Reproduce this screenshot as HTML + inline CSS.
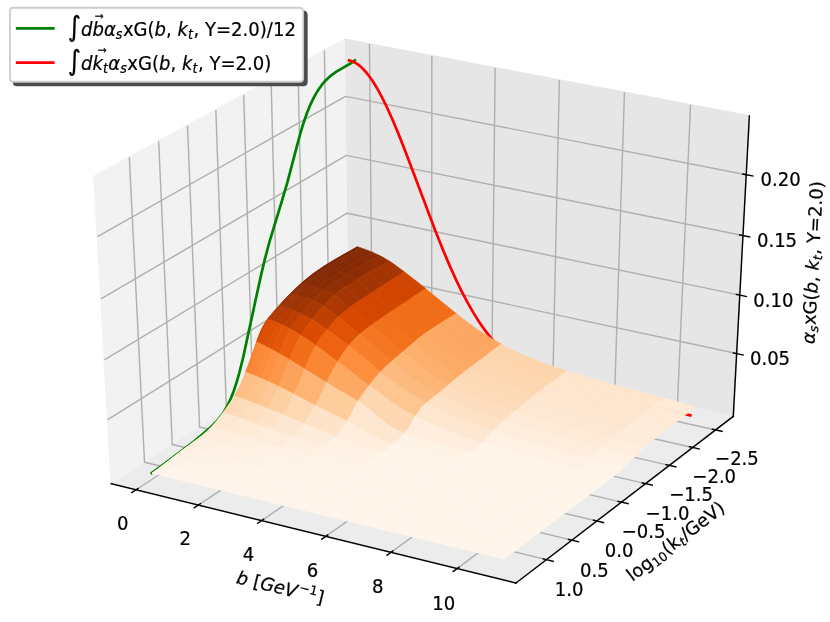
<!DOCTYPE html>
<html><head><meta charset="utf-8"><title>plot</title>
<style>html,body{margin:0;padding:0;background:#fff;}body{width:830px;height:622px;overflow:hidden;}svg{display:block;}svg text{stroke:#000;stroke-width:0.12px;}</style>
</head><body>
<svg width="830" height="622" viewBox="0 0 459.69 344.49" version="1.1"> <defs> <style type="text/css">*{stroke-linejoin: round; stroke-linecap: butt}</style> </defs> <g id="figure_1"> <g id="patch_1"> <path d="M 0 344.49  L 459.69 344.49  L 459.69 0  L 0 0  z " style="fill: #ffffff"/> </g> <g id="patch_2"> <path d="M 0.74 344.06  L 460.15 344.06  L 460.15 -0.69  L 0.74 -0.69  z " style="fill: #ffffff"/> </g> <g id="pane3d_1"> <g id="patch_3"> <path d="M 193.13 183.35  L 61.64 267.88  L 52.12 97.78  L 190.94 21.83  " style="fill: #f2f2f2; stroke: #f2f2f2; stroke-linejoin: miter"/> </g> </g> <g id="pane3d_2"> <g id="patch_4"> <path d="M 193.13 183.35  L 406.12 230.61  L 415.03 64.22  L 190.94 21.83  " style="fill: #e6e6e6; stroke: #e6e6e6; stroke-linejoin: miter"/> </g> </g> <g id="pane3d_3"> <g id="patch_5"> <path d="M 193.13 183.35  L 406.12 230.61  L 285.74 322.92  L 61.64 267.88  " style="fill: #ececec; stroke: #ececec; stroke-linejoin: miter"/> </g> </g> <g id="grid3d_1"> <g id="Line3DCollection_1"> <path d="M 75.30 271.24  L 206.15 186.24  L 204.62 24.42  " style="fill: none; stroke: #b0b0b0; stroke-width: 0.8"/> <path d="M 109.85 279.72  L 239.06 193.55  L 239.18 30.96  " style="fill: none; stroke: #b0b0b0; stroke-width: 0.8"/> <path d="M 144.89 288.33  L 272.41 200.95  L 274.24 37.59  " style="fill: none; stroke: #b0b0b0; stroke-width: 0.8"/> <path d="M 180.44 297.06  L 306.22 208.44  L 309.80 44.32  " style="fill: none; stroke: #b0b0b0; stroke-width: 0.8"/> <path d="M 216.51 305.92  L 340.48 216.05  L 345.86 51.14  " style="fill: none; stroke: #b0b0b0; stroke-width: 0.8"/> <path d="M 253.12 314.91  L 375.21 223.75  L 382.45 58.06  " style="fill: none; stroke: #b0b0b0; stroke-width: 0.8"/> </g> </g> <g id="grid3d_2"> <g id="Line3DCollection_2"> <path d="M 71.62 87.11  L 80.05 256.05  L 302.64 309.96  " style="fill: none; stroke: #b0b0b0; stroke-width: 0.8"/> <path d="M 87.88 78.22  L 95.42 246.17  L 316.74 299.15  " style="fill: none; stroke: #b0b0b0; stroke-width: 0.8"/> <path d="M 103.86 69.48  L 110.53 236.46  L 330.59 288.53  " style="fill: none; stroke: #b0b0b0; stroke-width: 0.8"/> <path d="M 119.55 60.89  L 125.38 226.91  L 344.20 278.09  " style="fill: none; stroke: #b0b0b0; stroke-width: 0.8"/> <path d="M 134.97 52.45  L 139.99 217.51  L 357.57 267.84  " style="fill: none; stroke: #b0b0b0; stroke-width: 0.8"/> <path d="M 150.13 44.16  L 154.36 208.27  L 370.72 257.76  " style="fill: none; stroke: #b0b0b0; stroke-width: 0.8"/> <path d="M 165.02 36.01  L 168.50 199.18  L 383.64 247.85  " style="fill: none; stroke: #b0b0b0; stroke-width: 0.8"/> <path d="M 179.67 28.00  L 182.41 190.24  L 396.34 238.11  " style="fill: none; stroke: #b0b0b0; stroke-width: 0.8"/> </g> </g> <g id="grid3d_3"> <g id="Line3DCollection_3"> <path d="M 407.98 195.80  L 192.67 149.51  L 59.65 232.35  " style="fill: none; stroke: #b0b0b0; stroke-width: 0.8"/> <path d="M 409.72 163.46  L 192.24 118.08  L 57.80 199.30  " style="fill: none; stroke: #b0b0b0; stroke-width: 0.8"/> <path d="M 411.48 130.45  L 191.81 86.04  L 55.92 165.56  " style="fill: none; stroke: #b0b0b0; stroke-width: 0.8"/> <path d="M 413.29 96.77  L 191.37 53.37  L 53.99 131.10  " style="fill: none; stroke: #b0b0b0; stroke-width: 0.8"/> </g> </g> <g id="axis3d_1"> <g id="line2d_1"> <path d="M 61.64 267.88  L 285.74 322.92  " style="fill: none; stroke: #000000; stroke-width: 0.8; stroke-linecap: square"/> </g> <g id="xtick_1"> <g id="line2d_2"> <path d="M 76.43 270.51  L 73.05 272.70  " style="fill: none; stroke: #000000; stroke-width: 0.8; stroke-linecap: square"/> </g> <g id="text_1"> <text style="font-size: 10px; font-family: 'DejaVu Sans', 'Liberation Sans', sans-serif; text-anchor: middle" x="68.01" y="292.76" transform="rotate(-0 68.01 292.76) translate(0 285.47) scale(1 1.09) translate(0 -285.47)">0</text> </g> </g> <g id="xtick_2"> <g id="line2d_3"> <path d="M 110.96 278.98  L 107.61 281.21  " style="fill: none; stroke: #000000; stroke-width: 0.8; stroke-linecap: square"/> </g> <g id="text_2"> <text style="font-size: 10px; font-family: 'DejaVu Sans', 'Liberation Sans', sans-serif; text-anchor: middle" x="102.55" y="301.36" transform="rotate(-0 102.55 301.36) translate(0 294.07) scale(1 1.09) translate(0 -294.07)">2</text> </g> </g> <g id="xtick_3"> <g id="line2d_4"> <path d="M 145.99 287.57  L 142.68 289.84  " style="fill: none; stroke: #000000; stroke-width: 0.8; stroke-linecap: square"/> </g> <g id="text_3"> <text style="font-size: 10px; font-family: 'DejaVu Sans', 'Liberation Sans', sans-serif; text-anchor: middle" x="137.59" y="310.08" transform="rotate(-0 137.59 310.08) translate(0 302.79) scale(1 1.09) translate(0 -302.79)">4</text> </g> </g> <g id="xtick_4"> <g id="line2d_5"> <path d="M 181.52 296.29  L 178.26 298.59  " style="fill: none; stroke: #000000; stroke-width: 0.8; stroke-linecap: square"/> </g> <g id="text_4"> <text style="font-size: 10px; font-family: 'DejaVu Sans', 'Liberation Sans', sans-serif; text-anchor: middle" x="173.14" y="318.92" transform="rotate(-0 173.14 318.92) translate(0 311.63) scale(1 1.09) translate(0 -311.63)">6</text> </g> </g> <g id="xtick_5"> <g id="line2d_6"> <path d="M 217.58 305.14  L 214.37 307.47  " style="fill: none; stroke: #000000; stroke-width: 0.8; stroke-linecap: square"/> </g> <g id="text_5"> <text style="font-size: 10px; font-family: 'DejaVu Sans', 'Liberation Sans', sans-serif; text-anchor: middle" x="209.21" y="327.90" transform="rotate(-0 209.21 327.90) translate(0 320.61) scale(1 1.09) translate(0 -320.61)">8</text> </g> </g> <g id="xtick_6"> <g id="line2d_7"> <path d="M 254.18 314.12  L 251.01 316.49  " style="fill: none; stroke: #000000; stroke-width: 0.8; stroke-linecap: square"/> </g> <g id="text_6"> <text style="font-size: 10px; font-family: 'DejaVu Sans', 'Liberation Sans', sans-serif; text-anchor: middle" x="245.82" y="337.01" transform="rotate(-0 245.82 337.01) translate(0 329.72) scale(1 1.09) translate(0 -329.72)">10</text> </g> </g> <g id="text_7"> <!-- $b\ [GeV^{-1}]$ --> <g transform="translate(130.45 322.90) rotate(-346.20)"> <text><tspan x="0" y="-0.06" style="font-style: oblique; font-size: 10px; font-family: 'DejaVu Sans', 'Liberation Sans', sans-serif">b</tspan><tspan x="9.59" y="-0.06" style="font-size: 10px; font-family: 'DejaVu Sans', 'Liberation Sans', sans-serif">[</tspan><tspan x="13.49" y="-0.06" style="font-style: oblique; font-size: 10px; font-family: 'DejaVu Sans', 'Liberation Sans', sans-serif">G</tspan><tspan x="21.24" y="-0.06" style="font-style: oblique; font-size: 10px; font-family: 'DejaVu Sans', 'Liberation Sans', sans-serif">e</tspan><tspan x="27.39" y="-0.06" style="font-style: oblique; font-size: 10px; font-family: 'DejaVu Sans', 'Liberation Sans', sans-serif">V</tspan><tspan x="34.94" y="-3.89" style="font-size: 7px; font-family: 'DejaVu Sans', 'Liberation Sans', sans-serif">−</tspan><tspan x="40.80" y="-3.89" style="font-size: 7px; font-family: 'DejaVu Sans', 'Liberation Sans', sans-serif">1</tspan><tspan x="45.53" y="-0.06" style="font-size: 10px; font-family: 'DejaVu Sans', 'Liberation Sans', sans-serif">]</tspan></text> </g> </g> </g> <g id="axis3d_2"> <g id="line2d_8"> <path d="M 406.12 230.61  L 285.74 322.92  " style="fill: none; stroke: #000000; stroke-width: 0.8; stroke-linecap: square"/> </g> <g id="xtick_7"> <g id="line2d_9"> <path d="M 300.78 309.51  L 306.37 310.86  " style="fill: none; stroke: #000000; stroke-width: 0.8; stroke-linecap: square"/> </g> <g id="text_8"> <text style="font-size: 10px; font-family: 'DejaVu Sans', 'Liberation Sans', sans-serif; text-anchor: middle" x="315.23" y="329.70" transform="rotate(-0 315.23 329.70) translate(0 322.41) scale(1 1.09) translate(0 -322.41)">1.0</text> </g> </g> <g id="xtick_8"> <g id="line2d_10"> <path d="M 314.89 298.71  L 320.45 300.04  " style="fill: none; stroke: #000000; stroke-width: 0.8; stroke-linecap: square"/> </g> <g id="text_9"> <text style="font-size: 10px; font-family: 'DejaVu Sans', 'Liberation Sans', sans-serif; text-anchor: middle" x="329.21" y="318.79" transform="rotate(-0 329.21 318.79) translate(0 311.50) scale(1 1.09) translate(0 -311.50)">0.5</text> </g> </g> <g id="xtick_9"> <g id="line2d_11"> <path d="M 328.75 288.09  L 334.27 289.40  " style="fill: none; stroke: #000000; stroke-width: 0.8; stroke-linecap: square"/> </g> <g id="text_10"> <text style="font-size: 10px; font-family: 'DejaVu Sans', 'Liberation Sans', sans-serif; text-anchor: middle" x="342.95" y="308.07" transform="rotate(-0 342.95 308.07) translate(0 300.78) scale(1 1.09) translate(0 -300.78)">0.0</text> </g> </g> <g id="xtick_10"> <g id="line2d_12"> <path d="M 342.37 277.67  L 347.86 278.95  " style="fill: none; stroke: #000000; stroke-width: 0.8; stroke-linecap: square"/> </g> <g id="text_11"> <text style="font-size: 10px; font-family: 'DejaVu Sans', 'Liberation Sans', sans-serif; text-anchor: middle" x="356.44" y="297.53" transform="rotate(-0 356.44 297.53) translate(0 290.24) scale(1 1.09) translate(0 -290.24)">−0.5</text> </g> </g> <g id="xtick_11"> <g id="line2d_13"> <path d="M 355.75 267.42  L 361.21 268.68  " style="fill: none; stroke: #000000; stroke-width: 0.8; stroke-linecap: square"/> </g> <g id="text_12"> <text style="font-size: 10px; font-family: 'DejaVu Sans', 'Liberation Sans', sans-serif; text-anchor: middle" x="369.71" y="287.18" transform="rotate(-0 369.71 287.18) translate(0 279.89) scale(1 1.09) translate(0 -279.89)">−1.0</text> </g> </g> <g id="xtick_12"> <g id="line2d_14"> <path d="M 368.91 257.35  L 374.33 258.59  " style="fill: none; stroke: #000000; stroke-width: 0.8; stroke-linecap: square"/> </g> <g id="text_13"> <text style="font-size: 10px; font-family: 'DejaVu Sans', 'Liberation Sans', sans-serif; text-anchor: middle" x="382.74" y="277.00" transform="rotate(-0 382.74 277.00) translate(0 269.71) scale(1 1.09) translate(0 -269.71)">−1.5</text> </g> </g> <g id="xtick_13"> <g id="line2d_15"> <path d="M 381.84 247.45  L 387.23 248.66  " style="fill: none; stroke: #000000; stroke-width: 0.8; stroke-linecap: square"/> </g> <g id="text_14"> <text style="font-size: 10px; font-family: 'DejaVu Sans', 'Liberation Sans', sans-serif; text-anchor: middle" x="395.56" y="267.00" transform="rotate(-0 395.56 267.00) translate(0 259.71) scale(1 1.09) translate(0 -259.71)">−2.0</text> </g> </g> <g id="xtick_14"> <g id="line2d_16"> <path d="M 394.55 237.71  L 399.91 238.91  " style="fill: none; stroke: #000000; stroke-width: 0.8; stroke-linecap: square"/> </g> <g id="text_15"> <text style="font-size: 10px; font-family: 'DejaVu Sans', 'Liberation Sans', sans-serif; text-anchor: middle" x="408.15" y="257.16" transform="rotate(-0 408.15 257.16) translate(0 249.88) scale(1 1.09) translate(0 -249.88)">−2.5</text> </g> </g> <g id="text_16"> <!-- log$_{10}$(k$_t$/GeV) --> <g transform="translate(350.53 322.71) rotate(-37.48)"> <text><tspan x="0" y="-0.40" style="font-size: 10px; font-family: 'DejaVu Sans', 'Liberation Sans', sans-serif">l</tspan><tspan x="2.77" y="-0.40" style="font-size: 10px; font-family: 'DejaVu Sans', 'Liberation Sans', sans-serif">o</tspan><tspan x="8.89" y="-0.40" style="font-size: 10px; font-family: 'DejaVu Sans', 'Liberation Sans', sans-serif">g</tspan><tspan x="15.33" y="1.23" style="font-size: 7px; font-family: 'DejaVu Sans', 'Liberation Sans', sans-serif">1</tspan><tspan x="19.79" y="1.23" style="font-size: 7px; font-family: 'DejaVu Sans', 'Liberation Sans', sans-serif">0</tspan><tspan x="24.52" y="-0.40" style="font-size: 10px; font-family: 'DejaVu Sans', 'Liberation Sans', sans-serif">(</tspan><tspan x="28.42" y="-0.40" style="font-size: 10px; font-family: 'DejaVu Sans', 'Liberation Sans', sans-serif">k</tspan><tspan x="34.30" y="1.23" style="font-style: oblique; font-size: 7px; font-family: 'DejaVu Sans', 'Liberation Sans', sans-serif">t</tspan><tspan x="37.32" y="-0.40" style="font-size: 10px; font-family: 'DejaVu Sans', 'Liberation Sans', sans-serif">/</tspan><tspan x="40.69" y="-0.40" style="font-size: 10px; font-family: 'DejaVu Sans', 'Liberation Sans', sans-serif">G</tspan><tspan x="48.44" y="-0.40" style="font-size: 10px; font-family: 'DejaVu Sans', 'Liberation Sans', sans-serif">e</tspan><tspan x="54.59" y="-0.40" style="font-size: 10px; font-family: 'DejaVu Sans', 'Liberation Sans', sans-serif">V</tspan><tspan x="61.43" y="-0.40" style="font-size: 10px; font-family: 'DejaVu Sans', 'Liberation Sans', sans-serif">)</tspan></text> </g> </g> </g> <g id="axis3d_3"> <g id="line2d_17"> <path d="M 406.12 230.61  L 415.03 64.22  " style="fill: none; stroke: #000000; stroke-width: 0.8; stroke-linecap: square"/> </g> <g id="xtick_15"> <g id="line2d_18"> <path d="M 406.19 195.42  L 411.58 196.58  " style="fill: none; stroke: #000000; stroke-width: 0.8; stroke-linecap: square"/> </g> <g id="text_17"> <text style="font-size: 10px; font-family: 'DejaVu Sans', 'Liberation Sans', sans-serif; text-anchor: middle" x="426.47" y="201.46" transform="rotate(-0 426.47 201.46) translate(0 194.17) scale(1 1.09) translate(0 -194.17)">0.05</text> </g> </g> <g id="xtick_16"> <g id="line2d_19"> <path d="M 407.90 163.08  L 413.35 164.22  " style="fill: none; stroke: #000000; stroke-width: 0.8; stroke-linecap: square"/> </g> <g id="text_18"> <text style="font-size: 10px; font-family: 'DejaVu Sans', 'Liberation Sans', sans-serif; text-anchor: middle" x="428.38" y="169.16" transform="rotate(-0 428.38 169.16) translate(0 161.87) scale(1 1.09) translate(0 -161.87)">0.10</text> </g> </g> <g id="xtick_17"> <g id="line2d_20"> <path d="M 409.65 130.08  L 415.16 131.20  " style="fill: none; stroke: #000000; stroke-width: 0.8; stroke-linecap: square"/> </g> <g id="text_19"> <text style="font-size: 10px; font-family: 'DejaVu Sans', 'Liberation Sans', sans-serif; text-anchor: middle" x="430.34" y="136.19" transform="rotate(-0 430.34 136.19) translate(0 128.90) scale(1 1.09) translate(0 -128.90)">0.15</text> </g> </g> <g id="xtick_18"> <g id="line2d_21"> <path d="M 411.43 96.40  L 417.00 97.49  " style="fill: none; stroke: #000000; stroke-width: 0.8; stroke-linecap: square"/> </g> <g id="text_20"> <text style="font-size: 10px; font-family: 'DejaVu Sans', 'Liberation Sans', sans-serif; text-anchor: middle" x="432.33" y="102.55" transform="rotate(-0 432.33 102.55) translate(0 95.26) scale(1 1.09) translate(0 -95.26)">0.20</text> </g> </g> <g id="text_21"> <!-- $\alpha_s$xG($b$, $k_t$, Y=2.0) --> <g transform="translate(451.47 190.69) rotate(-86.93)"> <text><tspan x="0" y="-0.40" style="font-style: oblique; font-size: 10px; font-family: 'DejaVu Sans', 'Liberation Sans', sans-serif">α</tspan><tspan x="6.59" y="1.23" style="font-style: oblique; font-size: 7px; font-family: 'DejaVu Sans', 'Liberation Sans', sans-serif">s</tspan><tspan x="10.51" y="-0.40" style="font-size: 10px; font-family: 'DejaVu Sans', 'Liberation Sans', sans-serif">x</tspan><tspan x="16.43" y="-0.40" style="font-size: 10px; font-family: 'DejaVu Sans', 'Liberation Sans', sans-serif">G</tspan><tspan x="24.17" y="-0.40" style="font-size: 10px; font-family: 'DejaVu Sans', 'Liberation Sans', sans-serif">(</tspan><tspan x="28.08" y="-0.40" style="font-style: oblique; font-size: 10px; font-family: 'DejaVu Sans', 'Liberation Sans', sans-serif">b</tspan><tspan x="34.42" y="-0.40" style="font-size: 10px; font-family: 'DejaVu Sans', 'Liberation Sans', sans-serif">,</tspan><tspan x="37.60" y="-0.40" style="font-size: 10px; font-family: 'DejaVu Sans', 'Liberation Sans', sans-serif"> </tspan><tspan x="40.78" y="-0.40" style="font-style: oblique; font-size: 10px; font-family: 'DejaVu Sans', 'Liberation Sans', sans-serif">k</tspan><tspan x="46.57" y="1.23" style="font-style: oblique; font-size: 7px; font-family: 'DejaVu Sans', 'Liberation Sans', sans-serif">t</tspan><tspan x="49.59" y="-0.40" style="font-size: 10px; font-family: 'DejaVu Sans', 'Liberation Sans', sans-serif">,</tspan><tspan x="52.77" y="-0.40" style="font-size: 10px; font-family: 'DejaVu Sans', 'Liberation Sans', sans-serif"> </tspan><tspan x="55.95" y="-0.40" style="font-size: 10px; font-family: 'DejaVu Sans', 'Liberation Sans', sans-serif">Y</tspan><tspan x="62.06" y="-0.40" style="font-size: 10px; font-family: 'DejaVu Sans', 'Liberation Sans', sans-serif">=</tspan><tspan x="70.43" y="-0.40" style="font-size: 10px; font-family: 'DejaVu Sans', 'Liberation Sans', sans-serif">2</tspan><tspan x="76.80" y="-0.40" style="font-size: 10px; font-family: 'DejaVu Sans', 'Liberation Sans', sans-serif">.</tspan><tspan x="79.98" y="-0.40" style="font-size: 10px; font-family: 'DejaVu Sans', 'Liberation Sans', sans-serif">0</tspan><tspan x="86.34" y="-0.40" style="font-size: 10px; font-family: 'DejaVu Sans', 'Liberation Sans', sans-serif">)</tspan></text> </g> </g> </g> <g id="axes_1"> <g id="line2d_22"> <path d="M 196.51 33.51  L 194.25 35.05  L 190.86 37.04  L 186.31 39.71  L 184.03 41.30  L 182.13 42.86  L 180.23 44.71  L 178.33 46.91  L 176.44 49.54  L 174.93 51.98  L 173.43 54.76  L 171.93 57.92  L 170.07 62.45  L 168.23 67.67  L 166.40 73.65  L 164.22 81.72  L 159.17 100.99  L 156.26 110.80  L 149.36 133.59  L 146.84 142.95  L 144.72 151.76  L 141.92 164.46  L 134.62 198.19  L 132.51 206.60  L 130.73 212.77  L 129.28 217.06  L 127.82 220.77  L 126.33 223.99  L 124.83 226.76  L 123.32 229.16  L 121.41 231.71  L 119.48 233.89  L 117.15 236.16  L 112.84 239.97  L 107.72 244.22  L 101.37 249.18  L 92.56 255.73  L 84.07 262.00  L 84.07 262.00  " clip-path="url(#p91feb46b0d)" style="fill: none; stroke: #008000; stroke-width: 1.5; stroke-linecap: square"/> </g> <g id="line2d_23"> <path d="M 193.36 33.47  L 194.62 33.80  L 195.89 34.31  L 197.16 34.99  L 199.07 36.34  L 200.98 38.07  L 202.89 40.17  L 204.81 42.63  L 206.73 45.44  L 208.66 48.57  L 211.22 53.21  L 213.79 58.34  L 216.99 65.35  L 220.19 72.91  L 224.01 82.52  L 229.73 97.60  L 241.05 127.68  L 245.42 138.60  L 249.15 147.39  L 252.87 155.58  L 255.97 161.91  L 259.06 167.77  L 262.15 173.16  L 265.23 178.08  L 268.32 182.56  L 271.41 186.60  L 274.50 190.24  L 277.60 193.51  L 280.69 196.42  L 283.80 199.02  L 286.90 201.34  L 290.02 203.41  L 293.76 205.60  L 297.50 207.52  L 301.89 209.48  L 306.28 211.19  L 311.31 212.93  L 317.62 214.84  L 325.22 216.89  L 335.39 219.39  L 352.01 223.21  L 382.33 229.99  L 382.33 229.99  " clip-path="url(#p91feb46b0d)" style="fill: none; stroke: #ff0000; stroke-width: 1.5; stroke-linecap: square"/> </g> <g id="Poly3DCollection_1"> <path d="M 197.74 136.74  L 197.79 136.76  L 197.84 136.77  L 197.90 136.79  L 197.95 136.80  L 196.74 137.51  L 195.53 138.20  L 194.31 138.89  L 193.10 139.58  L 191.88 140.27  L 191.83 140.25  L 191.77 140.23  L 191.72 140.22  L 191.67 140.20  L 192.89 139.52  L 194.10 138.83  L 195.32 138.14  L 196.53 137.45  z " clip-path="url(#p91feb46b0d)" style="fill: #812804; stroke: #812804; stroke-width: 0.35"/> <path d="M 197.95 136.80  L 197.97 136.81  L 197.99 136.81  L 198.02 136.82  L 198.04 136.83  L 196.83 137.53  L 195.62 138.23  L 194.41 138.92  L 193.19 139.61  L 191.97 140.30  L 191.95 140.29  L 191.92 140.28  L 191.90 140.27  L 191.88 140.27  L 193.10 139.58  L 194.31 138.89  L 195.53 138.20  L 196.74 137.51  z " clip-path="url(#p91feb46b0d)" style="fill: #812804; stroke: #812804; stroke-width: 0.35"/> <path d="M 198.04 136.83  L 198.07 136.84  L 198.10 136.84  L 198.14 136.85  L 198.18 136.87  L 196.97 137.57  L 195.76 138.27  L 194.54 138.96  L 193.33 139.65  L 192.11 140.34  L 192.07 140.33  L 192.03 140.32  L 192.00 140.31  L 191.97 140.30  L 193.19 139.61  L 194.41 138.92  L 195.62 138.23  L 196.83 137.53  z " clip-path="url(#p91feb46b0d)" style="fill: #812804; stroke: #812804; stroke-width: 0.35"/> <path d="M 198.18 136.87  L 198.22 136.88  L 198.27 136.89  L 198.32 136.91  L 198.38 136.92  L 197.17 137.63  L 195.95 138.33  L 194.74 139.02  L 193.52 139.72  L 192.31 140.41  L 192.25 140.39  L 192.20 140.37  L 192.15 140.36  L 192.11 140.34  L 193.33 139.65  L 194.54 138.96  L 195.76 138.27  L 196.97 137.57  z " clip-path="url(#p91feb46b0d)" style="fill: #812804; stroke: #812804; stroke-width: 0.35"/> <path d="M 198.38 136.92  L 198.44 136.94  L 198.50 136.96  L 198.58 136.98  L 198.66 137.00  L 197.45 137.71  L 196.24 138.42  L 195.03 139.11  L 193.81 139.81  L 192.59 140.50  L 192.51 140.47  L 192.44 140.45  L 192.37 140.43  L 192.31 140.41  L 193.52 139.72  L 194.74 139.02  L 195.95 138.33  L 197.17 137.63  z " clip-path="url(#p91feb46b0d)" style="fill: #812804; stroke: #812804; stroke-width: 0.35"/> <path d="M 198.66 137.00  L 198.75 137.03  L 198.85 137.06  L 198.96 137.09  L 199.08 137.13  L 197.87 137.84  L 196.65 138.55  L 195.44 139.25  L 194.23 139.94  L 193.01 140.64  L 192.89 140.60  L 192.78 140.56  L 192.68 140.53  L 192.59 140.50  L 193.81 139.81  L 195.03 139.11  L 196.24 138.42  L 197.45 137.71  z " clip-path="url(#p91feb46b0d)" style="fill: #812804; stroke: #812804; stroke-width: 0.35"/> <path d="M 199.08 137.13  L 199.21 137.17  L 199.35 137.21  L 199.50 137.26  L 199.68 137.31  L 198.47 138.03  L 197.26 138.74  L 196.04 139.44  L 194.83 140.14  L 193.61 140.84  L 193.44 140.78  L 193.28 140.73  L 193.14 140.68  L 193.01 140.64  L 194.23 139.94  L 195.44 139.25  L 196.65 138.55  L 197.87 137.84  z " clip-path="url(#p91feb46b0d)" style="fill: #812804; stroke: #812804; stroke-width: 0.35"/> <path d="M 199.68 137.31  L 199.86 137.37  L 200.07 137.44  L 200.30 137.51  L 200.55 137.59  L 199.34 138.31  L 198.13 139.02  L 196.91 139.73  L 195.70 140.43  L 194.48 141.14  L 194.23 141.05  L 194.01 140.97  L 193.80 140.90  L 193.61 140.84  L 194.83 140.14  L 196.04 139.44  L 197.26 138.74  L 198.47 138.03  z " clip-path="url(#p91feb46b0d)" style="fill: #832804; stroke: #832804; stroke-width: 0.35"/> <path d="M 200.55 137.59  L 200.82 137.68  L 201.12 137.77  L 201.45 137.89  L 201.81 138.01  L 200.60 138.74  L 199.39 139.46  L 198.18 140.17  L 196.97 140.87  L 195.75 141.58  L 195.39 141.45  L 195.06 141.33  L 194.76 141.23  L 194.48 141.14  L 195.70 140.43  L 196.91 139.73  L 198.13 139.02  L 199.34 138.31  z " clip-path="url(#p91feb46b0d)" style="fill: #832804; stroke: #832804; stroke-width: 0.35"/> <path d="M 201.81 138.01  L 202.20 138.15  L 202.64 138.31  L 203.12 138.49  L 203.64 138.69  L 202.43 139.42  L 201.22 140.13  L 200.01 140.84  L 198.80 141.54  L 197.59 142.24  L 197.06 142.05  L 196.58 141.88  L 196.15 141.72  L 195.75 141.58  L 196.97 140.87  L 198.18 140.17  L 199.39 139.46  L 200.60 138.74  z " clip-path="url(#p91feb46b0d)" style="fill: #852904; stroke: #852904; stroke-width: 0.35"/> <path d="M 203.64 138.69  L 204.21 138.91  L 204.84 139.16  L 205.54 139.44  L 206.30 139.75  L 205.09 140.47  L 203.88 141.17  L 202.67 141.85  L 201.46 142.53  L 200.25 143.21  L 199.49 142.93  L 198.79 142.68  L 198.16 142.45  L 197.59 142.24  L 198.80 141.54  L 200.01 140.84  L 201.22 140.13  L 202.43 139.42  z " clip-path="url(#p91feb46b0d)" style="fill: #862a04; stroke: #862a04; stroke-width: 0.35"/> <path d="M 206.30 139.75  L 207.13 140.11  L 208.04 140.51  L 209.05 140.98  L 210.15 141.51  L 208.95 142.19  L 207.74 142.84  L 206.53 143.47  L 205.32 144.10  L 204.11 144.72  L 203.01 144.26  L 202.00 143.87  L 201.08 143.52  L 200.25 143.21  L 201.46 142.53  L 202.67 141.85  L 203.88 141.17  L 205.09 140.47  z " clip-path="url(#p91feb46b0d)" style="fill: #8a2b04; stroke: #8a2b04; stroke-width: 0.35"/> <path d="M 210.15 141.51  L 211.36 142.12  L 212.69 142.84  L 214.15 143.69  L 215.75 144.69  L 214.55 145.36  L 213.34 146.00  L 212.14 146.62  L 210.93 147.23  L 209.73 147.85  L 208.12 146.79  L 206.66 145.95  L 205.32 145.27  L 204.11 144.72  L 205.32 144.10  L 206.53 143.47  L 207.74 142.84  L 208.95 142.19  z " clip-path="url(#p91feb46b0d)" style="fill: #932f03; stroke: #932f03; stroke-width: 0.35"/> <path d="M 215.75 144.69  L 217.50 145.86  L 219.43 147.23  L 221.55 148.79  L 223.87 150.54  L 222.68 151.32  L 221.48 152.09  L 220.29 152.86  L 219.09 153.62  L 217.88 154.38  L 215.55 152.44  L 213.43 150.68  L 211.49 149.14  L 209.73 147.85  L 210.93 147.23  L 212.14 146.62  L 213.34 146.00  L 214.55 145.36  z " clip-path="url(#p91feb46b0d)" style="fill: #a53603; stroke: #a53603; stroke-width: 0.35"/> <path d="M 223.87 150.54  L 226.42 152.49  L 229.22 154.66  L 232.29 157.08  L 235.66 159.78  L 234.47 160.60  L 233.29 161.41  L 232.10 162.23  L 230.91 163.04  L 229.71 163.86  L 226.33 161.15  L 223.25 158.71  L 220.44 156.46  L 217.88 154.38  L 219.09 153.62  L 220.29 152.86  L 221.48 152.09  L 222.68 151.32  z " clip-path="url(#p91feb46b0d)" style="fill: #d04501; stroke: #d04501; stroke-width: 0.35"/> <path d="M 235.66 159.78  L 239.36 162.79  L 243.42 166.12  L 247.87 169.76  L 252.75 173.70  L 251.58 174.36  L 250.40 175.04  L 249.23 175.74  L 248.05 176.45  L 246.87 177.18  L 241.96 173.33  L 237.49 169.90  L 233.42 166.78  L 229.71 163.86  L 230.91 163.04  L 232.10 162.23  L 233.29 161.41  L 234.47 160.60  z " clip-path="url(#p91feb46b0d)" style="fill: #f26d17; stroke: #f26d17; stroke-width: 0.35"/> <path d="M 191.67 140.20  L 191.72 140.22  L 191.77 140.23  L 191.83 140.25  L 191.88 140.27  L 190.66 140.96  L 189.44 141.65  L 188.21 142.34  L 186.99 143.05  L 185.76 143.76  L 185.71 143.74  L 185.66 143.72  L 185.61 143.71  L 185.55 143.69  L 186.78 142.98  L 188.00 142.27  L 189.23 141.58  L 190.45 140.89  z " clip-path="url(#p91feb46b0d)" style="fill: #7f2704; stroke: #7f2704; stroke-width: 0.35"/> <path d="M 191.88 140.27  L 191.90 140.27  L 191.92 140.28  L 191.95 140.29  L 191.97 140.30  L 190.75 140.99  L 189.53 141.68  L 188.31 142.38  L 187.08 143.08  L 185.86 143.80  L 185.83 143.79  L 185.81 143.78  L 185.78 143.77  L 185.76 143.76  L 186.99 143.05  L 188.21 142.34  L 189.44 141.65  L 190.66 140.96  z " clip-path="url(#p91feb46b0d)" style="fill: #7f2704; stroke: #7f2704; stroke-width: 0.35"/> <path d="M 191.97 140.30  L 192.00 140.31  L 192.03 140.32  L 192.07 140.33  L 192.11 140.34  L 190.89 141.03  L 189.67 141.73  L 188.45 142.42  L 187.22 143.13  L 185.99 143.84  L 185.96 143.83  L 185.92 143.82  L 185.89 143.81  L 185.86 143.80  L 187.08 143.08  L 188.31 142.38  L 189.53 141.68  L 190.75 140.99  z " clip-path="url(#p91feb46b0d)" style="fill: #7f2704; stroke: #7f2704; stroke-width: 0.35"/> <path d="M 192.11 140.34  L 192.15 140.36  L 192.20 140.37  L 192.25 140.39  L 192.31 140.41  L 191.09 141.10  L 189.87 141.79  L 188.64 142.49  L 187.42 143.20  L 186.19 143.92  L 186.14 143.89  L 186.08 143.88  L 186.04 143.86  L 185.99 143.84  L 187.22 143.13  L 188.45 142.42  L 189.67 141.73  L 190.89 141.03  z " clip-path="url(#p91feb46b0d)" style="fill: #802704; stroke: #802704; stroke-width: 0.35"/> <path d="M 192.31 140.41  L 192.37 140.43  L 192.44 140.45  L 192.51 140.47  L 192.59 140.50  L 191.37 141.19  L 190.15 141.89  L 188.93 142.59  L 187.71 143.30  L 186.48 144.02  L 186.40 143.99  L 186.32 143.96  L 186.26 143.94  L 186.19 143.92  L 187.42 143.20  L 188.64 142.49  L 189.87 141.79  L 191.09 141.10  z " clip-path="url(#p91feb46b0d)" style="fill: #802704; stroke: #802704; stroke-width: 0.35"/> <path d="M 192.59 140.50  L 192.68 140.53  L 192.78 140.56  L 192.89 140.60  L 193.01 140.64  L 191.79 141.33  L 190.57 142.03  L 189.35 142.74  L 188.12 143.45  L 186.90 144.17  L 186.78 144.13  L 186.67 144.09  L 186.57 144.05  L 186.48 144.02  L 187.71 143.30  L 188.93 142.59  L 190.15 141.89  L 191.37 141.19  z " clip-path="url(#p91feb46b0d)" style="fill: #802704; stroke: #802704; stroke-width: 0.35"/> <path d="M 252.75 173.70  L 258.12 177.86  L 264.00 182.16  L 270.47 186.43  L 277.58 190.57  L 276.42 191.45  L 275.26 192.34  L 274.10 193.23  L 272.94 194.11  L 271.77 195.00  L 264.64 190.74  L 258.15 186.15  L 252.25 181.52  L 246.87 177.18  L 248.05 176.45  L 249.23 175.74  L 250.40 175.04  L 251.58 174.36  z " clip-path="url(#p91feb46b0d)" style="fill: #fda762; stroke: #fda762; stroke-width: 0.35"/> <path d="M 193.01 140.64  L 193.14 140.68  L 193.28 140.73  L 193.44 140.78  L 193.61 140.84  L 192.39 141.54  L 191.17 142.24  L 189.95 142.95  L 188.73 143.67  L 187.50 144.39  L 187.33 144.33  L 187.17 144.27  L 187.03 144.22  L 186.90 144.17  L 188.12 143.45  L 189.35 142.74  L 190.57 142.03  L 191.79 141.33  z " clip-path="url(#p91feb46b0d)" style="fill: #802704; stroke: #802704; stroke-width: 0.35"/> <path d="M 193.61 140.84  L 193.80 140.90  L 194.01 140.97  L 194.23 141.05  L 194.48 141.14  L 193.27 141.84  L 192.05 142.55  L 190.83 143.26  L 189.60 143.98  L 188.38 144.71  L 188.13 144.62  L 187.90 144.54  L 187.69 144.46  L 187.50 144.39  L 188.73 143.67  L 189.95 142.95  L 191.17 142.24  L 192.39 141.54  z " clip-path="url(#p91feb46b0d)" style="fill: #812804; stroke: #812804; stroke-width: 0.35"/> <path d="M 194.48 141.14  L 194.76 141.23  L 195.06 141.33  L 195.39 141.45  L 195.75 141.58  L 194.53 142.28  L 193.31 143.00  L 192.09 143.71  L 190.87 144.44  L 189.65 145.17  L 189.28 145.04  L 188.95 144.92  L 188.65 144.81  L 188.38 144.71  L 189.60 143.98  L 190.83 143.26  L 192.05 142.55  L 193.27 141.84  z " clip-path="url(#p91feb46b0d)" style="fill: #812804; stroke: #812804; stroke-width: 0.35"/> <path d="M 195.75 141.58  L 196.15 141.72  L 196.58 141.88  L 197.06 142.05  L 197.59 142.24  L 196.37 142.95  L 195.15 143.66  L 193.93 144.38  L 192.71 145.10  L 191.49 145.84  L 190.96 145.65  L 190.48 145.48  L 190.05 145.32  L 189.65 145.17  L 190.87 144.44  L 192.09 143.71  L 193.31 143.00  L 194.53 142.28  z " clip-path="url(#p91feb46b0d)" style="fill: #842904; stroke: #842904; stroke-width: 0.35"/> <path d="M 197.59 142.24  L 198.16 142.45  L 198.79 142.68  L 199.49 142.93  L 200.25 143.21  L 199.03 143.90  L 197.82 144.60  L 196.60 145.30  L 195.38 146.03  L 194.16 146.76  L 193.39 146.50  L 192.70 146.26  L 192.06 146.04  L 191.49 145.84  L 192.71 145.10  L 193.93 144.38  L 195.15 143.66  L 196.37 142.95  z " clip-path="url(#p91feb46b0d)" style="fill: #852904; stroke: #852904; stroke-width: 0.35"/> <path d="M 200.25 143.21  L 201.08 143.52  L 202.00 143.87  L 203.01 144.26  L 204.11 144.72  L 202.90 145.36  L 201.68 146.02  L 200.47 146.70  L 199.25 147.41  L 198.03 148.13  L 196.92 147.71  L 195.91 147.35  L 194.99 147.04  L 194.16 146.76  L 195.38 146.03  L 196.60 145.30  L 197.82 144.60  L 199.03 143.90  z " clip-path="url(#p91feb46b0d)" style="fill: #882a04; stroke: #882a04; stroke-width: 0.35"/> <path d="M 204.11 144.72  L 205.32 145.27  L 206.66 145.95  L 208.12 146.79  L 209.73 147.85  L 208.52 148.48  L 207.30 149.13  L 206.09 149.80  L 204.88 150.51  L 203.66 151.23  L 202.05 150.13  L 200.58 149.29  L 199.24 148.64  L 198.03 148.13  L 199.25 147.41  L 200.47 146.70  L 201.68 146.02  L 202.90 145.36  z " clip-path="url(#p91feb46b0d)" style="fill: #8f2d04; stroke: #8f2d04; stroke-width: 0.35"/> <path d="M 209.73 147.85  L 211.49 149.14  L 213.43 150.68  L 215.55 152.44  L 217.88 154.38  L 216.68 155.15  L 215.48 155.92  L 214.27 156.69  L 213.06 157.47  L 211.85 158.26  L 209.51 156.19  L 207.38 154.28  L 205.43 152.61  L 203.66 151.23  L 204.88 150.51  L 206.09 149.80  L 207.30 149.13  L 208.52 148.48  z " clip-path="url(#p91feb46b0d)" style="fill: #a43503; stroke: #a43503; stroke-width: 0.35"/> <path d="M 217.88 154.38  L 220.44 156.46  L 223.25 158.71  L 226.33 161.15  L 229.71 163.86  L 228.52 164.67  L 227.32 165.48  L 226.12 166.29  L 224.92 167.10  L 223.72 167.91  L 220.33 165.20  L 217.24 162.73  L 214.42 160.44  L 211.85 158.26  L 213.06 157.47  L 214.27 156.69  L 215.48 155.92  L 216.68 155.15  z " clip-path="url(#p91feb46b0d)" style="fill: #d14501; stroke: #d14501; stroke-width: 0.35"/> <path d="M 229.71 163.86  L 233.42 166.78  L 237.49 169.90  L 241.96 173.33  L 246.87 177.18  L 245.68 177.92  L 244.50 178.67  L 243.31 179.43  L 242.12 180.20  L 240.93 180.97  L 236.01 177.16  L 231.53 173.83  L 227.44 170.79  L 223.72 167.91  L 224.92 167.10  L 226.12 166.29  L 227.32 165.48  L 228.52 164.67  z " clip-path="url(#p91feb46b0d)" style="fill: #f26d17; stroke: #f26d17; stroke-width: 0.35"/> <path d="M 277.58 190.57  L 285.40 194.54  L 294.01 198.33  L 303.49 201.96  L 313.93 205.48  L 312.79 206.30  L 311.65 207.13  L 310.51 207.96  L 309.36 208.80  L 308.22 209.65  L 297.75 206.18  L 288.25 202.63  L 279.61 198.91  L 271.77 195.00  L 272.94 194.11  L 274.10 193.23  L 275.26 192.34  L 276.42 191.45  z " clip-path="url(#p91feb46b0d)" style="fill: #fdd5ad; stroke: #fdd5ad; stroke-width: 0.35"/> <path d="M 185.55 143.69  L 185.61 143.71  L 185.66 143.72  L 185.71 143.74  L 185.76 143.76  L 184.54 144.49  L 183.31 145.22  L 182.07 145.97  L 180.84 146.74  L 179.61 147.53  L 179.56 147.51  L 179.50 147.49  L 179.45 147.47  L 179.40 147.45  L 180.63 146.67  L 181.86 145.90  L 183.10 145.15  L 184.33 144.41  z " clip-path="url(#p91feb46b0d)" style="fill: #7f2704; stroke: #7f2704; stroke-width: 0.35"/> <path d="M 185.76 143.76  L 185.78 143.77  L 185.81 143.78  L 185.83 143.79  L 185.86 143.80  L 184.63 144.52  L 183.40 145.26  L 182.17 146.01  L 180.94 146.78  L 179.70 147.56  L 179.68 147.55  L 179.65 147.55  L 179.63 147.54  L 179.61 147.53  L 180.84 146.74  L 182.07 145.97  L 183.31 145.22  L 184.54 144.49  z " clip-path="url(#p91feb46b0d)" style="fill: #7f2704; stroke: #7f2704; stroke-width: 0.35"/> <path d="M 185.86 143.80  L 185.89 143.81  L 185.92 143.82  L 185.96 143.83  L 185.99 143.84  L 184.77 144.57  L 183.54 145.31  L 182.31 146.06  L 181.07 146.83  L 179.84 147.61  L 179.80 147.60  L 179.76 147.59  L 179.73 147.58  L 179.70 147.56  L 180.94 146.78  L 182.17 146.01  L 183.40 145.26  L 184.63 144.52  z " clip-path="url(#p91feb46b0d)" style="fill: #7f2704; stroke: #7f2704; stroke-width: 0.35"/> <path d="M 185.99 143.84  L 186.04 143.86  L 186.08 143.88  L 186.14 143.89  L 186.19 143.92  L 184.97 144.64  L 183.74 145.38  L 182.51 146.13  L 181.27 146.90  L 180.04 147.69  L 179.98 147.67  L 179.93 147.65  L 179.88 147.63  L 179.84 147.61  L 181.07 146.83  L 182.31 146.06  L 183.54 145.31  L 184.77 144.57  z " clip-path="url(#p91feb46b0d)" style="fill: #7f2704; stroke: #7f2704; stroke-width: 0.35"/> <path d="M 186.19 143.92  L 186.26 143.94  L 186.32 143.96  L 186.40 143.99  L 186.48 144.02  L 185.25 144.75  L 184.02 145.49  L 182.79 146.24  L 181.56 147.01  L 180.33 147.80  L 180.24 147.77  L 180.17 147.74  L 180.10 147.71  L 180.04 147.69  L 181.27 146.90  L 182.51 146.13  L 183.74 145.38  L 184.97 144.64  z " clip-path="url(#p91feb46b0d)" style="fill: #7f2704; stroke: #7f2704; stroke-width: 0.35"/> <path d="M 246.87 177.18  L 252.25 181.52  L 258.15 186.15  L 264.64 190.74  L 271.77 195.00  L 270.60 195.89  L 269.43 196.77  L 268.26 197.66  L 267.09 198.55  L 265.92 199.44  L 258.77 195.11  L 252.26 190.30  L 246.33 185.42  L 240.93 180.97  L 242.12 180.20  L 243.31 179.43  L 244.50 178.67  L 245.68 177.92  z " clip-path="url(#p91feb46b0d)" style="fill: #fda762; stroke: #fda762; stroke-width: 0.35"/> <path d="M 186.48 144.02  L 186.57 144.05  L 186.67 144.09  L 186.78 144.13  L 186.90 144.17  L 185.67 144.90  L 184.44 145.64  L 183.21 146.40  L 181.98 147.17  L 180.75 147.95  L 180.63 147.91  L 180.52 147.87  L 180.42 147.83  L 180.33 147.80  L 181.56 147.01  L 182.79 146.24  L 184.02 145.49  L 185.25 144.75  z " clip-path="url(#p91feb46b0d)" style="fill: #7f2704; stroke: #7f2704; stroke-width: 0.35"/> <path d="M 186.90 144.17  L 187.03 144.22  L 187.17 144.27  L 187.33 144.33  L 187.50 144.39  L 186.27 145.12  L 185.05 145.87  L 183.82 146.62  L 182.58 147.39  L 181.35 148.18  L 181.18 148.12  L 181.02 148.06  L 180.88 148.00  L 180.75 147.95  L 181.98 147.17  L 183.21 146.40  L 184.44 145.64  L 185.67 144.90  z " clip-path="url(#p91feb46b0d)" style="fill: #802704; stroke: #802704; stroke-width: 0.35"/> <path d="M 187.50 144.39  L 187.69 144.46  L 187.90 144.54  L 188.13 144.62  L 188.38 144.71  L 187.15 145.45  L 185.92 146.19  L 184.69 146.95  L 183.46 147.72  L 182.23 148.51  L 181.98 148.42  L 181.75 148.33  L 181.54 148.25  L 181.35 148.18  L 182.58 147.39  L 183.82 146.62  L 185.05 145.87  L 186.27 145.12  z " clip-path="url(#p91feb46b0d)" style="fill: #802704; stroke: #802704; stroke-width: 0.35"/> <path d="M 188.38 144.71  L 188.65 144.81  L 188.95 144.92  L 189.28 145.04  L 189.65 145.17  L 188.42 145.91  L 187.19 146.66  L 185.96 147.42  L 184.73 148.20  L 183.50 148.98  L 183.14 148.85  L 182.81 148.72  L 182.50 148.61  L 182.23 148.51  L 183.46 147.72  L 184.69 146.95  L 185.92 146.19  L 187.15 145.45  z " clip-path="url(#p91feb46b0d)" style="fill: #812804; stroke: #812804; stroke-width: 0.35"/> <path d="M 189.65 145.17  L 190.05 145.32  L 190.48 145.48  L 190.96 145.65  L 191.49 145.84  L 190.26 146.59  L 189.04 147.34  L 187.81 148.10  L 186.58 148.88  L 185.35 149.66  L 184.82 149.47  L 184.34 149.30  L 183.90 149.13  L 183.50 148.98  L 184.73 148.20  L 185.96 147.42  L 187.19 146.66  L 188.42 145.91  z " clip-path="url(#p91feb46b0d)" style="fill: #832804; stroke: #832804; stroke-width: 0.35"/> <path d="M 191.49 145.84  L 192.06 146.04  L 192.70 146.26  L 193.39 146.50  L 194.16 146.76  L 192.93 147.51  L 191.71 148.26  L 190.48 149.02  L 189.25 149.80  L 188.02 150.58  L 187.26 150.32  L 186.56 150.09  L 185.93 149.87  L 185.35 149.66  L 186.58 148.88  L 187.81 148.10  L 189.04 147.34  L 190.26 146.59  z " clip-path="url(#p91feb46b0d)" style="fill: #852904; stroke: #852904; stroke-width: 0.35"/> <path d="M 194.16 146.76  L 194.99 147.04  L 195.91 147.35  L 196.92 147.71  L 198.03 148.13  L 196.81 148.86  L 195.58 149.61  L 194.36 150.37  L 193.13 151.14  L 191.91 151.93  L 190.80 151.52  L 189.78 151.17  L 188.86 150.86  L 188.02 150.58  L 189.25 149.80  L 190.48 149.02  L 191.71 148.26  L 192.93 147.51  z " clip-path="url(#p91feb46b0d)" style="fill: #882a04; stroke: #882a04; stroke-width: 0.35"/> <path d="M 198.03 148.13  L 199.24 148.64  L 200.58 149.29  L 202.05 150.13  L 203.66 151.23  L 202.44 151.97  L 201.22 152.72  L 200.00 153.49  L 198.78 154.26  L 197.55 155.04  L 195.94 153.93  L 194.46 153.08  L 193.12 152.43  L 191.91 151.93  L 193.13 151.14  L 194.36 150.37  L 195.58 149.61  L 196.81 148.86  z " clip-path="url(#p91feb46b0d)" style="fill: #8e2d04; stroke: #8e2d04; stroke-width: 0.35"/> <path d="M 203.66 151.23  L 205.43 152.61  L 207.38 154.28  L 209.51 156.19  L 211.85 158.26  L 210.64 159.05  L 209.43 159.84  L 208.21 160.62  L 206.99 161.41  L 205.78 162.21  L 203.43 160.10  L 201.28 158.15  L 199.33 156.45  L 197.55 155.04  L 198.78 154.26  L 200.00 153.49  L 201.22 152.72  L 202.44 151.97  z " clip-path="url(#p91feb46b0d)" style="fill: #a23503; stroke: #a23503; stroke-width: 0.35"/> <path d="M 211.85 158.26  L 214.42 160.44  L 217.24 162.73  L 220.33 165.20  L 223.72 167.91  L 222.52 168.71  L 221.31 169.52  L 220.11 170.32  L 218.90 171.12  L 217.69 171.92  L 214.28 169.20  L 211.18 166.72  L 208.35 164.42  L 205.78 162.21  L 206.99 161.41  L 208.21 160.62  L 209.43 159.84  L 210.64 159.05  z " clip-path="url(#p91feb46b0d)" style="fill: #d34601; stroke: #d34601; stroke-width: 0.35"/> <path d="M 223.72 167.91  L 227.44 170.79  L 231.53 173.83  L 236.01 177.16  L 240.93 180.97  L 239.74 181.75  L 238.55 182.54  L 237.35 183.33  L 236.16 184.13  L 234.96 184.99  L 230.02 181.17  L 225.52 177.84  L 221.42 174.80  L 217.69 171.92  L 218.90 171.12  L 220.11 170.32  L 221.31 169.52  L 222.52 168.71  z " clip-path="url(#p91feb46b0d)" style="fill: #f26d17; stroke: #f26d17; stroke-width: 0.35"/> <path d="M 271.77 195.00  L 279.61 198.91  L 288.25 202.63  L 297.75 206.18  L 308.22 209.65  L 307.07 210.50  L 305.92 211.36  L 304.77 212.22  L 303.62 213.08  L 302.46 213.95  L 291.97 210.50  L 282.44 206.98  L 273.78 203.30  L 265.92 199.44  L 267.09 198.55  L 268.26 197.66  L 269.43 196.77  L 270.60 195.89  z " clip-path="url(#p91feb46b0d)" style="fill: #fdd6ae; stroke: #fdd6ae; stroke-width: 0.35"/> <path d="M 179.40 147.45  L 179.45 147.47  L 179.50 147.49  L 179.56 147.51  L 179.61 147.53  L 178.37 148.34  L 177.14 149.17  L 175.90 150.02  L 174.66 150.90  L 173.42 151.80  L 173.36 151.79  L 173.31 151.77  L 173.26 151.75  L 173.21 151.74  L 174.45 150.83  L 175.69 149.95  L 176.92 149.09  L 178.16 148.26  z " clip-path="url(#p91feb46b0d)" style="fill: #7f2704; stroke: #7f2704; stroke-width: 0.35"/> <path d="M 179.61 147.53  L 179.63 147.54  L 179.65 147.55  L 179.68 147.55  L 179.70 147.56  L 178.47 148.37  L 177.23 149.20  L 175.99 150.05  L 174.75 150.93  L 173.51 151.83  L 173.48 151.83  L 173.46 151.82  L 173.44 151.81  L 173.42 151.80  L 174.66 150.90  L 175.90 150.02  L 177.14 149.17  L 178.37 148.34  z " clip-path="url(#p91feb46b0d)" style="fill: #802704; stroke: #802704; stroke-width: 0.35"/> <path d="M 179.70 147.56  L 179.73 147.58  L 179.76 147.59  L 179.80 147.60  L 179.84 147.61  L 178.60 148.42  L 177.37 149.25  L 176.13 150.10  L 174.89 150.98  L 173.65 151.88  L 173.61 151.87  L 173.57 151.85  L 173.54 151.84  L 173.51 151.83  L 174.75 150.93  L 175.99 150.05  L 177.23 149.20  L 178.47 148.37  z " clip-path="url(#p91feb46b0d)" style="fill: #802704; stroke: #802704; stroke-width: 0.35"/> <path d="M 179.84 147.61  L 179.88 147.63  L 179.93 147.65  L 179.98 147.67  L 180.04 147.69  L 178.80 148.50  L 177.57 149.32  L 176.33 150.17  L 175.09 151.04  L 173.85 151.94  L 173.79 151.92  L 173.74 151.91  L 173.69 151.89  L 173.65 151.88  L 174.89 150.98  L 176.13 150.10  L 177.37 149.25  L 178.60 148.42  z " clip-path="url(#p91feb46b0d)" style="fill: #802704; stroke: #802704; stroke-width: 0.35"/> <path d="M 180.04 147.69  L 180.10 147.71  L 180.17 147.74  L 180.24 147.77  L 180.33 147.80  L 179.09 148.60  L 177.86 149.43  L 176.62 150.27  L 175.38 151.14  L 174.14 152.03  L 174.05 152.01  L 173.98 151.98  L 173.91 151.96  L 173.85 151.94  L 175.09 151.04  L 176.33 150.17  L 177.57 149.32  L 178.80 148.50  z " clip-path="url(#p91feb46b0d)" style="fill: #802704; stroke: #802704; stroke-width: 0.35"/> <path d="M 240.93 180.97  L 246.33 185.42  L 252.26 190.30  L 258.77 195.11  L 265.92 199.44  L 264.74 200.33  L 263.56 201.22  L 262.38 202.10  L 261.20 202.98  L 260.02 203.86  L 252.85 199.49  L 246.32 194.53  L 240.38 189.51  L 234.96 184.99  L 236.16 184.13  L 237.35 183.33  L 238.55 182.54  L 239.74 181.75  z " clip-path="url(#p91feb46b0d)" style="fill: #fda863; stroke: #fda863; stroke-width: 0.35"/> <path d="M 180.33 147.80  L 180.42 147.83  L 180.52 147.87  L 180.63 147.91  L 180.75 147.95  L 179.51 148.76  L 178.27 149.59  L 177.04 150.42  L 175.80 151.29  L 174.56 152.17  L 174.44 152.13  L 174.33 152.10  L 174.23 152.06  L 174.14 152.03  L 175.38 151.14  L 176.62 150.27  L 177.86 149.43  L 179.09 148.60  z " clip-path="url(#p91feb46b0d)" style="fill: #802704; stroke: #802704; stroke-width: 0.35"/> <path d="M 180.75 147.95  L 180.88 148.00  L 181.02 148.06  L 181.18 148.12  L 181.35 148.18  L 180.12 148.99  L 178.88 149.81  L 177.64 150.64  L 176.40 151.50  L 175.16 152.37  L 174.99 152.32  L 174.83 152.26  L 174.69 152.22  L 174.56 152.17  L 175.80 151.29  L 177.04 150.42  L 178.27 149.59  L 179.51 148.76  z " clip-path="url(#p91feb46b0d)" style="fill: #802704; stroke: #802704; stroke-width: 0.35"/> <path d="M 181.35 148.18  L 181.54 148.25  L 181.75 148.33  L 181.98 148.42  L 182.23 148.51  L 181.00 149.31  L 179.76 150.14  L 178.52 150.96  L 177.28 151.80  L 176.04 152.66  L 175.79 152.58  L 175.56 152.51  L 175.35 152.44  L 175.16 152.37  L 176.40 151.50  L 177.64 150.64  L 178.88 149.81  L 180.12 148.99  z " clip-path="url(#p91feb46b0d)" style="fill: #812804; stroke: #812804; stroke-width: 0.35"/> <path d="M 182.23 148.51  L 182.50 148.61  L 182.81 148.72  L 183.14 148.85  L 183.50 148.98  L 182.27 149.79  L 181.03 150.61  L 179.80 151.42  L 178.56 152.24  L 177.32 153.09  L 176.95 152.97  L 176.62 152.85  L 176.32 152.75  L 176.04 152.66  L 177.28 151.80  L 178.52 150.96  L 179.76 150.14  L 181.00 149.31  z " clip-path="url(#p91feb46b0d)" style="fill: #832804; stroke: #832804; stroke-width: 0.35"/> <path d="M 183.50 148.98  L 183.90 149.13  L 184.34 149.30  L 184.82 149.47  L 185.35 149.66  L 184.12 150.46  L 182.88 151.28  L 181.64 152.08  L 180.41 152.88  L 179.17 153.71  L 178.64 153.54  L 178.16 153.37  L 177.72 153.22  L 177.32 153.09  L 178.56 152.24  L 179.80 151.42  L 181.03 150.61  L 182.27 149.79  z " clip-path="url(#p91feb46b0d)" style="fill: #842904; stroke: #842904; stroke-width: 0.35"/> <path d="M 185.35 149.66  L 185.93 149.87  L 186.56 150.09  L 187.26 150.32  L 188.02 150.58  L 186.79 151.38  L 185.56 152.19  L 184.32 152.98  L 183.09 153.76  L 181.85 154.57  L 181.08 154.33  L 180.38 154.10  L 179.75 153.90  L 179.17 153.71  L 180.41 152.88  L 181.64 152.08  L 182.88 151.28  L 184.12 150.46  z " clip-path="url(#p91feb46b0d)" style="fill: #852904; stroke: #852904; stroke-width: 0.35"/> <path d="M 188.02 150.58  L 188.86 150.86  L 189.78 151.17  L 190.80 151.52  L 191.91 151.93  L 190.68 152.72  L 189.45 153.53  L 188.21 154.30  L 186.98 155.07  L 185.74 155.87  L 184.63 155.46  L 183.61 155.12  L 182.69 154.83  L 181.85 154.57  L 183.09 153.76  L 184.32 152.98  L 185.56 152.19  L 186.79 151.38  z " clip-path="url(#p91feb46b0d)" style="fill: #882a04; stroke: #882a04; stroke-width: 0.35"/> <path d="M 191.91 151.93  L 193.12 152.43  L 194.46 153.08  L 195.94 153.93  L 197.55 155.04  L 196.33 155.83  L 195.10 156.64  L 193.87 157.41  L 192.64 158.18  L 191.40 158.97  L 189.78 157.86  L 188.31 157.01  L 186.96 156.36  L 185.74 155.87  L 186.98 155.07  L 188.21 154.30  L 189.45 153.53  L 190.68 152.72  z " clip-path="url(#p91feb46b0d)" style="fill: #8e2d04; stroke: #8e2d04; stroke-width: 0.35"/> <path d="M 197.55 155.04  L 199.33 156.45  L 201.28 158.15  L 203.43 160.10  L 205.78 162.21  L 204.56 163.00  L 203.33 163.81  L 202.11 164.60  L 200.88 165.39  L 199.66 166.19  L 197.30 164.06  L 195.15 162.10  L 193.19 160.39  L 191.40 158.97  L 192.64 158.18  L 193.87 157.41  L 195.10 156.64  L 196.33 155.83  z " clip-path="url(#p91feb46b0d)" style="fill: #a43503; stroke: #a43503; stroke-width: 0.35"/> <path d="M 205.78 162.21  L 208.35 164.42  L 211.18 166.72  L 214.28 169.20  L 217.69 171.92  L 216.48 172.72  L 215.26 173.52  L 214.05 174.33  L 212.83 175.15  L 211.61 175.97  L 208.19 173.25  L 205.08 170.75  L 202.24 168.42  L 199.66 166.19  L 200.88 165.39  L 202.11 164.60  L 203.33 163.81  L 204.56 163.00  z " clip-path="url(#p91feb46b0d)" style="fill: #d34601; stroke: #d34601; stroke-width: 0.35"/> <path d="M 217.69 171.92  L 221.42 174.80  L 225.52 177.84  L 230.02 181.17  L 234.96 184.99  L 233.76 185.89  L 232.56 186.84  L 231.35 187.82  L 230.15 188.82  L 228.94 189.85  L 223.99 185.92  L 219.47 182.29  L 215.36 178.98  L 211.61 175.97  L 212.83 175.15  L 214.05 174.33  L 215.26 173.52  L 216.48 172.72  z " clip-path="url(#p91feb46b0d)" style="fill: #f36e19; stroke: #f36e19; stroke-width: 0.35"/> <path d="M 265.92 199.44  L 273.78 203.30  L 282.44 206.98  L 291.97 210.50  L 302.46 213.95  L 301.31 214.81  L 300.15 215.69  L 298.99 216.57  L 297.83 217.46  L 296.67 218.35  L 286.15 214.89  L 276.59 211.36  L 267.91 207.69  L 260.02 203.86  L 261.20 202.98  L 262.38 202.10  L 263.56 201.22  L 264.74 200.33  z " clip-path="url(#p91feb46b0d)" style="fill: #fdd7b1; stroke: #fdd7b1; stroke-width: 0.35"/> <path d="M 173.21 151.74  L 173.26 151.75  L 173.31 151.77  L 173.36 151.79  L 173.42 151.80  L 172.18 152.74  L 170.93 153.71  L 169.69 154.72  L 168.44 155.76  L 167.20 156.84  L 167.15 156.83  L 167.09 156.81  L 167.04 156.80  L 166.99 156.79  L 168.23 155.71  L 169.48 154.66  L 170.72 153.65  L 171.96 152.68  z " clip-path="url(#p91feb46b0d)" style="fill: #842904; stroke: #842904; stroke-width: 0.35"/> <path d="M 173.42 151.80  L 173.44 151.81  L 173.46 151.82  L 173.48 151.83  L 173.51 151.83  L 172.27 152.77  L 171.03 153.74  L 169.78 154.74  L 168.54 155.79  L 167.29 156.87  L 167.27 156.86  L 167.24 156.85  L 167.22 156.85  L 167.20 156.84  L 168.44 155.76  L 169.69 154.72  L 170.93 153.71  L 172.18 152.74  z " clip-path="url(#p91feb46b0d)" style="fill: #842904; stroke: #842904; stroke-width: 0.35"/> <path d="M 173.51 151.83  L 173.54 151.84  L 173.57 151.85  L 173.61 151.87  L 173.65 151.88  L 172.41 152.81  L 171.16 153.78  L 169.92 154.78  L 168.68 155.82  L 167.43 156.90  L 167.39 156.89  L 167.36 156.88  L 167.32 156.87  L 167.29 156.87  L 168.54 155.79  L 169.78 154.74  L 171.03 153.74  L 172.27 152.77  z " clip-path="url(#p91feb46b0d)" style="fill: #842904; stroke: #842904; stroke-width: 0.35"/> <path d="M 173.65 151.88  L 173.69 151.89  L 173.74 151.91  L 173.79 151.92  L 173.85 151.94  L 172.61 152.87  L 171.36 153.83  L 170.12 154.83  L 168.88 155.88  L 167.63 156.96  L 167.57 156.94  L 167.52 156.93  L 167.47 156.91  L 167.43 156.90  L 168.68 155.82  L 169.92 154.78  L 171.16 153.78  L 172.41 152.81  z " clip-path="url(#p91feb46b0d)" style="fill: #842904; stroke: #842904; stroke-width: 0.35"/> <path d="M 173.85 151.94  L 173.91 151.96  L 173.98 151.98  L 174.05 152.01  L 174.14 152.03  L 172.90 152.96  L 171.65 153.91  L 170.41 154.91  L 169.17 155.96  L 167.92 157.04  L 167.84 157.01  L 167.76 156.99  L 167.69 156.97  L 167.63 156.96  L 168.88 155.88  L 170.12 154.83  L 171.36 153.83  L 172.61 152.87  z " clip-path="url(#p91feb46b0d)" style="fill: #852904; stroke: #852904; stroke-width: 0.35"/> <path d="M 174.14 152.03  L 174.23 152.06  L 174.33 152.10  L 174.44 152.13  L 174.56 152.17  L 173.31 153.09  L 172.07 154.03  L 170.83 155.03  L 169.58 156.07  L 168.34 157.15  L 168.22 157.12  L 168.11 157.09  L 168.01 157.06  L 167.92 157.04  L 169.17 155.96  L 170.41 154.91  L 171.65 153.91  L 172.90 152.96  z " clip-path="url(#p91feb46b0d)" style="fill: #852904; stroke: #852904; stroke-width: 0.35"/> <path d="M 234.96 184.99  L 240.38 189.51  L 246.32 194.53  L 252.85 199.49  L 260.02 203.86  L 258.84 204.74  L 257.65 205.63  L 256.47 206.53  L 255.28 207.45  L 254.09 208.38  L 246.89 204.02  L 240.34 199.16  L 234.38 194.26  L 228.94 189.85  L 230.15 188.82  L 231.35 187.82  L 232.56 186.84  L 233.76 185.89  z " clip-path="url(#p91feb46b0d)" style="fill: #fdac67; stroke: #fdac67; stroke-width: 0.35"/> <path d="M 313.93 205.48  L 325.43 208.98  L 338.12 212.52  L 352.12 216.24  L 367.55 220.40  L 366.44 221.22  L 365.33 222.05  L 364.22 222.87  L 363.10 223.70  L 361.98 224.53  L 346.51 220.37  L 332.48 216.65  L 319.76 213.12  L 308.22 209.65  L 309.36 208.80  L 310.51 207.96  L 311.65 207.13  L 312.79 206.30  z " clip-path="url(#p91feb46b0d)" style="fill: #fee5cc; stroke: #fee5cc; stroke-width: 0.35"/> <path d="M 174.56 152.17  L 174.69 152.22  L 174.83 152.26  L 174.99 152.32  L 175.16 152.37  L 173.92 153.28  L 172.68 154.21  L 171.44 155.20  L 170.19 156.25  L 168.95 157.33  L 168.77 157.28  L 168.61 157.23  L 168.47 157.19  L 168.34 157.15  L 169.58 156.07  L 170.83 155.03  L 172.07 154.03  L 173.31 153.09  z " clip-path="url(#p91feb46b0d)" style="fill: #852904; stroke: #852904; stroke-width: 0.35"/> <path d="M 175.16 152.37  L 175.35 152.44  L 175.56 152.51  L 175.79 152.58  L 176.04 152.66  L 174.80 153.55  L 173.56 154.47  L 172.32 155.45  L 171.07 156.50  L 169.83 157.58  L 169.58 157.51  L 169.35 157.44  L 169.14 157.38  L 168.95 157.33  L 170.19 156.25  L 171.44 155.20  L 172.68 154.21  L 173.92 153.28  z " clip-path="url(#p91feb46b0d)" style="fill: #852904; stroke: #852904; stroke-width: 0.35"/> <path d="M 176.04 152.66  L 176.32 152.75  L 176.62 152.85  L 176.95 152.97  L 177.32 153.09  L 176.08 153.95  L 174.83 154.85  L 173.59 155.83  L 172.35 156.87  L 171.10 157.95  L 170.74 157.84  L 170.41 157.74  L 170.10 157.66  L 169.83 157.58  L 171.07 156.50  L 172.32 155.45  L 173.56 154.47  L 174.80 153.55  z " clip-path="url(#p91feb46b0d)" style="fill: #862a04; stroke: #862a04; stroke-width: 0.35"/> <path d="M 177.32 153.09  L 177.72 153.22  L 178.16 153.37  L 178.64 153.54  L 179.17 153.71  L 177.93 154.55  L 176.68 155.42  L 175.44 156.38  L 174.20 157.43  L 172.96 158.51  L 172.43 158.35  L 171.94 158.20  L 171.51 158.07  L 171.10 157.95  L 172.35 156.87  L 173.59 155.83  L 174.83 154.85  L 176.08 153.95  z " clip-path="url(#p91feb46b0d)" style="fill: #862a04; stroke: #862a04; stroke-width: 0.35"/> <path d="M 179.17 153.71  L 179.75 153.90  L 180.38 154.10  L 181.08 154.33  L 181.85 154.57  L 180.61 155.37  L 179.37 156.21  L 178.13 157.16  L 176.88 158.21  L 175.64 159.30  L 174.88 159.07  L 174.18 158.86  L 173.54 158.68  L 172.96 158.51  L 174.20 157.43  L 175.44 156.38  L 176.68 155.42  L 177.93 154.55  z " clip-path="url(#p91feb46b0d)" style="fill: #882a04; stroke: #882a04; stroke-width: 0.35"/> <path d="M 181.85 154.57  L 182.69 154.83  L 183.61 155.12  L 184.63 155.46  L 185.74 155.87  L 184.50 156.63  L 183.26 157.45  L 182.02 158.38  L 180.78 159.43  L 179.54 160.53  L 178.43 160.14  L 177.41 159.82  L 176.49 159.54  L 175.64 159.30  L 176.88 158.21  L 178.13 157.16  L 179.37 156.21  L 180.61 155.37  z " clip-path="url(#p91feb46b0d)" style="fill: #8a2b04; stroke: #8a2b04; stroke-width: 0.35"/> <path d="M 185.74 155.87  L 186.96 156.36  L 188.31 157.01  L 189.78 157.86  L 191.40 158.97  L 190.17 159.70  L 188.93 160.49  L 187.70 161.41  L 186.46 162.44  L 185.22 163.51  L 183.59 162.45  L 182.11 161.63  L 180.77 161.01  L 179.54 160.53  L 180.78 159.43  L 182.02 158.38  L 183.26 157.45  L 184.50 156.63  z " clip-path="url(#p91feb46b0d)" style="fill: #902e04; stroke: #902e04; stroke-width: 0.35"/> <path d="M 191.40 158.97  L 193.19 160.39  L 195.15 162.10  L 197.30 164.06  L 199.66 166.19  L 198.43 166.92  L 197.20 167.70  L 195.96 168.57  L 194.73 169.51  L 193.50 170.48  L 191.13 168.41  L 188.97 166.52  L 187.01 164.87  L 185.22 163.51  L 186.46 162.44  L 187.70 161.41  L 188.93 160.49  L 190.17 159.70  z " clip-path="url(#p91feb46b0d)" style="fill: #a53603; stroke: #a53603; stroke-width: 0.35"/> <path d="M 199.66 166.19  L 202.24 168.42  L 205.08 170.75  L 208.19 173.25  L 211.61 175.97  L 210.39 176.80  L 209.17 177.65  L 207.94 178.50  L 206.72 179.37  L 205.49 180.25  L 202.06 177.49  L 198.94 174.99  L 196.09 172.67  L 193.50 170.48  L 194.73 169.51  L 195.96 168.57  L 197.20 167.70  L 198.43 166.92  z " clip-path="url(#p91feb46b0d)" style="fill: #d54601; stroke: #d54601; stroke-width: 0.35"/> <path d="M 211.61 175.97  L 215.36 178.98  L 219.47 182.29  L 223.99 185.92  L 228.94 189.85  L 227.73 190.88  L 226.52 191.92  L 225.31 192.96  L 224.10 193.99  L 222.88 195.01  L 217.91 190.80  L 213.38 186.89  L 209.25 183.36  L 205.49 180.25  L 206.72 179.37  L 207.94 178.50  L 209.17 177.65  L 210.39 176.80  z " clip-path="url(#p91feb46b0d)" style="fill: #f4711c; stroke: #f4711c; stroke-width: 0.35"/> <path d="M 166.99 156.79  L 167.04 156.80  L 167.09 156.81  L 167.15 156.83  L 167.20 156.84  L 165.95 157.95  L 164.71 159.10  L 163.46 160.27  L 162.21 161.48  L 160.96 162.71  L 160.91 162.70  L 160.85 162.69  L 160.80 162.68  L 160.75 162.66  L 162.00 161.43  L 163.25 160.22  L 164.49 159.04  L 165.74 157.90  z " clip-path="url(#p91feb46b0d)" style="fill: #8e2d04; stroke: #8e2d04; stroke-width: 0.35"/> <path d="M 167.20 156.84  L 167.22 156.85  L 167.24 156.85  L 167.27 156.86  L 167.29 156.87  L 166.05 157.98  L 164.80 159.12  L 163.55 160.29  L 162.30 161.50  L 161.05 162.73  L 161.03 162.73  L 161.00 162.72  L 160.98 162.72  L 160.96 162.71  L 162.21 161.48  L 163.46 160.27  L 164.71 159.10  L 165.95 157.95  z " clip-path="url(#p91feb46b0d)" style="fill: #8e2d04; stroke: #8e2d04; stroke-width: 0.35"/> <path d="M 167.29 156.87  L 167.32 156.87  L 167.36 156.88  L 167.39 156.89  L 167.43 156.90  L 166.18 158.01  L 164.94 159.16  L 163.69 160.33  L 162.44 161.53  L 161.19 162.77  L 161.15 162.76  L 161.12 162.75  L 161.08 162.74  L 161.05 162.73  L 162.30 161.50  L 163.55 160.29  L 164.80 159.12  L 166.05 157.98  z " clip-path="url(#p91feb46b0d)" style="fill: #8e2d04; stroke: #8e2d04; stroke-width: 0.35"/> <path d="M 167.43 156.90  L 167.47 156.91  L 167.52 156.93  L 167.57 156.94  L 167.63 156.96  L 166.38 158.07  L 165.14 159.21  L 163.89 160.38  L 162.64 161.58  L 161.39 162.81  L 161.33 162.80  L 161.28 162.79  L 161.23 162.78  L 161.19 162.77  L 162.44 161.53  L 163.69 160.33  L 164.94 159.16  L 166.18 158.01  z " clip-path="url(#p91feb46b0d)" style="fill: #8e2d04; stroke: #8e2d04; stroke-width: 0.35"/> <path d="M 167.63 156.96  L 167.69 156.97  L 167.76 156.99  L 167.84 157.01  L 167.92 157.04  L 166.67 158.15  L 165.43 159.29  L 164.18 160.46  L 162.93 161.65  L 161.68 162.89  L 161.60 162.86  L 161.52 162.85  L 161.45 162.83  L 161.39 162.81  L 162.64 161.58  L 163.89 160.38  L 165.14 159.21  L 166.38 158.07  z " clip-path="url(#p91feb46b0d)" style="fill: #8e2d04; stroke: #8e2d04; stroke-width: 0.35"/> <path d="M 167.92 157.04  L 168.01 157.06  L 168.11 157.09  L 168.22 157.12  L 168.34 157.15  L 167.09 158.27  L 165.85 159.41  L 164.60 160.57  L 163.35 161.76  L 162.10 162.99  L 161.98 162.96  L 161.87 162.93  L 161.77 162.91  L 161.68 162.89  L 162.93 161.65  L 164.18 160.46  L 165.43 159.29  L 166.67 158.15  z " clip-path="url(#p91feb46b0d)" style="fill: #8e2d04; stroke: #8e2d04; stroke-width: 0.35"/> <path d="M 260.02 203.86  L 267.91 207.69  L 276.59 211.36  L 286.15 214.89  L 296.67 218.35  L 295.50 219.25  L 294.34 220.16  L 293.17 221.09  L 292.00 222.02  L 290.83 222.97  L 280.28 219.50  L 270.70 215.95  L 262.00 212.25  L 254.09 208.38  L 255.28 207.45  L 256.47 206.53  L 257.65 205.63  L 258.84 204.74  z " clip-path="url(#p91feb46b0d)" style="fill: #fdd9b4; stroke: #fdd9b4; stroke-width: 0.35"/> <path d="M 168.34 157.15  L 168.47 157.19  L 168.61 157.23  L 168.77 157.28  L 168.95 157.33  L 167.70 158.44  L 166.45 159.58  L 165.21 160.74  L 163.96 161.92  L 162.71 163.15  L 162.53 163.10  L 162.38 163.06  L 162.23 163.02  L 162.10 162.99  L 163.35 161.76  L 164.60 160.57  L 165.85 159.41  L 167.09 158.27  z " clip-path="url(#p91feb46b0d)" style="fill: #8e2d04; stroke: #8e2d04; stroke-width: 0.35"/> <path d="M 168.95 157.33  L 169.14 157.38  L 169.35 157.44  L 169.58 157.51  L 169.83 157.58  L 168.58 158.69  L 167.34 159.83  L 166.09 160.98  L 164.84 162.16  L 163.59 163.38  L 163.34 163.31  L 163.11 163.25  L 162.90 163.20  L 162.71 163.15  L 163.96 161.92  L 165.21 160.74  L 166.45 159.58  L 167.70 158.44  z " clip-path="url(#p91feb46b0d)" style="fill: #8f2d04; stroke: #8f2d04; stroke-width: 0.35"/> <path d="M 228.94 189.85  L 234.38 194.26  L 240.34 199.16  L 246.89 204.02  L 254.09 208.38  L 252.89 209.35  L 251.70 210.34  L 250.50 211.34  L 249.31 212.36  L 248.11 213.38  L 240.89 209.11  L 234.32 204.40  L 228.34 199.57  L 222.88 195.01  L 224.10 193.99  L 225.31 192.96  L 226.52 191.92  L 227.73 190.88  z " clip-path="url(#p91feb46b0d)" style="fill: #fdb06e; stroke: #fdb06e; stroke-width: 0.35"/> <path d="M 169.83 157.58  L 170.10 157.66  L 170.41 157.74  L 170.74 157.84  L 171.10 157.95  L 169.86 159.07  L 168.61 160.21  L 167.37 161.35  L 166.12 162.52  L 164.87 163.73  L 164.50 163.63  L 164.17 163.54  L 163.87 163.45  L 163.59 163.38  L 164.84 162.16  L 166.09 160.98  L 167.34 159.83  L 168.58 158.69  z " clip-path="url(#p91feb46b0d)" style="fill: #8f2d04; stroke: #8f2d04; stroke-width: 0.35"/> <path d="M 308.22 209.65  L 319.76 213.12  L 332.48 216.65  L 346.51 220.37  L 361.98 224.53  L 360.86 225.37  L 359.74 226.21  L 358.62 227.05  L 357.50 227.89  L 356.37 228.74  L 340.86 224.60  L 326.79 220.90  L 314.03 217.39  L 302.46 213.95  L 303.62 213.08  L 304.77 212.22  L 305.92 211.36  L 307.07 210.50  z " clip-path="url(#p91feb46b0d)" style="fill: #fee5cc; stroke: #fee5cc; stroke-width: 0.35"/> <path d="M 171.10 157.95  L 171.51 158.07  L 171.94 158.20  L 172.43 158.35  L 172.96 158.51  L 171.71 159.63  L 170.47 160.78  L 169.22 161.90  L 167.97 163.07  L 166.73 164.29  L 166.19 164.13  L 165.71 163.98  L 165.27 163.85  L 164.87 163.73  L 166.12 162.52  L 167.37 161.35  L 168.61 160.21  L 169.86 159.07  z " clip-path="url(#p91feb46b0d)" style="fill: #8f2d04; stroke: #8f2d04; stroke-width: 0.35"/> <path d="M 172.96 158.51  L 173.54 158.68  L 174.18 158.86  L 174.88 159.07  L 175.64 159.30  L 174.40 160.43  L 173.16 161.59  L 171.91 162.72  L 170.66 163.90  L 169.42 165.12  L 168.65 164.88  L 167.95 164.66  L 167.31 164.46  L 166.73 164.29  L 167.97 163.07  L 169.22 161.90  L 170.47 160.78  L 171.71 159.63  z " clip-path="url(#p91feb46b0d)" style="fill: #902e04; stroke: #902e04; stroke-width: 0.35"/> <path d="M 175.64 159.30  L 176.49 159.54  L 177.41 159.82  L 178.43 160.14  L 179.54 160.53  L 178.30 161.68  L 177.06 162.86  L 175.82 164.01  L 174.57 165.22  L 173.33 166.48  L 172.21 166.06  L 171.19 165.70  L 170.26 165.39  L 169.42 165.12  L 170.66 163.90  L 171.91 162.72  L 173.16 161.59  L 174.40 160.43  z " clip-path="url(#p91feb46b0d)" style="fill: #932f03; stroke: #932f03; stroke-width: 0.35"/> <path d="M 179.54 160.53  L 180.77 161.01  L 182.11 161.63  L 183.59 162.45  L 185.22 163.51  L 183.98 164.65  L 182.74 165.82  L 181.50 166.96  L 180.26 168.16  L 179.02 169.42  L 177.39 168.42  L 175.90 167.63  L 174.55 166.99  L 173.33 166.48  L 174.57 165.22  L 175.82 164.01  L 177.06 162.86  L 178.30 161.68  z " clip-path="url(#p91feb46b0d)" style="fill: #993103; stroke: #993103; stroke-width: 0.35"/> <path d="M 160.75 162.66  L 160.80 162.68  L 160.85 162.69  L 160.91 162.70  L 160.96 162.71  L 159.71 163.98  L 158.46 165.28  L 157.20 166.60  L 155.95 167.96  L 154.70 169.34  L 154.65 169.33  L 154.59 169.32  L 154.54 169.30  L 154.49 169.29  L 155.74 167.91  L 156.99 166.55  L 158.24 165.23  L 159.50 163.93  z " clip-path="url(#p91feb46b0d)" style="fill: #9b3203; stroke: #9b3203; stroke-width: 0.35"/> <path d="M 185.22 163.51  L 187.01 164.87  L 188.97 166.52  L 191.13 168.41  L 193.50 170.48  L 192.26 171.49  L 191.03 172.53  L 189.79 173.55  L 188.55 174.61  L 187.31 175.72  L 184.94 173.83  L 182.78 172.13  L 180.81 170.66  L 179.02 169.42  L 180.26 168.16  L 181.50 166.96  L 182.74 165.82  L 183.98 164.65  z " clip-path="url(#p91feb46b0d)" style="fill: #ad3803; stroke: #ad3803; stroke-width: 0.35"/> <path d="M 160.96 162.71  L 160.98 162.72  L 161.00 162.72  L 161.03 162.73  L 161.05 162.73  L 159.80 164.00  L 158.55 165.30  L 157.30 166.63  L 156.05 167.99  L 154.79 169.37  L 154.77 169.36  L 154.74 169.36  L 154.72 169.35  L 154.70 169.34  L 155.95 167.96  L 157.20 166.60  L 158.46 165.28  L 159.71 163.98  z " clip-path="url(#p91feb46b0d)" style="fill: #9b3203; stroke: #9b3203; stroke-width: 0.35"/> <path d="M 161.05 162.73  L 161.08 162.74  L 161.12 162.75  L 161.15 162.76  L 161.19 162.77  L 159.94 164.03  L 158.69 165.33  L 157.44 166.66  L 156.19 168.02  L 154.93 169.41  L 154.89 169.40  L 154.86 169.39  L 154.82 169.38  L 154.79 169.37  L 156.05 167.99  L 157.30 166.63  L 158.55 165.30  L 159.80 164.00  z " clip-path="url(#p91feb46b0d)" style="fill: #9b3203; stroke: #9b3203; stroke-width: 0.35"/> <path d="M 161.19 162.77  L 161.23 162.78  L 161.28 162.79  L 161.33 162.80  L 161.39 162.81  L 160.14 164.08  L 158.89 165.38  L 157.64 166.71  L 156.39 168.08  L 155.13 169.47  L 155.07 169.45  L 155.02 169.44  L 154.98 169.42  L 154.93 169.41  L 156.19 168.02  L 157.44 166.66  L 158.69 165.33  L 159.94 164.03  z " clip-path="url(#p91feb46b0d)" style="fill: #9b3203; stroke: #9b3203; stroke-width: 0.35"/> <path d="M 161.39 162.81  L 161.45 162.83  L 161.52 162.85  L 161.60 162.86  L 161.68 162.89  L 160.43 164.15  L 159.18 165.44  L 157.93 166.78  L 156.68 168.16  L 155.42 169.55  L 155.34 169.53  L 155.26 169.50  L 155.19 169.48  L 155.13 169.47  L 156.39 168.08  L 157.64 166.71  L 158.89 165.38  L 160.14 164.08  z " clip-path="url(#p91feb46b0d)" style="fill: #9b3203; stroke: #9b3203; stroke-width: 0.35"/> <path d="M 161.68 162.89  L 161.77 162.91  L 161.87 162.93  L 161.98 162.96  L 162.10 162.99  L 160.85 164.25  L 159.60 165.55  L 158.35 166.89  L 157.10 168.27  L 155.84 169.67  L 155.72 169.64  L 155.61 169.61  L 155.51 169.58  L 155.42 169.55  L 156.68 168.16  L 157.93 166.78  L 159.18 165.44  L 160.43 164.15  z " clip-path="url(#p91feb46b0d)" style="fill: #9b3203; stroke: #9b3203; stroke-width: 0.35"/> <path d="M 193.50 170.48  L 196.09 172.67  L 198.94 174.99  L 202.06 177.49  L 205.49 180.25  L 204.26 181.14  L 203.03 182.06  L 201.80 183.01  L 200.57 184.00  L 199.33 185.03  L 195.90 182.36  L 192.76 179.95  L 189.91 177.75  L 187.31 175.72  L 188.55 174.61  L 189.79 173.55  L 191.03 172.53  L 192.26 171.49  z " clip-path="url(#p91feb46b0d)" style="fill: #d94801; stroke: #d94801; stroke-width: 0.35"/> <path d="M 162.10 162.99  L 162.23 163.02  L 162.38 163.06  L 162.53 163.10  L 162.71 163.15  L 161.46 164.40  L 160.21 165.70  L 158.96 167.05  L 157.71 168.45  L 156.45 169.86  L 156.28 169.81  L 156.12 169.76  L 155.98 169.71  L 155.84 169.67  L 157.10 168.27  L 158.35 166.89  L 159.60 165.55  L 160.85 164.25  z " clip-path="url(#p91feb46b0d)" style="fill: #9b3203; stroke: #9b3203; stroke-width: 0.35"/> <path d="M 205.49 180.25  L 209.25 183.36  L 213.38 186.89  L 217.91 190.80  L 222.88 195.01  L 221.67 196.04  L 220.45 197.07  L 219.23 198.11  L 218.01 199.17  L 216.79 200.24  L 211.80 195.89  L 207.25 191.79  L 203.11 188.14  L 199.33 185.03  L 200.57 184.00  L 201.80 183.01  L 203.03 182.06  L 204.26 181.14  z " clip-path="url(#p91feb46b0d)" style="fill: #f57622; stroke: #f57622; stroke-width: 0.35"/> <path d="M 162.71 163.15  L 162.90 163.20  L 163.11 163.25  L 163.34 163.31  L 163.59 163.38  L 162.34 164.63  L 161.09 165.93  L 159.84 167.30  L 158.59 168.71  L 157.34 170.14  L 157.08 170.06  L 156.85 169.98  L 156.64 169.92  L 156.45 169.86  L 157.71 168.45  L 158.96 167.05  L 160.21 165.70  L 161.46 164.40  z " clip-path="url(#p91feb46b0d)" style="fill: #9c3203; stroke: #9c3203; stroke-width: 0.35"/> <path d="M 163.59 163.38  L 163.87 163.45  L 164.17 163.54  L 164.50 163.63  L 164.87 163.73  L 163.62 164.98  L 162.37 166.29  L 161.12 167.67  L 159.87 169.12  L 158.62 170.56  L 158.25 170.43  L 157.92 170.32  L 157.62 170.22  L 157.34 170.14  L 158.59 168.71  L 159.84 167.30  L 161.09 165.93  L 162.34 164.63  z " clip-path="url(#p91feb46b0d)" style="fill: #9c3203; stroke: #9c3203; stroke-width: 0.35"/> <path d="M 367.55 220.40  L 371.80 221.59  L 376.15 222.84  L 380.62 224.17  L 385.19 225.59  L 384.09 226.42  L 382.99 227.25  L 381.89 228.08  L 380.78 228.91  L 379.67 229.74  L 375.08 228.32  L 370.61 226.99  L 366.24 225.73  L 361.98 224.53  L 363.10 223.70  L 364.22 222.87  L 365.33 222.05  L 366.44 221.22  z " clip-path="url(#p91feb46b0d)" style="fill: #feead6; stroke: #feead6; stroke-width: 0.35"/> <path d="M 254.09 208.38  L 262.00 212.25  L 270.70 215.95  L 280.28 219.50  L 290.83 222.97  L 289.66 223.92  L 288.48 224.89  L 287.30 225.87  L 286.13 226.85  L 284.95 227.83  L 274.37 224.39  L 264.76 220.88  L 256.04 217.23  L 248.11 213.38  L 249.31 212.36  L 250.50 211.34  L 251.70 210.34  L 252.89 209.35  z " clip-path="url(#p91feb46b0d)" style="fill: #fddbb8; stroke: #fddbb8; stroke-width: 0.35"/> <path d="M 222.88 195.01  L 228.34 199.57  L 234.32 204.40  L 240.89 209.11  L 248.11 213.38  L 246.91 214.41  L 245.70 215.43  L 244.50 216.45  L 243.29 217.45  L 242.09 218.43  L 234.85 214.17  L 228.26 209.54  L 222.26 204.80  L 216.79 200.24  L 218.01 199.17  L 219.23 198.11  L 220.45 197.07  L 221.67 196.04  z " clip-path="url(#p91feb46b0d)" style="fill: #fdb576; stroke: #fdb576; stroke-width: 0.35"/> <path d="M 164.87 163.73  L 165.27 163.85  L 165.71 163.98  L 166.19 164.13  L 166.73 164.29  L 165.48 165.54  L 164.23 166.86  L 162.98 168.27  L 161.73 169.75  L 160.48 171.23  L 159.95 171.03  L 159.46 170.86  L 159.02 170.70  L 158.62 170.56  L 159.87 169.12  L 161.12 167.67  L 162.37 166.29  L 163.62 164.98  z " clip-path="url(#p91feb46b0d)" style="fill: #9e3303; stroke: #9e3303; stroke-width: 0.35"/> <path d="M 166.73 164.29  L 167.31 164.46  L 167.95 164.66  L 168.65 164.88  L 169.42 165.12  L 168.17 166.39  L 166.92 167.74  L 165.68 169.21  L 164.43 170.75  L 163.18 172.27  L 162.41 171.96  L 161.71 171.69  L 161.07 171.44  L 160.48 171.23  L 161.73 169.75  L 162.98 168.27  L 164.23 166.86  L 165.48 165.54  z " clip-path="url(#p91feb46b0d)" style="fill: #9f3303; stroke: #9f3303; stroke-width: 0.35"/> <path d="M 302.46 213.95  L 314.03 217.39  L 326.79 220.90  L 340.86 224.60  L 356.37 228.74  L 355.25 229.60  L 354.12 230.47  L 352.99 231.34  L 351.85 232.23  L 350.72 233.13  L 335.16 229.01  L 321.05 225.32  L 308.27 221.81  L 296.67 218.35  L 297.83 217.46  L 298.99 216.57  L 300.15 215.69  L 301.31 214.81  z " clip-path="url(#p91feb46b0d)" style="fill: #fee6ce; stroke: #fee6ce; stroke-width: 0.35"/> <path d="M 169.42 165.12  L 170.26 165.39  L 171.19 165.70  L 172.21 166.06  L 173.33 166.48  L 172.08 167.80  L 170.84 169.21  L 169.59 170.76  L 168.35 172.39  L 167.11 173.98  L 165.98 173.46  L 164.96 173.01  L 164.03 172.62  L 163.18 172.27  L 164.43 170.75  L 165.68 169.21  L 166.92 167.74  L 168.17 166.39  z " clip-path="url(#p91feb46b0d)" style="fill: #a13403; stroke: #a13403; stroke-width: 0.35"/> <path d="M 173.33 166.48  L 174.55 166.99  L 175.90 167.63  L 177.39 168.42  L 179.02 169.42  L 177.77 170.74  L 176.53 172.17  L 175.29 173.74  L 174.05 175.41  L 172.81 177.04  L 171.18 176.08  L 169.69 175.27  L 168.34 174.57  L 167.11 173.98  L 168.35 172.39  L 169.59 170.76  L 170.84 169.21  L 172.08 167.80  z " clip-path="url(#p91feb46b0d)" style="fill: #a93703; stroke: #a93703; stroke-width: 0.35"/> <path d="M 154.49 169.29  L 154.54 169.30  L 154.59 169.32  L 154.65 169.33  L 154.70 169.34  L 153.44 170.75  L 152.19 172.19  L 150.93 173.66  L 149.68 175.16  L 148.42 176.77  L 148.37 176.76  L 148.32 176.74  L 148.26 176.72  L 148.21 176.70  L 149.47 175.10  L 150.72 173.60  L 151.98 172.13  L 153.23 170.70  z " clip-path="url(#p91feb46b0d)" style="fill: #b03903; stroke: #b03903; stroke-width: 0.35"/> <path d="M 154.70 169.34  L 154.72 169.35  L 154.74 169.36  L 154.77 169.36  L 154.79 169.37  L 153.54 170.78  L 152.28 172.22  L 151.03 173.68  L 149.77 175.19  L 148.52 176.80  L 148.49 176.79  L 148.47 176.79  L 148.44 176.78  L 148.42 176.77  L 149.68 175.16  L 150.93 173.66  L 152.19 172.19  L 153.44 170.75  z " clip-path="url(#p91feb46b0d)" style="fill: #b03903; stroke: #b03903; stroke-width: 0.35"/> <path d="M 154.79 169.37  L 154.82 169.38  L 154.86 169.39  L 154.89 169.40  L 154.93 169.41  L 153.68 170.82  L 152.42 172.26  L 151.17 173.72  L 149.91 175.23  L 148.66 176.85  L 148.62 176.84  L 148.58 176.82  L 148.55 176.81  L 148.52 176.80  L 149.77 175.19  L 151.03 173.68  L 152.28 172.22  L 153.54 170.78  z " clip-path="url(#p91feb46b0d)" style="fill: #b03903; stroke: #b03903; stroke-width: 0.35"/> <path d="M 154.93 169.41  L 154.98 169.42  L 155.02 169.44  L 155.07 169.45  L 155.13 169.47  L 153.88 170.88  L 152.62 172.31  L 151.37 173.78  L 150.11 175.28  L 148.86 176.92  L 148.80 176.90  L 148.75 176.88  L 148.70 176.86  L 148.66 176.85  L 149.91 175.23  L 151.17 173.72  L 152.42 172.26  L 153.68 170.82  z " clip-path="url(#p91feb46b0d)" style="fill: #b03903; stroke: #b03903; stroke-width: 0.35"/> <path d="M 155.13 169.47  L 155.19 169.48  L 155.26 169.50  L 155.34 169.53  L 155.42 169.55  L 154.17 170.96  L 152.91 172.40  L 151.66 173.86  L 150.40 175.37  L 149.15 177.01  L 149.07 176.99  L 148.99 176.96  L 148.92 176.94  L 148.86 176.92  L 150.11 175.28  L 151.37 173.78  L 152.62 172.31  L 153.88 170.88  z " clip-path="url(#p91feb46b0d)" style="fill: #b03903; stroke: #b03903; stroke-width: 0.35"/> <path d="M 155.42 169.55  L 155.51 169.58  L 155.61 169.61  L 155.72 169.64  L 155.84 169.67  L 154.59 171.09  L 153.33 172.52  L 152.08 173.99  L 150.82 175.50  L 149.57 177.16  L 149.45 177.12  L 149.34 177.08  L 149.24 177.05  L 149.15 177.01  L 150.40 175.37  L 151.66 173.86  L 152.91 172.40  L 154.17 170.96  z " clip-path="url(#p91feb46b0d)" style="fill: #b03903; stroke: #b03903; stroke-width: 0.35"/> <path d="M 179.02 169.42  L 180.81 170.66  L 182.78 172.13  L 184.94 173.83  L 187.31 175.72  L 186.07 176.87  L 184.83 178.14  L 183.59 179.56  L 182.35 181.09  L 181.11 182.62  L 178.73 180.95  L 176.57 179.47  L 174.60 178.16  L 172.81 177.04  L 174.05 175.41  L 175.29 173.74  L 176.53 172.17  L 177.77 170.74  z " clip-path="url(#p91feb46b0d)" style="fill: #c03f02; stroke: #c03f02; stroke-width: 0.35"/> <path d="M 155.84 169.67  L 155.98 169.71  L 156.12 169.76  L 156.28 169.81  L 156.45 169.86  L 155.20 171.27  L 153.95 172.71  L 152.69 174.18  L 151.44 175.70  L 150.18 177.38  L 150.01 177.32  L 149.85 177.26  L 149.70 177.21  L 149.57 177.16  L 150.82 175.50  L 152.08 173.99  L 153.33 172.52  L 154.59 171.09  z " clip-path="url(#p91feb46b0d)" style="fill: #b03903; stroke: #b03903; stroke-width: 0.35"/> <path d="M 156.45 169.86  L 156.64 169.92  L 156.85 169.98  L 157.08 170.06  L 157.34 170.14  L 156.08 171.55  L 154.83 172.99  L 153.58 174.47  L 152.32 175.99  L 151.07 177.71  L 150.82 177.61  L 150.59 177.53  L 150.38 177.45  L 150.18 177.38  L 151.44 175.70  L 152.69 174.18  L 153.95 172.71  L 155.20 171.27  z " clip-path="url(#p91feb46b0d)" style="fill: #b13a03; stroke: #b13a03; stroke-width: 0.35"/> <path d="M 157.34 170.14  L 157.62 170.22  L 157.92 170.32  L 158.25 170.43  L 158.62 170.56  L 157.37 171.98  L 156.11 173.43  L 154.86 174.91  L 153.61 176.44  L 152.36 178.21  L 151.99 178.06  L 151.65 177.93  L 151.35 177.81  L 151.07 177.71  L 152.32 175.99  L 153.58 174.47  L 154.83 172.99  L 156.08 171.55  z " clip-path="url(#p91feb46b0d)" style="fill: #b13a03; stroke: #b13a03; stroke-width: 0.35"/> <path d="M 187.31 175.72  L 189.91 177.75  L 192.76 179.95  L 195.90 182.36  L 199.33 185.03  L 198.10 186.10  L 196.86 187.26  L 195.63 188.56  L 194.39 189.95  L 193.16 191.41  L 189.71 188.84  L 186.57 186.54  L 183.71 184.48  L 181.11 182.62  L 182.35 181.09  L 183.59 179.56  L 184.83 178.14  L 186.07 176.87  z " clip-path="url(#p91feb46b0d)" style="fill: #e05206; stroke: #e05206; stroke-width: 0.35"/> <path d="M 158.62 170.56  L 159.02 170.70  L 159.46 170.86  L 159.95 171.03  L 160.48 171.23  L 159.23 172.66  L 157.98 174.12  L 156.72 175.62  L 155.47 177.18  L 154.22 179.00  L 153.69 178.77  L 153.20 178.56  L 152.76 178.37  L 152.36 178.21  L 153.61 176.44  L 154.86 174.91  L 156.11 173.43  L 157.37 171.98  z " clip-path="url(#p91feb46b0d)" style="fill: #b53b02; stroke: #b53b02; stroke-width: 0.35"/> <path d="M 199.33 185.03  L 203.11 188.14  L 207.25 191.79  L 211.80 195.89  L 216.79 200.24  L 215.56 201.34  L 214.34 202.46  L 213.11 203.61  L 211.89 204.80  L 210.66 206.03  L 205.66 201.86  L 201.10 197.93  L 196.94 194.40  L 193.16 191.41  L 194.39 189.95  L 195.63 188.56  L 196.86 187.26  L 198.10 186.10  z " clip-path="url(#p91feb46b0d)" style="fill: #f87e2b; stroke: #f87e2b; stroke-width: 0.35"/> <path d="M 160.48 171.23  L 161.07 171.44  L 161.71 171.69  L 162.41 171.96  L 163.18 172.27  L 161.93 173.73  L 160.68 175.23  L 159.43 176.76  L 158.18 178.36  L 156.94 180.25  L 156.16 179.88  L 155.45 179.55  L 154.81 179.26  L 154.22 179.00  L 155.47 177.18  L 156.72 175.62  L 157.98 174.12  L 159.23 172.66  z " clip-path="url(#p91feb46b0d)" style="fill: #b83c02; stroke: #b83c02; stroke-width: 0.35"/> <path d="M 248.11 213.38  L 256.04 217.23  L 264.76 220.88  L 274.37 224.39  L 284.95 227.83  L 283.76 228.83  L 282.58 229.84  L 281.39 230.86  L 280.21 231.91  L 279.02 232.97  L 268.42 229.50  L 258.79 225.99  L 250.04 222.32  L 242.09 218.43  L 243.29 217.45  L 244.50 216.45  L 245.70 215.43  L 246.91 214.41  z " clip-path="url(#p91feb46b0d)" style="fill: #fedebf; stroke: #fedebf; stroke-width: 0.35"/> <path d="M 216.79 200.24  L 222.26 204.80  L 228.26 209.54  L 234.85 214.17  L 242.09 218.43  L 240.88 219.38  L 239.67 220.32  L 238.46 221.26  L 237.24 222.22  L 236.03 223.23  L 228.77 219.03  L 222.16 214.70  L 216.14 210.31  L 210.66 206.03  L 211.89 204.80  L 213.11 203.61  L 214.34 202.46  L 215.56 201.34  z " clip-path="url(#p91feb46b0d)" style="fill: #fdba7f; stroke: #fdba7f; stroke-width: 0.35"/> <path d="M 163.18 172.27  L 164.03 172.62  L 164.96 173.01  L 165.98 173.46  L 167.11 173.98  L 165.86 175.49  L 164.61 177.04  L 163.36 178.64  L 162.11 180.31  L 160.87 182.29  L 159.75 181.69  L 158.72 181.15  L 157.79 180.67  L 156.94 180.25  L 158.18 178.36  L 159.43 176.76  L 160.68 175.23  L 161.93 173.73  z " clip-path="url(#p91feb46b0d)" style="fill: #bd3e02; stroke: #bd3e02; stroke-width: 0.35"/> <path d="M 361.98 224.53  L 366.24 225.73  L 370.61 226.99  L 375.08 228.32  L 379.67 229.74  L 378.57 230.58  L 377.46 231.41  L 376.34 232.25  L 375.23 233.09  L 374.11 233.93  L 369.51 232.51  L 365.02 231.18  L 360.64 229.93  L 356.37 228.74  L 357.50 227.89  L 358.62 227.05  L 359.74 226.21  L 360.86 225.37  z " clip-path="url(#p91feb46b0d)" style="fill: #feead6; stroke: #feead6; stroke-width: 0.35"/> <path d="M 148.21 176.70  L 148.26 176.72  L 148.32 176.74  L 148.37 176.76  L 148.42 176.77  L 147.17 178.58  L 145.93 180.69  L 144.70 183.17  L 143.48 186.11  L 142.27 189.43  L 142.22 189.41  L 142.16 189.38  L 142.11 189.36  L 142.06 189.34  L 143.27 186.02  L 144.49 183.08  L 145.72 180.60  L 146.96 178.51  z " clip-path="url(#p91feb46b0d)" style="fill: #da4902; stroke: #da4902; stroke-width: 0.35"/> <path d="M 148.42 176.77  L 148.44 176.78  L 148.47 176.79  L 148.49 176.79  L 148.52 176.80  L 147.27 178.62  L 146.03 180.73  L 144.79 183.21  L 143.58 186.16  L 142.37 189.48  L 142.34 189.46  L 142.31 189.45  L 142.29 189.44  L 142.27 189.43  L 143.48 186.11  L 144.70 183.17  L 145.93 180.69  L 147.17 178.58  z " clip-path="url(#p91feb46b0d)" style="fill: #da4902; stroke: #da4902; stroke-width: 0.35"/> <path d="M 148.52 176.80  L 148.55 176.81  L 148.58 176.82  L 148.62 176.84  L 148.66 176.85  L 147.41 178.67  L 146.17 180.79  L 144.93 183.28  L 143.71 186.22  L 142.51 189.54  L 142.47 189.52  L 142.43 189.51  L 142.40 189.49  L 142.37 189.48  L 143.58 186.16  L 144.79 183.21  L 146.03 180.73  L 147.27 178.62  z " clip-path="url(#p91feb46b0d)" style="fill: #da4902; stroke: #da4902; stroke-width: 0.35"/> <path d="M 148.66 176.85  L 148.70 176.86  L 148.75 176.88  L 148.80 176.90  L 148.86 176.92  L 147.61 178.75  L 146.37 180.87  L 145.14 183.37  L 143.92 186.32  L 142.71 189.63  L 142.65 189.61  L 142.60 189.58  L 142.55 189.56  L 142.51 189.54  L 143.71 186.22  L 144.93 183.28  L 146.17 180.79  L 147.41 178.67  z " clip-path="url(#p91feb46b0d)" style="fill: #da4902; stroke: #da4902; stroke-width: 0.35"/> <path d="M 148.86 176.92  L 148.92 176.94  L 148.99 176.96  L 149.07 176.99  L 149.15 177.01  L 147.90 178.86  L 146.66 181.00  L 145.43 183.50  L 144.21 186.45  L 143.00 189.77  L 142.92 189.73  L 142.84 189.69  L 142.77 189.66  L 142.71 189.63  L 143.92 186.32  L 145.14 183.37  L 146.37 180.87  L 147.61 178.75  z " clip-path="url(#p91feb46b0d)" style="fill: #db4a02; stroke: #db4a02; stroke-width: 0.35"/> <path d="M 149.15 177.01  L 149.24 177.05  L 149.34 177.08  L 149.45 177.12  L 149.57 177.16  L 148.32 179.03  L 147.08 181.18  L 145.85 183.70  L 144.63 186.65  L 143.42 189.97  L 143.30 189.91  L 143.19 189.86  L 143.09 189.81  L 143.00 189.77  L 144.21 186.45  L 145.43 183.50  L 146.66 181.00  L 147.90 178.86  z " clip-path="url(#p91feb46b0d)" style="fill: #db4a02; stroke: #db4a02; stroke-width: 0.35"/> <path d="M 142.06 189.34  L 142.11 189.36  L 142.16 189.38  L 142.22 189.41  L 142.27 189.43  L 141.07 192.93  L 139.86 196.42  L 138.66 199.80  L 137.45 203.08  L 136.23 206.25  L 136.18 206.23  L 136.13 206.21  L 136.08 206.20  L 136.02 206.18  L 137.23 203.00  L 138.44 199.71  L 139.65 196.32  L 140.85 192.84  z " clip-path="url(#p91feb46b0d)" style="fill: #fa8331; stroke: #fa8331; stroke-width: 0.35"/> <path d="M 142.27 189.43  L 142.29 189.44  L 142.31 189.45  L 142.34 189.46  L 142.37 189.48  L 141.16 192.97  L 139.96 196.46  L 138.75 199.84  L 137.54 203.11  L 136.33 206.28  L 136.30 206.28  L 136.28 206.27  L 136.26 206.26  L 136.23 206.25  L 137.45 203.08  L 138.66 199.80  L 139.86 196.42  L 141.07 192.93  z " clip-path="url(#p91feb46b0d)" style="fill: #fa8331; stroke: #fa8331; stroke-width: 0.35"/> <path d="M 142.37 189.48  L 142.40 189.49  L 142.43 189.51  L 142.47 189.52  L 142.51 189.54  L 141.30 193.04  L 140.10 196.52  L 138.89 199.90  L 137.68 203.17  L 136.47 206.33  L 136.43 206.32  L 136.39 206.31  L 136.36 206.30  L 136.33 206.28  L 137.54 203.11  L 138.75 199.84  L 139.96 196.46  L 141.16 192.97  z " clip-path="url(#p91feb46b0d)" style="fill: #fa8331; stroke: #fa8331; stroke-width: 0.35"/> <path d="M 142.51 189.54  L 142.55 189.56  L 142.60 189.58  L 142.65 189.61  L 142.71 189.63  L 141.50 193.13  L 140.30 196.61  L 139.09 199.98  L 137.88 203.24  L 136.67 206.40  L 136.61 206.38  L 136.56 206.37  L 136.51 206.35  L 136.47 206.33  L 137.68 203.17  L 138.89 199.90  L 140.10 196.52  L 141.30 193.04  z " clip-path="url(#p91feb46b0d)" style="fill: #fa8331; stroke: #fa8331; stroke-width: 0.35"/> <path d="M 149.57 177.16  L 149.70 177.21  L 149.85 177.26  L 150.01 177.32  L 150.18 177.38  L 148.94 179.27  L 147.70 181.45  L 146.47 183.99  L 145.25 186.95  L 144.04 190.26  L 143.86 190.17  L 143.70 190.10  L 143.55 190.03  L 143.42 189.97  L 144.63 186.65  L 145.85 183.70  L 147.08 181.18  L 148.32 179.03  z " clip-path="url(#p91feb46b0d)" style="fill: #db4a02; stroke: #db4a02; stroke-width: 0.35"/> <path d="M 167.11 173.98  L 168.34 174.57  L 169.69 175.27  L 171.18 176.08  L 172.81 177.04  L 171.56 178.60  L 170.32 180.21  L 169.07 181.88  L 167.83 183.65  L 166.59 185.70  L 164.96 184.67  L 163.47 183.78  L 162.11 182.99  L 160.87 182.29  L 162.11 180.31  L 163.36 178.64  L 164.61 177.04  L 165.86 175.49  z " clip-path="url(#p91feb46b0d)" style="fill: #c84202; stroke: #c84202; stroke-width: 0.35"/> <path d="M 142.71 189.63  L 142.77 189.66  L 142.84 189.69  L 142.92 189.73  L 143.00 189.77  L 141.79 193.26  L 140.59 196.74  L 139.38 200.10  L 138.17 203.35  L 136.96 206.51  L 136.88 206.48  L 136.80 206.45  L 136.73 206.43  L 136.67 206.40  L 137.88 203.24  L 139.09 199.98  L 140.30 196.61  L 141.50 193.13  z " clip-path="url(#p91feb46b0d)" style="fill: #fa8331; stroke: #fa8331; stroke-width: 0.35"/> <path d="M 143.00 189.77  L 143.09 189.81  L 143.19 189.86  L 143.30 189.91  L 143.42 189.97  L 142.22 193.46  L 141.01 196.92  L 139.81 200.28  L 138.60 203.52  L 137.38 206.66  L 137.26 206.62  L 137.15 206.58  L 137.05 206.54  L 136.96 206.51  L 138.17 203.35  L 139.38 200.10  L 140.59 196.74  L 141.79 193.26  z " clip-path="url(#p91feb46b0d)" style="fill: #fa8532; stroke: #fa8532; stroke-width: 0.35"/> <path d="M 150.18 177.38  L 150.38 177.45  L 150.59 177.53  L 150.82 177.61  L 151.07 177.71  L 149.82 179.64  L 148.59 181.85  L 147.36 184.41  L 146.14 187.38  L 144.93 190.68  L 144.67 190.56  L 144.44 190.45  L 144.23 190.35  L 144.04 190.26  L 145.25 186.95  L 146.47 183.99  L 147.70 181.45  L 148.94 179.27  z " clip-path="url(#p91feb46b0d)" style="fill: #db4b03; stroke: #db4b03; stroke-width: 0.35"/> <path d="M 296.67 218.35  L 308.27 221.81  L 321.05 225.32  L 335.16 229.01  L 350.72 233.13  L 349.58 234.03  L 348.44 234.94  L 347.30 235.86  L 346.16 236.79  L 345.01 237.73  L 329.41 233.63  L 315.27 229.94  L 302.46 226.42  L 290.83 222.97  L 292.00 222.02  L 293.17 221.09  L 294.34 220.16  L 295.50 219.25  z " clip-path="url(#p91feb46b0d)" style="fill: #fee7d0; stroke: #fee7d0; stroke-width: 0.35"/> <path d="M 136.02 206.18  L 136.08 206.20  L 136.13 206.21  L 136.18 206.23  L 136.23 206.25  L 135.02 209.31  L 133.80 212.20  L 132.57 214.87  L 131.33 217.27  L 130.08 219.40  L 130.03 219.38  L 129.97 219.36  L 129.92 219.34  L 129.87 219.33  L 131.12 217.20  L 132.35 214.80  L 133.58 212.13  L 134.81 209.24  z " clip-path="url(#p91feb46b0d)" style="fill: #fdbb81; stroke: #fdbb81; stroke-width: 0.35"/> <path d="M 136.23 206.25  L 136.26 206.26  L 136.28 206.27  L 136.30 206.28  L 136.33 206.28  L 135.11 209.34  L 133.89 212.23  L 132.66 214.90  L 131.42 217.30  L 130.18 219.43  L 130.15 219.42  L 130.12 219.41  L 130.10 219.40  L 130.08 219.40  L 131.33 217.27  L 132.57 214.87  L 133.80 212.20  L 135.02 209.31  z " clip-path="url(#p91feb46b0d)" style="fill: #fdbb81; stroke: #fdbb81; stroke-width: 0.35"/> <path d="M 143.42 189.97  L 143.55 190.03  L 143.70 190.10  L 143.86 190.17  L 144.04 190.26  L 142.83 193.74  L 141.63 197.20  L 140.42 200.54  L 139.21 203.76  L 137.99 206.88  L 137.82 206.82  L 137.66 206.76  L 137.51 206.71  L 137.38 206.66  L 138.60 203.52  L 139.81 200.28  L 141.01 196.92  L 142.22 193.46  z " clip-path="url(#p91feb46b0d)" style="fill: #fa8532; stroke: #fa8532; stroke-width: 0.35"/> <path d="M 136.33 206.28  L 136.36 206.30  L 136.39 206.31  L 136.43 206.32  L 136.47 206.33  L 135.25 209.39  L 134.03 212.28  L 132.80 214.95  L 131.56 217.34  L 130.31 219.47  L 130.27 219.46  L 130.24 219.45  L 130.21 219.44  L 130.18 219.43  L 131.42 217.30  L 132.66 214.90  L 133.89 212.23  L 135.11 209.34  z " clip-path="url(#p91feb46b0d)" style="fill: #fdbb81; stroke: #fdbb81; stroke-width: 0.35"/> <path d="M 136.47 206.33  L 136.51 206.35  L 136.56 206.37  L 136.61 206.38  L 136.67 206.40  L 135.45 209.46  L 134.23 212.35  L 133.00 215.02  L 131.76 217.41  L 130.51 219.54  L 130.46 219.52  L 130.40 219.50  L 130.36 219.49  L 130.31 219.47  L 131.56 217.34  L 132.80 214.95  L 134.03 212.28  L 135.25 209.39  z " clip-path="url(#p91feb46b0d)" style="fill: #fdbb81; stroke: #fdbb81; stroke-width: 0.35"/> <path d="M 136.67 206.40  L 136.73 206.43  L 136.80 206.45  L 136.88 206.48  L 136.96 206.51  L 135.74 209.56  L 134.52 212.45  L 133.29 215.11  L 132.05 217.51  L 130.80 219.64  L 130.72 219.61  L 130.65 219.58  L 130.58 219.56  L 130.51 219.54  L 131.76 217.41  L 133.00 215.02  L 134.23 212.35  L 135.45 209.46  z " clip-path="url(#p91feb46b0d)" style="fill: #fdbb81; stroke: #fdbb81; stroke-width: 0.35"/> <path d="M 151.07 177.71  L 151.35 177.81  L 151.65 177.93  L 151.99 178.06  L 152.36 178.21  L 151.11 180.19  L 149.88 182.45  L 148.65 185.05  L 147.43 188.02  L 146.22 191.32  L 145.85 191.13  L 145.51 190.97  L 145.20 190.82  L 144.93 190.68  L 146.14 187.38  L 147.36 184.41  L 148.59 181.85  L 149.82 179.64  z " clip-path="url(#p91feb46b0d)" style="fill: #dc4c03; stroke: #dc4c03; stroke-width: 0.35"/> <path d="M 144.04 190.26  L 144.23 190.35  L 144.44 190.45  L 144.67 190.56  L 144.93 190.68  L 143.72 194.16  L 142.52 197.60  L 141.31 200.93  L 140.09 204.11  L 138.88 207.21  L 138.62 207.12  L 138.39 207.03  L 138.18 206.96  L 137.99 206.88  L 139.21 203.76  L 140.42 200.54  L 141.63 197.20  L 142.83 193.74  z " clip-path="url(#p91feb46b0d)" style="fill: #fb8634; stroke: #fb8634; stroke-width: 0.35"/> <path d="M 136.96 206.51  L 137.05 206.54  L 137.15 206.58  L 137.26 206.62  L 137.38 206.66  L 136.16 209.71  L 134.94 212.59  L 133.71 215.25  L 132.47 217.65  L 131.23 219.78  L 131.11 219.74  L 131.00 219.70  L 130.90 219.67  L 130.80 219.64  L 132.05 217.51  L 133.29 215.11  L 134.52 212.45  L 135.74 209.56  z " clip-path="url(#p91feb46b0d)" style="fill: #fdbd83; stroke: #fdbd83; stroke-width: 0.35"/> <path d="M 137.38 206.66  L 137.51 206.71  L 137.66 206.76  L 137.82 206.82  L 137.99 206.88  L 136.77 209.92  L 135.55 212.80  L 134.32 215.46  L 133.08 217.85  L 131.84 219.99  L 131.66 219.93  L 131.50 219.87  L 131.36 219.82  L 131.23 219.78  L 132.47 217.65  L 133.71 215.25  L 134.94 212.59  L 136.16 209.71  z " clip-path="url(#p91feb46b0d)" style="fill: #fdbd83; stroke: #fdbd83; stroke-width: 0.35"/> <path d="M 144.93 190.68  L 145.20 190.82  L 145.51 190.97  L 145.85 191.13  L 146.22 191.32  L 145.01 194.78  L 143.80 198.20  L 142.59 201.49  L 141.38 204.63  L 140.16 207.71  L 139.80 207.56  L 139.46 207.43  L 139.16 207.32  L 138.88 207.21  L 140.09 204.11  L 141.31 200.93  L 142.52 197.60  L 143.72 194.16  z " clip-path="url(#p91feb46b0d)" style="fill: #fb8735; stroke: #fb8735; stroke-width: 0.35"/> <path d="M 152.36 178.21  L 152.76 178.37  L 153.20 178.56  L 153.69 178.77  L 154.22 179.00  L 152.98 181.05  L 151.75 183.37  L 150.52 186.01  L 149.30 189.00  L 148.09 192.28  L 147.55 192.00  L 147.06 191.75  L 146.62 191.52  L 146.22 191.32  L 147.43 188.02  L 148.65 185.05  L 149.88 182.45  L 151.11 180.19  z " clip-path="url(#p91feb46b0d)" style="fill: #de4e05; stroke: #de4e05; stroke-width: 0.35"/> <path d="M 137.99 206.88  L 138.18 206.96  L 138.39 207.03  L 138.62 207.12  L 138.88 207.21  L 137.66 210.24  L 136.44 213.11  L 135.21 215.77  L 133.97 218.16  L 132.72 220.29  L 132.47 220.20  L 132.24 220.12  L 132.03 220.05  L 131.84 219.99  L 133.08 217.85  L 134.32 215.46  L 135.55 212.80  L 136.77 209.92  z " clip-path="url(#p91feb46b0d)" style="fill: #fdbd83; stroke: #fdbd83; stroke-width: 0.35"/> <path d="M 172.81 177.04  L 174.60 178.16  L 176.57 179.47  L 178.73 180.95  L 181.11 182.62  L 179.87 184.15  L 178.62 185.77  L 177.38 187.49  L 176.14 189.32  L 174.91 191.37  L 172.53 189.68  L 170.36 188.19  L 168.39 186.86  L 166.59 185.70  L 167.83 183.65  L 169.07 181.88  L 170.32 180.21  L 171.56 178.60  z " clip-path="url(#p91feb46b0d)" style="fill: #db4b03; stroke: #db4b03; stroke-width: 0.35"/> <path d="M 146.22 191.32  L 146.62 191.52  L 147.06 191.75  L 147.55 192.00  L 148.09 192.28  L 146.88 195.71  L 145.67 199.10  L 144.46 202.35  L 143.24 205.42  L 142.03 208.45  L 141.49 208.24  L 141.01 208.04  L 140.57 207.86  L 140.16 207.71  L 141.38 204.63  L 142.59 201.49  L 143.80 198.20  L 145.01 194.78  z " clip-path="url(#p91feb46b0d)" style="fill: #fc8937; stroke: #fc8937; stroke-width: 0.35"/> <path d="M 138.88 207.21  L 139.16 207.32  L 139.46 207.43  L 139.80 207.56  L 140.16 207.71  L 138.94 210.72  L 137.72 213.57  L 136.49 216.22  L 135.25 218.61  L 134.00 220.74  L 133.64 220.61  L 133.30 220.49  L 133.00 220.38  L 132.72 220.29  L 133.97 218.16  L 135.21 215.77  L 136.44 213.11  L 137.66 210.24  z " clip-path="url(#p91feb46b0d)" style="fill: #fdbe84; stroke: #fdbe84; stroke-width: 0.35"/> <path d="M 154.22 179.00  L 154.81 179.26  L 155.45 179.55  L 156.16 179.88  L 156.94 180.25  L 155.70 182.39  L 154.46 184.79  L 153.23 187.48  L 152.02 190.47  L 150.80 193.72  L 150.03 193.30  L 149.32 192.92  L 148.67 192.58  L 148.09 192.28  L 149.30 189.00  L 150.52 186.01  L 151.75 183.37  L 152.98 181.05  z " clip-path="url(#p91feb46b0d)" style="fill: #e05206; stroke: #e05206; stroke-width: 0.35"/> <path d="M 148.09 192.28  L 148.67 192.58  L 149.32 192.92  L 150.03 193.30  L 150.80 193.72  L 149.59 197.12  L 148.38 200.45  L 147.17 203.63  L 145.95 206.63  L 144.73 209.59  L 143.96 209.25  L 143.25 208.96  L 142.61 208.69  L 142.03 208.45  L 143.24 205.42  L 144.46 202.35  L 145.67 199.10  L 146.88 195.71  z " clip-path="url(#p91feb46b0d)" style="fill: #fc8b3a; stroke: #fc8b3a; stroke-width: 0.35"/> <path d="M 140.16 207.71  L 140.57 207.86  L 141.01 208.04  L 141.49 208.24  L 142.03 208.45  L 140.81 211.43  L 139.58 214.27  L 138.35 216.90  L 137.11 219.28  L 135.86 221.40  L 135.33 221.21  L 134.85 221.04  L 134.41 220.88  L 134.00 220.74  L 135.25 218.61  L 136.49 216.22  L 137.72 213.57  L 138.94 210.72  z " clip-path="url(#p91feb46b0d)" style="fill: #fdbf86; stroke: #fdbf86; stroke-width: 0.35"/> <path d="M 181.11 182.62  L 183.71 184.48  L 186.57 186.54  L 189.71 188.84  L 193.16 191.41  L 191.92 192.97  L 190.69 194.65  L 189.45 196.44  L 188.22 198.31  L 186.98 200.29  L 183.53 197.70  L 180.38 195.36  L 177.52 193.25  L 174.91 191.37  L 176.14 189.32  L 177.38 187.49  L 178.62 185.77  L 179.87 184.15  z " clip-path="url(#p91feb46b0d)" style="fill: #ed6310; stroke: #ed6310; stroke-width: 0.35"/> <path d="M 156.94 180.25  L 157.79 180.67  L 158.72 181.15  L 159.75 181.69  L 160.87 182.29  L 159.63 184.53  L 158.40 187.01  L 157.18 189.75  L 155.96 192.72  L 154.74 195.91  L 153.62 195.27  L 152.59 194.70  L 151.65 194.18  L 150.80 193.72  L 152.02 190.47  L 153.23 187.48  L 154.46 184.79  L 155.70 182.39  z " clip-path="url(#p91feb46b0d)" style="fill: #e45709; stroke: #e45709; stroke-width: 0.35"/> <path d="M 142.03 208.45  L 142.61 208.69  L 143.25 208.96  L 143.96 209.25  L 144.73 209.59  L 143.51 212.53  L 142.28 215.33  L 141.05 217.93  L 139.81 220.30  L 138.56 222.41  L 137.79 222.12  L 137.09 221.85  L 136.45 221.62  L 135.86 221.40  L 137.11 219.28  L 138.35 216.90  L 139.58 214.27  L 140.81 211.43  z " clip-path="url(#p91feb46b0d)" style="fill: #fdc189; stroke: #fdc189; stroke-width: 0.35"/> <path d="M 150.80 193.72  L 151.65 194.18  L 152.59 194.70  L 153.62 195.27  L 154.74 195.91  L 153.53 199.24  L 152.32 202.50  L 151.10 205.59  L 149.88 208.47  L 148.66 211.33  L 147.53 210.82  L 146.51 210.36  L 145.58 209.95  L 144.73 209.59  L 145.95 206.63  L 147.17 203.63  L 148.38 200.45  L 149.59 197.12  z " clip-path="url(#p91feb46b0d)" style="fill: #fd9141; stroke: #fd9141; stroke-width: 0.35"/> <path d="M 193.16 191.41  L 196.94 194.40  L 201.10 197.93  L 205.66 201.86  L 210.66 206.03  L 209.43 207.37  L 208.20 208.80  L 206.97 210.31  L 205.74 211.87  L 204.50 213.45  L 199.49 209.72  L 194.93 206.28  L 190.77 203.14  L 186.98 200.29  L 188.22 198.31  L 189.45 196.44  L 190.69 194.65  L 191.92 192.97  z " clip-path="url(#p91feb46b0d)" style="fill: #fd8f3e; stroke: #fd8f3e; stroke-width: 0.35"/> <path d="M 160.87 182.29  L 162.11 182.99  L 163.47 183.78  L 164.96 184.67  L 166.59 185.70  L 165.36 188.00  L 164.13 190.54  L 162.90 193.28  L 161.68 196.20  L 160.46 199.27  L 158.83 198.29  L 157.34 197.41  L 155.98 196.62  L 154.74 195.91  L 155.96 192.72  L 157.18 189.75  L 158.40 187.01  L 159.63 184.53  z " clip-path="url(#p91feb46b0d)" style="fill: #ea5f0e; stroke: #ea5f0e; stroke-width: 0.35"/> <path d="M 129.87 219.33  L 129.92 219.34  L 129.97 219.36  L 130.03 219.38  L 130.08 219.40  L 128.82 221.35  L 127.57 223.20  L 126.30 225.02  L 125.04 226.81  L 123.77 228.56  L 123.72 228.55  L 123.67 228.53  L 123.61 228.51  L 123.56 228.50  L 124.83 226.75  L 126.09 224.96  L 127.35 223.13  L 128.61 221.28  z " clip-path="url(#p91feb46b0d)" style="fill: #fdd9b5; stroke: #fdd9b5; stroke-width: 0.35"/> <path d="M 130.08 219.40  L 130.10 219.40  L 130.12 219.41  L 130.15 219.42  L 130.18 219.43  L 128.92 221.38  L 127.66 223.23  L 126.40 225.05  L 125.13 226.84  L 123.87 228.59  L 123.84 228.59  L 123.82 228.58  L 123.79 228.57  L 123.77 228.56  L 125.04 226.81  L 126.30 225.02  L 127.57 223.20  L 128.82 221.35  z " clip-path="url(#p91feb46b0d)" style="fill: #fdd9b5; stroke: #fdd9b5; stroke-width: 0.35"/> <path d="M 130.18 219.43  L 130.21 219.44  L 130.24 219.45  L 130.27 219.46  L 130.31 219.47  L 129.06 221.42  L 127.80 223.28  L 126.54 225.10  L 125.27 226.89  L 124.01 228.64  L 123.97 228.63  L 123.93 228.61  L 123.90 228.60  L 123.87 228.59  L 125.13 226.84  L 126.40 225.05  L 127.66 223.23  L 128.92 221.38  z " clip-path="url(#p91feb46b0d)" style="fill: #fdd9b5; stroke: #fdd9b5; stroke-width: 0.35"/> <path d="M 130.31 219.47  L 130.36 219.49  L 130.40 219.50  L 130.46 219.52  L 130.51 219.54  L 129.26 221.49  L 128.00 223.34  L 126.74 225.16  L 125.47 226.95  L 124.21 228.70  L 124.15 228.68  L 124.10 228.67  L 124.05 228.65  L 124.01 228.64  L 125.27 226.89  L 126.54 225.10  L 127.80 223.28  L 129.06 221.42  z " clip-path="url(#p91feb46b0d)" style="fill: #fdd9b5; stroke: #fdd9b5; stroke-width: 0.35"/> <path d="M 130.51 219.54  L 130.58 219.56  L 130.65 219.58  L 130.72 219.61  L 130.80 219.64  L 129.55 221.59  L 128.29 223.44  L 127.03 225.26  L 125.76 227.05  L 124.50 228.79  L 124.41 228.77  L 124.34 228.74  L 124.27 228.72  L 124.21 228.70  L 125.47 226.95  L 126.74 225.16  L 128.00 223.34  L 129.26 221.49  z " clip-path="url(#p91feb46b0d)" style="fill: #fdd9b5; stroke: #fdd9b5; stroke-width: 0.35"/> <path d="M 144.73 209.59  L 145.58 209.95  L 146.51 210.36  L 147.53 210.82  L 148.66 211.33  L 147.43 214.20  L 146.20 216.94  L 144.97 219.50  L 143.73 221.83  L 142.48 223.91  L 141.36 223.48  L 140.34 223.08  L 139.41 222.73  L 138.56 222.41  L 139.81 220.30  L 141.05 217.93  L 142.28 215.33  L 143.51 212.53  z " clip-path="url(#p91feb46b0d)" style="fill: #fdc38d; stroke: #fdc38d; stroke-width: 0.35"/> <path d="M 130.80 219.64  L 130.90 219.67  L 131.00 219.70  L 131.11 219.74  L 131.23 219.78  L 129.97 221.73  L 128.71 223.58  L 127.45 225.40  L 126.18 227.18  L 124.92 228.92  L 124.80 228.89  L 124.69 228.85  L 124.59 228.82  L 124.50 228.79  L 125.76 227.05  L 127.03 225.26  L 128.29 223.44  L 129.55 221.59  z " clip-path="url(#p91feb46b0d)" style="fill: #fdd9b5; stroke: #fdd9b5; stroke-width: 0.35"/> <path d="M 154.74 195.91  L 155.98 196.62  L 157.34 197.41  L 158.83 198.29  L 160.46 199.27  L 159.25 202.48  L 158.03 205.61  L 156.81 208.58  L 155.58 211.32  L 154.36 214.05  L 152.73 213.25  L 151.24 212.54  L 149.89 211.91  L 148.66 211.33  L 149.88 208.47  L 151.10 205.59  L 152.32 202.50  L 153.53 199.24  z " clip-path="url(#p91feb46b0d)" style="fill: #fd974a; stroke: #fd974a; stroke-width: 0.35"/> <path d="M 131.23 219.78  L 131.36 219.82  L 131.50 219.87  L 131.66 219.93  L 131.84 219.99  L 130.58 221.93  L 129.32 223.78  L 128.06 225.60  L 126.80 227.38  L 125.53 229.12  L 125.35 229.06  L 125.20 229.01  L 125.05 228.97  L 124.92 228.92  L 126.18 227.18  L 127.45 225.40  L 128.71 223.58  L 129.97 221.73  z " clip-path="url(#p91feb46b0d)" style="fill: #fddab6; stroke: #fddab6; stroke-width: 0.35"/> <path d="M 166.59 185.70  L 168.39 186.86  L 170.36 188.19  L 172.53 189.68  L 174.91 191.37  L 173.67 193.65  L 172.44 196.13  L 171.22 198.78  L 169.99 201.52  L 168.77 204.37  L 166.39 202.90  L 164.23 201.56  L 162.26 200.36  L 160.46 199.27  L 161.68 196.20  L 162.90 193.28  L 164.13 190.54  L 165.36 188.00  z " clip-path="url(#p91feb46b0d)" style="fill: #f36e19; stroke: #f36e19; stroke-width: 0.35"/> <path d="M 131.84 219.99  L 132.03 220.05  L 132.24 220.12  L 132.47 220.20  L 132.72 220.29  L 131.47 222.23  L 130.21 224.08  L 128.94 225.89  L 127.68 227.67  L 126.41 229.40  L 126.16 229.32  L 125.93 229.25  L 125.72 229.18  L 125.53 229.12  L 126.80 227.38  L 128.06 225.60  L 129.32 223.78  L 130.58 221.93  z " clip-path="url(#p91feb46b0d)" style="fill: #fddab6; stroke: #fddab6; stroke-width: 0.35"/> <path d="M 132.72 220.29  L 133.00 220.38  L 133.30 220.49  L 133.64 220.61  L 134.00 220.74  L 132.75 222.67  L 131.49 224.52  L 130.23 226.32  L 128.96 228.09  L 127.70 229.81  L 127.33 229.70  L 127.00 229.59  L 126.69 229.49  L 126.41 229.40  L 127.68 227.67  L 128.94 225.89  L 130.21 224.08  L 131.47 222.23  z " clip-path="url(#p91feb46b0d)" style="fill: #fddab6; stroke: #fddab6; stroke-width: 0.35"/> <path d="M 210.66 206.03  L 216.14 210.31  L 222.16 214.70  L 228.77 219.03  L 236.03 223.23  L 234.81 224.32  L 233.59 225.65  L 232.37 227.19  L 231.15 228.87  L 229.93 230.61  L 222.66 226.47  L 216.04 222.03  L 210.00 217.58  L 204.50 213.45  L 205.74 211.87  L 206.97 210.31  L 208.20 208.80  L 209.43 207.37  z " clip-path="url(#p91feb46b0d)" style="fill: #fdc590; stroke: #fdc590; stroke-width: 0.35"/> <path d="M 148.66 211.33  L 149.89 211.91  L 151.24 212.54  L 152.73 213.25  L 154.36 214.05  L 153.13 216.80  L 151.90 219.44  L 150.66 221.91  L 149.42 224.18  L 148.17 226.20  L 146.55 225.54  L 145.06 224.94  L 143.71 224.40  L 142.48 223.91  L 143.73 221.83  L 144.97 219.50  L 146.20 216.94  L 147.43 214.20  z " clip-path="url(#p91feb46b0d)" style="fill: #fdc895; stroke: #fdc895; stroke-width: 0.35"/> <path d="M 134.00 220.74  L 134.41 220.88  L 134.85 221.04  L 135.33 221.21  L 135.86 221.40  L 134.61 223.33  L 133.35 225.17  L 132.09 226.96  L 130.82 228.72  L 129.56 230.42  L 129.03 230.25  L 128.54 230.09  L 128.10 229.95  L 127.70 229.81  L 128.96 228.09  L 130.23 226.32  L 131.49 224.52  L 132.75 222.67  z " clip-path="url(#p91feb46b0d)" style="fill: #fddbb8; stroke: #fddbb8; stroke-width: 0.35"/> <path d="M 160.46 199.27  L 162.26 200.36  L 164.23 201.56  L 166.39 202.90  L 168.77 204.37  L 167.55 207.37  L 166.33 210.32  L 165.10 213.12  L 163.87 215.70  L 162.64 218.24  L 160.27 217.02  L 158.11 215.92  L 156.15 214.93  L 154.36 214.05  L 155.58 211.32  L 156.81 208.58  L 158.03 205.61  L 159.25 202.48  z " clip-path="url(#p91feb46b0d)" style="fill: #fda25a; stroke: #fda25a; stroke-width: 0.35"/> <path d="M 242.09 218.43  L 250.04 222.32  L 258.79 225.99  L 268.42 229.50  L 279.02 232.97  L 277.83 234.05  L 276.63 235.16  L 275.44 236.34  L 274.24 237.56  L 273.04 238.79  L 262.42 235.08  L 252.77 231.25  L 244.00 227.29  L 236.03 223.23  L 237.24 222.22  L 238.46 221.26  L 239.67 220.32  L 240.88 219.38  z " clip-path="url(#p91feb46b0d)" style="fill: #fee2c6; stroke: #fee2c6; stroke-width: 0.35"/> <path d="M 174.91 191.37  L 177.52 193.25  L 180.38 195.36  L 183.53 197.70  L 186.98 200.29  L 185.75 202.42  L 184.52 204.68  L 183.29 207.02  L 182.06 209.41  L 180.83 211.88  L 177.38 209.74  L 174.24 207.78  L 171.37 206.00  L 168.77 204.37  L 169.99 201.52  L 171.22 198.78  L 172.44 196.13  L 173.67 193.65  z " clip-path="url(#p91feb46b0d)" style="fill: #fb8735; stroke: #fb8735; stroke-width: 0.35"/> <path d="M 135.86 221.40  L 136.45 221.62  L 137.09 221.85  L 137.79 222.12  L 138.56 222.41  L 137.31 224.31  L 136.05 226.13  L 134.79 227.91  L 133.52 229.64  L 132.26 231.32  L 131.49 231.07  L 130.78 230.83  L 130.14 230.62  L 129.56 230.42  L 130.82 228.72  L 132.09 226.96  L 133.35 225.17  L 134.61 223.33  z " clip-path="url(#p91feb46b0d)" style="fill: #fedcbb; stroke: #fedcbb; stroke-width: 0.35"/> <path d="M 356.37 228.74  L 360.64 229.93  L 365.02 231.18  L 369.51 232.51  L 374.11 233.93  L 373.00 234.78  L 371.88 235.65  L 370.76 236.52  L 369.63 237.39  L 368.51 238.27  L 363.89 236.86  L 359.39 235.55  L 355.00 234.30  L 350.72 233.13  L 351.85 232.23  L 352.99 231.34  L 354.12 230.47  L 355.25 229.60  z " clip-path="url(#p91feb46b0d)" style="fill: #feead6; stroke: #feead6; stroke-width: 0.35"/> <path d="M 154.36 214.05  L 156.15 214.93  L 158.11 215.92  L 160.27 217.02  L 162.64 218.24  L 161.41 220.80  L 160.17 223.26  L 158.93 225.59  L 157.69 227.73  L 156.44 229.64  L 154.07 228.65  L 151.92 227.75  L 149.96 226.94  L 148.17 226.20  L 149.42 224.18  L 150.66 221.91  L 151.90 219.44  L 153.13 216.80  z " clip-path="url(#p91feb46b0d)" style="fill: #fdd0a2; stroke: #fdd0a2; stroke-width: 0.35"/> <path d="M 138.56 222.41  L 139.41 222.73  L 140.34 223.08  L 141.36 223.48  L 142.48 223.91  L 141.23 225.79  L 139.97 227.58  L 138.71 229.32  L 137.44 231.01  L 136.17 232.66  L 135.05 232.27  L 134.03 231.93  L 133.10 231.61  L 132.26 231.32  L 133.52 229.64  L 134.79 227.91  L 136.05 226.13  L 137.31 224.31  z " clip-path="url(#p91feb46b0d)" style="fill: #fedebd; stroke: #fedebd; stroke-width: 0.35"/> <path d="M 168.77 204.37  L 171.37 206.00  L 174.24 207.78  L 177.38 209.74  L 180.83 211.88  L 179.60 214.52  L 178.37 217.22  L 177.14 219.84  L 175.91 222.24  L 174.67 224.52  L 171.23 222.72  L 168.10 221.08  L 165.24 219.59  L 162.64 218.24  L 163.87 215.70  L 165.10 213.12  L 166.33 210.32  L 167.55 207.37  z " clip-path="url(#p91feb46b0d)" style="fill: #fdb475; stroke: #fdb475; stroke-width: 0.35"/> <path d="M 186.98 200.29  L 190.77 203.14  L 194.93 206.28  L 199.49 209.72  L 204.50 213.45  L 203.27 215.08  L 202.04 216.76  L 200.80 218.52  L 199.57 220.35  L 198.33 222.26  L 193.32 219.31  L 188.76 216.63  L 184.61 214.17  L 180.83 211.88  L 182.06 209.41  L 183.29 207.02  L 184.52 204.68  L 185.75 202.42  z " clip-path="url(#p91feb46b0d)" style="fill: #fda863; stroke: #fda863; stroke-width: 0.35"/> <path d="M 290.83 222.97  L 302.46 226.42  L 315.27 229.94  L 329.41 233.63  L 345.01 237.73  L 343.87 238.68  L 342.72 239.66  L 341.57 240.65  L 340.41 241.68  L 339.26 242.74  L 323.62 238.58  L 309.45 234.83  L 296.60 231.29  L 284.95 227.83  L 286.13 226.85  L 287.30 225.87  L 288.48 224.89  L 289.66 223.92  z " clip-path="url(#p91feb46b0d)" style="fill: #fee8d2; stroke: #fee8d2; stroke-width: 0.35"/> <path d="M 123.56 228.50  L 123.61 228.51  L 123.67 228.53  L 123.72 228.55  L 123.77 228.56  L 122.50 230.27  L 121.23 231.91  L 119.95 233.49  L 118.67 235.00  L 117.39 236.42  L 117.33 236.40  L 117.28 236.39  L 117.23 236.37  L 117.18 236.36  L 118.46 234.94  L 119.74 233.43  L 121.02 231.85  L 122.29 230.20  z " clip-path="url(#p91feb46b0d)" style="fill: #fee7d1; stroke: #fee7d1; stroke-width: 0.35"/> <path d="M 123.77 228.56  L 123.79 228.57  L 123.82 228.58  L 123.84 228.59  L 123.87 228.59  L 122.60 230.30  L 121.33 231.94  L 120.05 233.52  L 118.77 235.02  L 117.48 236.44  L 117.46 236.44  L 117.43 236.43  L 117.41 236.42  L 117.39 236.42  L 118.67 235.00  L 119.95 233.49  L 121.23 231.91  L 122.50 230.27  z " clip-path="url(#p91feb46b0d)" style="fill: #fee7d1; stroke: #fee7d1; stroke-width: 0.35"/> <path d="M 123.87 228.59  L 123.90 228.60  L 123.93 228.61  L 123.97 228.63  L 124.01 228.64  L 122.74 230.34  L 121.46 231.98  L 120.19 233.56  L 118.91 235.06  L 117.62 236.48  L 117.58 236.47  L 117.55 236.46  L 117.51 236.45  L 117.48 236.44  L 118.77 235.02  L 120.05 233.52  L 121.33 231.94  L 122.60 230.30  z " clip-path="url(#p91feb46b0d)" style="fill: #fee7d1; stroke: #fee7d1; stroke-width: 0.35"/> <path d="M 124.01 228.64  L 124.05 228.65  L 124.10 228.67  L 124.15 228.68  L 124.21 228.70  L 122.94 230.40  L 121.66 232.04  L 120.39 233.62  L 119.11 235.12  L 117.82 236.54  L 117.76 236.52  L 117.71 236.51  L 117.66 236.49  L 117.62 236.48  L 118.91 235.06  L 120.19 233.56  L 121.46 231.98  L 122.74 230.34  z " clip-path="url(#p91feb46b0d)" style="fill: #fee7d1; stroke: #fee7d1; stroke-width: 0.35"/> <path d="M 124.21 228.70  L 124.27 228.72  L 124.34 228.74  L 124.41 228.77  L 124.50 228.79  L 123.23 230.49  L 121.95 232.13  L 120.68 233.70  L 119.40 235.20  L 118.11 236.61  L 118.03 236.59  L 117.95 236.57  L 117.88 236.55  L 117.82 236.54  L 119.11 235.12  L 120.39 233.62  L 121.66 232.04  L 122.94 230.40  z " clip-path="url(#p91feb46b0d)" style="fill: #fee7d1; stroke: #fee7d1; stroke-width: 0.35"/> <path d="M 124.50 228.79  L 124.59 228.82  L 124.69 228.85  L 124.80 228.89  L 124.92 228.92  L 123.65 230.62  L 122.38 232.25  L 121.10 233.82  L 119.82 235.32  L 118.53 236.73  L 118.41 236.70  L 118.30 236.67  L 118.20 236.64  L 118.11 236.61  L 119.40 235.20  L 120.68 233.70  L 121.95 232.13  L 123.23 230.49  z " clip-path="url(#p91feb46b0d)" style="fill: #fee7d1; stroke: #fee7d1; stroke-width: 0.35"/> <path d="M 142.48 223.91  L 143.71 224.40  L 145.06 224.94  L 146.55 225.54  L 148.17 226.20  L 146.92 228.01  L 145.66 229.75  L 144.39 231.43  L 143.13 233.06  L 141.86 234.64  L 140.24 234.07  L 138.75 233.55  L 137.40 233.08  L 136.17 232.66  L 137.44 231.01  L 138.71 229.32  L 139.97 227.58  L 141.23 225.79  z " clip-path="url(#p91feb46b0d)" style="fill: #fee0c1; stroke: #fee0c1; stroke-width: 0.35"/> <path d="M 124.92 228.92  L 125.05 228.97  L 125.20 229.01  L 125.35 229.06  L 125.53 229.12  L 124.26 230.81  L 122.99 232.44  L 121.71 234.00  L 120.43 235.49  L 119.14 236.90  L 118.97 236.85  L 118.81 236.81  L 118.67 236.77  L 118.53 236.73  L 119.82 235.32  L 121.10 233.82  L 122.38 232.25  L 123.65 230.62  z " clip-path="url(#p91feb46b0d)" style="fill: #fee7d1; stroke: #fee7d1; stroke-width: 0.35"/> <path d="M 125.53 229.12  L 125.72 229.18  L 125.93 229.25  L 126.16 229.32  L 126.41 229.40  L 125.14 231.08  L 123.87 232.71  L 122.59 234.26  L 121.31 235.74  L 120.03 237.14  L 119.78 237.07  L 119.54 237.01  L 119.33 236.95  L 119.14 236.90  L 120.43 235.49  L 121.71 234.00  L 122.99 232.44  L 124.26 230.81  z " clip-path="url(#p91feb46b0d)" style="fill: #fee8d2; stroke: #fee8d2; stroke-width: 0.35"/> <path d="M 126.41 229.40  L 126.69 229.49  L 127.00 229.59  L 127.33 229.70  L 127.70 229.81  L 126.43 231.49  L 125.15 233.10  L 123.88 234.64  L 122.60 236.11  L 121.31 237.50  L 120.94 237.40  L 120.61 237.30  L 120.31 237.22  L 120.03 237.14  L 121.31 235.74  L 122.59 234.26  L 123.87 232.71  L 125.14 231.08  z " clip-path="url(#p91feb46b0d)" style="fill: #fee8d2; stroke: #fee8d2; stroke-width: 0.35"/> <path d="M 204.50 213.45  L 210.00 217.58  L 216.04 222.03  L 222.66 226.47  L 229.93 230.61  L 228.71 232.54  L 227.49 234.78  L 226.26 236.94  L 225.04 238.61  L 223.81 240.06  L 216.53 236.26  L 209.89 231.25  L 203.84 226.17  L 198.33 222.26  L 199.57 220.35  L 200.80 218.52  L 202.04 216.76  L 203.27 215.08  z " clip-path="url(#p91feb46b0d)" style="fill: #fdd7b1; stroke: #fdd7b1; stroke-width: 0.35"/> <path d="M 162.64 218.24  L 165.24 219.59  L 168.10 221.08  L 171.23 222.72  L 174.67 224.52  L 173.44 226.78  L 172.20 228.96  L 170.95 231.04  L 169.71 232.96  L 168.45 234.68  L 165.02 233.25  L 161.89 231.94  L 159.04 230.74  L 156.44 229.64  L 157.69 227.73  L 158.93 225.59  L 160.17 223.26  L 161.41 220.80  z " clip-path="url(#p91feb46b0d)" style="fill: #fdd8b2; stroke: #fdd8b2; stroke-width: 0.35"/> <path d="M 127.70 229.81  L 128.10 229.95  L 128.54 230.09  L 129.03 230.25  L 129.56 230.42  L 128.29 232.08  L 127.01 233.67  L 125.74 235.20  L 124.46 236.65  L 123.17 238.02  L 122.64 237.87  L 122.15 237.74  L 121.71 237.61  L 121.31 237.50  L 122.60 236.11  L 123.88 234.64  L 125.15 233.10  L 126.43 231.49  z " clip-path="url(#p91feb46b0d)" style="fill: #fee8d2; stroke: #fee8d2; stroke-width: 0.35"/> <path d="M 180.83 211.88  L 184.61 214.17  L 188.76 216.63  L 193.32 219.31  L 198.33 222.26  L 197.10 224.39  L 195.87 226.71  L 194.64 229.08  L 193.40 231.33  L 192.17 233.34  L 187.16 230.83  L 182.60 228.55  L 178.45 226.46  L 174.67 224.52  L 175.91 222.24  L 177.14 219.84  L 178.37 217.22  L 179.60 214.52  z " clip-path="url(#p91feb46b0d)" style="fill: #fdcd9c; stroke: #fdcd9c; stroke-width: 0.35"/> <path d="M 129.56 230.42  L 130.14 230.62  L 130.78 230.83  L 131.49 231.07  L 132.26 231.32  L 130.99 232.95  L 129.71 234.52  L 128.44 236.02  L 127.15 237.45  L 125.87 238.79  L 125.10 238.57  L 124.40 238.37  L 123.75 238.19  L 123.17 238.02  L 124.46 236.65  L 125.74 235.20  L 127.01 233.67  L 128.29 232.08  z " clip-path="url(#p91feb46b0d)" style="fill: #fee8d2; stroke: #fee8d2; stroke-width: 0.35"/> <path d="M 148.17 226.20  L 149.96 226.94  L 151.92 227.75  L 154.07 228.65  L 156.44 229.64  L 155.18 231.35  L 153.92 232.98  L 152.66 234.55  L 151.39 236.08  L 150.13 237.56  L 147.76 236.72  L 145.61 235.96  L 143.65 235.27  L 141.86 234.64  L 143.13 233.06  L 144.39 231.43  L 145.66 229.75  L 146.92 228.01  z " clip-path="url(#p91feb46b0d)" style="fill: #fee3c8; stroke: #fee3c8; stroke-width: 0.35"/> <path d="M 236.03 223.23  L 244.00 227.29  L 252.77 231.25  L 262.42 235.08  L 273.04 238.79  L 271.84 240.02  L 270.64 241.30  L 269.43 242.63  L 268.23 243.95  L 267.02 245.22  L 256.38 241.75  L 246.71 238.17  L 237.92 234.46  L 229.93 230.61  L 231.15 228.87  L 232.37 227.19  L 233.59 225.65  L 234.81 224.32  z " clip-path="url(#p91feb46b0d)" style="fill: #fee7d0; stroke: #fee7d0; stroke-width: 0.35"/> <path d="M 132.26 231.32  L 133.10 231.61  L 134.03 231.93  L 135.05 232.27  L 136.17 232.66  L 134.90 234.25  L 133.63 235.77  L 132.35 237.23  L 131.07 238.62  L 129.79 239.93  L 128.67 239.60  L 127.65 239.31  L 126.72 239.04  L 125.87 238.79  L 127.15 237.45  L 128.44 236.02  L 129.71 234.52  L 130.99 232.95  z " clip-path="url(#p91feb46b0d)" style="fill: #fee9d4; stroke: #fee9d4; stroke-width: 0.35"/> <path d="M 174.67 224.52  L 178.45 226.46  L 182.60 228.55  L 187.16 230.83  L 192.17 233.34  L 190.93 235.18  L 189.68 236.96  L 188.44 238.67  L 187.19 240.25  L 185.94 241.67  L 180.93 239.71  L 176.38 237.90  L 172.23 236.23  L 168.45 234.68  L 169.71 232.96  L 170.95 231.04  L 172.20 228.96  L 173.44 226.78  z " clip-path="url(#p91feb46b0d)" style="fill: #fee3c8; stroke: #fee3c8; stroke-width: 0.35"/> <path d="M 136.17 232.66  L 137.40 233.08  L 138.75 233.55  L 140.24 234.07  L 141.86 234.64  L 140.59 236.16  L 139.32 237.62  L 138.04 239.02  L 136.76 240.35  L 135.47 241.61  L 133.85 241.13  L 132.36 240.69  L 131.02 240.29  L 129.79 239.93  L 131.07 238.62  L 132.35 237.23  L 133.63 235.77  L 134.90 234.25  z " clip-path="url(#p91feb46b0d)" style="fill: #feead5; stroke: #feead5; stroke-width: 0.35"/> <path d="M 350.72 233.13  L 355.00 234.30  L 359.39 235.55  L 363.89 236.86  L 368.51 238.27  L 367.38 239.15  L 366.25 240.05  L 365.12 240.96  L 363.99 241.88  L 362.85 242.81  L 358.22 241.43  L 353.71 240.13  L 349.31 238.90  L 345.01 237.73  L 346.16 236.79  L 347.30 235.86  L 348.44 234.94  L 349.58 234.03  z " clip-path="url(#p91feb46b0d)" style="fill: #feebd8; stroke: #feebd8; stroke-width: 0.35"/> <path d="M 117.18 236.36  L 117.23 236.37  L 117.28 236.39  L 117.33 236.40  L 117.39 236.42  L 116.10 237.75  L 114.80 238.98  L 113.50 240.14  L 112.20 241.22  L 110.89 242.25  L 110.83 242.23  L 110.78 242.22  L 110.73 242.20  L 110.68 242.19  L 111.98 241.16  L 113.29 240.08  L 114.59 238.93  L 115.88 237.69  z " clip-path="url(#p91feb46b0d)" style="fill: #feeddc; stroke: #feeddc; stroke-width: 0.35"/> <path d="M 117.39 236.42  L 117.41 236.42  L 117.43 236.43  L 117.46 236.44  L 117.48 236.44  L 116.19 237.77  L 114.90 239.01  L 113.60 240.16  L 112.29 241.24  L 110.98 242.27  L 110.96 242.26  L 110.93 242.26  L 110.91 242.25  L 110.89 242.25  L 112.20 241.22  L 113.50 240.14  L 114.80 238.98  L 116.10 237.75  z " clip-path="url(#p91feb46b0d)" style="fill: #feeddc; stroke: #feeddc; stroke-width: 0.35"/> <path d="M 117.48 236.44  L 117.51 236.45  L 117.55 236.46  L 117.58 236.47  L 117.62 236.48  L 116.33 237.81  L 115.04 239.05  L 113.74 240.20  L 112.43 241.28  L 111.12 242.31  L 111.08 242.30  L 111.05 242.29  L 111.01 242.28  L 110.98 242.27  L 112.29 241.24  L 113.60 240.16  L 114.90 239.01  L 116.19 237.77  z " clip-path="url(#p91feb46b0d)" style="fill: #feeddc; stroke: #feeddc; stroke-width: 0.35"/> <path d="M 156.44 229.64  L 159.04 230.74  L 161.89 231.94  L 165.02 233.25  L 168.45 234.68  L 167.20 236.21  L 165.94 237.67  L 164.67 239.09  L 163.41 240.46  L 162.14 241.78  L 158.70 240.58  L 155.57 239.48  L 152.72 238.48  L 150.13 237.56  L 151.39 236.08  L 152.66 234.55  L 153.92 232.98  L 155.18 231.35  z " clip-path="url(#p91feb46b0d)" style="fill: #fee7d1; stroke: #fee7d1; stroke-width: 0.35"/> <path d="M 117.62 236.48  L 117.66 236.49  L 117.71 236.51  L 117.76 236.52  L 117.82 236.54  L 116.53 237.86  L 115.24 239.10  L 113.94 240.25  L 112.63 241.34  L 111.32 242.36  L 111.27 242.35  L 111.21 242.33  L 111.17 242.32  L 111.12 242.31  L 112.43 241.28  L 113.74 240.20  L 115.04 239.05  L 116.33 237.81  z " clip-path="url(#p91feb46b0d)" style="fill: #feeddc; stroke: #feeddc; stroke-width: 0.35"/> <path d="M 198.33 222.26  L 203.84 226.17  L 209.89 231.25  L 216.53 236.26  L 223.81 240.06  L 222.58 241.42  L 221.35 242.68  L 220.12 243.85  L 218.88 244.93  L 217.64 245.98  L 210.35 243.23  L 203.72 239.84  L 197.67 236.34  L 192.17 233.34  L 193.40 231.33  L 194.64 229.08  L 195.87 226.71  L 197.10 224.39  z " clip-path="url(#p91feb46b0d)" style="fill: #fee7d0; stroke: #fee7d0; stroke-width: 0.35"/> <path d="M 117.82 236.54  L 117.88 236.55  L 117.95 236.57  L 118.03 236.59  L 118.11 236.61  L 116.82 237.94  L 115.53 239.18  L 114.23 240.33  L 112.92 241.41  L 111.61 242.44  L 111.53 242.42  L 111.45 242.40  L 111.39 242.38  L 111.32 242.36  L 112.63 241.34  L 113.94 240.25  L 115.24 239.10  L 116.53 237.86  z " clip-path="url(#p91feb46b0d)" style="fill: #feeddc; stroke: #feeddc; stroke-width: 0.35"/> <path d="M 118.11 236.61  L 118.20 236.64  L 118.30 236.67  L 118.41 236.70  L 118.53 236.73  L 117.24 238.05  L 115.95 239.29  L 114.65 240.44  L 113.34 241.53  L 112.04 242.56  L 111.91 242.53  L 111.81 242.50  L 111.70 242.47  L 111.61 242.44  L 112.92 241.41  L 114.23 240.33  L 115.53 239.18  L 116.82 237.94  z " clip-path="url(#p91feb46b0d)" style="fill: #feeddc; stroke: #feeddc; stroke-width: 0.35"/> <path d="M 284.95 227.83  L 296.60 231.29  L 309.45 234.83  L 323.62 238.58  L 339.26 242.74  L 338.10 243.79  L 336.94 244.87  L 335.78 245.96  L 334.61 247.08  L 333.45 248.20  L 317.78 243.98  L 303.58 240.12  L 290.70 236.48  L 279.02 232.97  L 280.21 231.91  L 281.39 230.86  L 282.58 229.84  L 283.76 228.83  z " clip-path="url(#p91feb46b0d)" style="fill: #feead6; stroke: #feead6; stroke-width: 0.35"/> <path d="M 118.53 236.73  L 118.67 236.77  L 118.81 236.81  L 118.97 236.85  L 119.14 236.90  L 117.85 238.22  L 116.56 239.45  L 115.26 240.61  L 113.95 241.69  L 112.65 242.73  L 112.47 242.68  L 112.31 242.64  L 112.17 242.60  L 112.04 242.56  L 113.34 241.53  L 114.65 240.44  L 115.95 239.29  L 117.24 238.05  z " clip-path="url(#p91feb46b0d)" style="fill: #feeddc; stroke: #feeddc; stroke-width: 0.35"/> <path d="M 119.14 236.90  L 119.33 236.95  L 119.54 237.01  L 119.78 237.07  L 120.03 237.14  L 118.74 238.46  L 117.44 239.69  L 116.14 240.84  L 114.84 241.93  L 113.53 242.97  L 113.28 242.90  L 113.05 242.84  L 112.84 242.78  L 112.65 242.73  L 113.95 241.69  L 115.26 240.61  L 116.56 239.45  L 117.85 238.22  z " clip-path="url(#p91feb46b0d)" style="fill: #feeddc; stroke: #feeddc; stroke-width: 0.35"/> <path d="M 120.03 237.14  L 120.31 237.22  L 120.61 237.30  L 120.94 237.40  L 121.31 237.50  L 120.02 238.81  L 118.73 240.04  L 117.43 241.19  L 116.12 242.28  L 114.82 243.33  L 114.45 243.22  L 114.12 243.13  L 113.81 243.05  L 113.53 242.97  L 114.84 241.93  L 116.14 240.84  L 117.44 239.69  L 118.74 238.46  z " clip-path="url(#p91feb46b0d)" style="fill: #feeddc; stroke: #feeddc; stroke-width: 0.35"/> <path d="M 121.31 237.50  L 121.71 237.61  L 122.15 237.74  L 122.64 237.87  L 123.17 238.02  L 121.88 239.32  L 120.59 240.54  L 119.29 241.70  L 117.99 242.79  L 116.68 243.84  L 116.15 243.70  L 115.66 243.56  L 115.22 243.44  L 114.82 243.33  L 116.12 242.28  L 117.43 241.19  L 118.73 240.04  L 120.02 238.81  z " clip-path="url(#p91feb46b0d)" style="fill: #ffeedd; stroke: #ffeedd; stroke-width: 0.35"/> <path d="M 141.86 234.64  L 143.65 235.27  L 145.61 235.96  L 147.76 236.72  L 150.13 237.56  L 148.85 238.98  L 147.58 240.35  L 146.30 241.65  L 145.02 242.90  L 143.74 244.09  L 141.37 243.38  L 139.22 242.73  L 137.26 242.14  L 135.47 241.61  L 136.76 240.35  L 138.04 239.02  L 139.32 237.62  L 140.59 236.16  z " clip-path="url(#p91feb46b0d)" style="fill: #feebd8; stroke: #feebd8; stroke-width: 0.35"/> <path d="M 123.17 238.02  L 123.75 238.19  L 124.40 238.37  L 125.10 238.57  L 125.87 238.79  L 124.58 240.07  L 123.29 241.29  L 121.99 242.44  L 120.69 243.54  L 119.38 244.60  L 118.61 244.38  L 117.91 244.18  L 117.27 244.01  L 116.68 243.84  L 117.99 242.79  L 119.29 241.70  L 120.59 240.54  L 121.88 239.32  z " clip-path="url(#p91feb46b0d)" style="fill: #ffeedd; stroke: #ffeedd; stroke-width: 0.35"/> <path d="M 229.93 230.61  L 237.92 234.46  L 246.71 238.17  L 256.38 241.75  L 267.02 245.22  L 265.82 246.40  L 264.61 247.57  L 263.40 248.70  L 262.19 249.76  L 260.97 250.79  L 250.30 248.03  L 240.61 245.37  L 231.81 242.74  L 223.81 240.06  L 225.04 238.61  L 226.26 236.94  L 227.49 234.78  L 228.71 232.54  z " clip-path="url(#p91feb46b0d)" style="fill: #ffeede; stroke: #ffeede; stroke-width: 0.35"/> <path d="M 125.87 238.79  L 126.72 239.04  L 127.65 239.31  L 128.67 239.60  L 129.79 239.93  L 128.50 241.18  L 127.20 242.38  L 125.91 243.53  L 124.61 244.63  L 123.31 245.69  L 122.19 245.38  L 121.16 245.09  L 120.23 244.83  L 119.38 244.60  L 120.69 243.54  L 121.99 242.44  L 123.29 241.29  L 124.58 240.07  z " clip-path="url(#p91feb46b0d)" style="fill: #ffeede; stroke: #ffeede; stroke-width: 0.35"/> <path d="M 168.45 234.68  L 172.23 236.23  L 176.38 237.90  L 180.93 239.71  L 185.94 241.67  L 184.68 242.93  L 183.42 244.15  L 182.16 245.33  L 180.90 246.49  L 179.63 247.61  L 174.62 245.97  L 170.07 244.46  L 165.92 243.07  L 162.14 241.78  L 163.41 240.46  L 164.67 239.09  L 165.94 237.67  L 167.20 236.21  z " clip-path="url(#p91feb46b0d)" style="fill: #feecda; stroke: #feecda; stroke-width: 0.35"/> <path d="M 192.17 233.34  L 197.67 236.34  L 203.72 239.84  L 210.35 243.23  L 217.64 245.98  L 216.40 247.00  L 215.16 248.00  L 213.92 248.99  L 212.67 249.95  L 211.43 250.89  L 204.13 248.71  L 197.48 246.30  L 191.44 243.87  L 185.94 241.67  L 187.19 240.25  L 188.44 238.67  L 189.68 236.96  L 190.93 235.18  z " clip-path="url(#p91feb46b0d)" style="fill: #ffeedd; stroke: #ffeedd; stroke-width: 0.35"/> <path d="M 150.13 237.56  L 152.72 238.48  L 155.57 239.48  L 158.70 240.58  L 162.14 241.78  L 160.87 243.06  L 159.60 244.28  L 158.32 245.47  L 157.04 246.60  L 155.76 247.69  L 152.32 246.66  L 149.19 245.72  L 146.33 244.87  L 143.74 244.09  L 145.02 242.90  L 146.30 241.65  L 147.58 240.35  L 148.85 238.98  z " clip-path="url(#p91feb46b0d)" style="fill: #feeddc; stroke: #feeddc; stroke-width: 0.35"/> <path d="M 129.79 239.93  L 131.02 240.29  L 132.36 240.69  L 133.85 241.13  L 135.47 241.61  L 134.19 242.82  L 132.89 244.00  L 131.60 245.13  L 130.30 246.22  L 129.00 247.29  L 127.37 246.84  L 125.89 246.42  L 124.54 246.04  L 123.31 245.69  L 124.61 244.63  L 125.91 243.53  L 127.20 242.38  L 128.50 241.18  z " clip-path="url(#p91feb46b0d)" style="fill: #ffefdf; stroke: #ffefdf; stroke-width: 0.35"/> <path d="M 110.68 242.19  L 110.73 242.20  L 110.78 242.22  L 110.83 242.23  L 110.89 242.25  L 109.58 243.23  L 108.26 244.19  L 106.94 245.14  L 105.62 246.09  L 104.30 247.05  L 104.25 247.04  L 104.20 247.02  L 104.14 247.01  L 104.09 246.99  L 105.41 246.03  L 106.73 245.08  L 108.05 244.13  L 109.36 243.17  z " clip-path="url(#p91feb46b0d)" style="fill: #ffefe0; stroke: #ffefe0; stroke-width: 0.35"/> <path d="M 110.89 242.25  L 110.91 242.25  L 110.93 242.26  L 110.96 242.26  L 110.98 242.27  L 109.67 243.26  L 108.36 244.22  L 107.04 245.17  L 105.72 246.12  L 104.40 247.08  L 104.37 247.07  L 104.35 247.07  L 104.32 247.06  L 104.30 247.05  L 105.62 246.09  L 106.94 245.14  L 108.26 244.19  L 109.58 243.23  z " clip-path="url(#p91feb46b0d)" style="fill: #ffefe0; stroke: #ffefe0; stroke-width: 0.35"/> <path d="M 110.98 242.27  L 111.01 242.28  L 111.05 242.29  L 111.08 242.30  L 111.12 242.31  L 109.81 243.30  L 108.49 244.26  L 107.18 245.21  L 105.86 246.16  L 104.54 247.12  L 104.50 247.11  L 104.46 247.10  L 104.43 247.09  L 104.40 247.08  L 105.72 246.12  L 107.04 245.17  L 108.36 244.22  L 109.67 243.26  z " clip-path="url(#p91feb46b0d)" style="fill: #ffefe0; stroke: #ffefe0; stroke-width: 0.35"/> <path d="M 111.12 242.31  L 111.17 242.32  L 111.21 242.33  L 111.27 242.35  L 111.32 242.36  L 110.01 243.35  L 108.70 244.32  L 107.38 245.26  L 106.06 246.22  L 104.74 247.18  L 104.68 247.16  L 104.63 247.15  L 104.58 247.14  L 104.54 247.12  L 105.86 246.16  L 107.18 245.21  L 108.49 244.26  L 109.81 243.30  z " clip-path="url(#p91feb46b0d)" style="fill: #fff0e1; stroke: #fff0e1; stroke-width: 0.35"/> <path d="M 279.02 232.97  L 290.70 236.48  L 303.58 240.12  L 317.78 243.98  L 333.45 248.20  L 332.28 249.34  L 331.11 250.50  L 329.94 251.68  L 328.77 252.87  L 327.59 254.04  L 311.88 249.92  L 297.65 246.07  L 284.75 242.42  L 273.04 238.79  L 274.24 237.56  L 275.44 236.34  L 276.63 235.16  L 277.83 234.05  z " clip-path="url(#p91feb46b0d)" style="fill: #feeddc; stroke: #feeddc; stroke-width: 0.35"/> <path d="M 111.32 242.36  L 111.39 242.38  L 111.45 242.40  L 111.53 242.42  L 111.61 242.44  L 110.30 243.43  L 108.99 244.40  L 107.67 245.35  L 106.35 246.30  L 105.03 247.27  L 104.95 247.24  L 104.87 247.22  L 104.80 247.20  L 104.74 247.18  L 106.06 246.22  L 107.38 245.26  L 108.70 244.32  L 110.01 243.35  z " clip-path="url(#p91feb46b0d)" style="fill: #fff0e1; stroke: #fff0e1; stroke-width: 0.35"/> <path d="M 345.01 237.73  L 349.31 238.90  L 353.71 240.13  L 358.22 241.43  L 362.85 242.81  L 361.72 243.75  L 360.58 244.72  L 359.44 245.73  L 358.29 246.75  L 357.14 247.79  L 352.50 246.43  L 347.97 245.14  L 343.56 243.91  L 339.26 242.74  L 340.41 241.68  L 341.57 240.65  L 342.72 239.66  L 343.87 238.68  z " clip-path="url(#p91feb46b0d)" style="fill: #feecda; stroke: #feecda; stroke-width: 0.35"/> <path d="M 111.61 242.44  L 111.70 242.47  L 111.81 242.50  L 111.91 242.53  L 112.04 242.56  L 110.72 243.55  L 109.41 244.52  L 108.09 245.47  L 106.77 246.43  L 105.45 247.39  L 105.33 247.36  L 105.22 247.32  L 105.12 247.29  L 105.03 247.27  L 106.35 246.30  L 107.67 245.35  L 108.99 244.40  L 110.30 243.43  z " clip-path="url(#p91feb46b0d)" style="fill: #fff0e1; stroke: #fff0e1; stroke-width: 0.35"/> <path d="M 112.04 242.56  L 112.17 242.60  L 112.31 242.64  L 112.47 242.68  L 112.65 242.73  L 111.34 243.72  L 110.02 244.69  L 108.70 245.65  L 107.39 246.61  L 106.07 247.57  L 105.89 247.52  L 105.73 247.47  L 105.59 247.43  L 105.45 247.39  L 106.77 246.43  L 108.09 245.47  L 109.41 244.52  L 110.72 243.55  z " clip-path="url(#p91feb46b0d)" style="fill: #fff0e1; stroke: #fff0e1; stroke-width: 0.35"/> <path d="M 112.65 242.73  L 112.84 242.78  L 113.05 242.84  L 113.28 242.90  L 113.53 242.97  L 112.22 243.97  L 110.91 244.95  L 109.59 245.91  L 108.27 246.87  L 106.96 247.83  L 106.70 247.76  L 106.47 247.69  L 106.26 247.63  L 106.07 247.57  L 107.39 246.61  L 108.70 245.65  L 110.02 244.69  L 111.34 243.72  z " clip-path="url(#p91feb46b0d)" style="fill: #fff0e1; stroke: #fff0e1; stroke-width: 0.35"/> <path d="M 113.53 242.97  L 113.81 243.05  L 114.12 243.13  L 114.45 243.22  L 114.82 243.33  L 113.51 244.33  L 112.20 245.31  L 110.88 246.28  L 109.56 247.24  L 108.24 248.21  L 107.88 248.11  L 107.54 248.01  L 107.23 247.92  L 106.96 247.83  L 108.27 246.87  L 109.59 245.91  L 110.91 244.95  L 112.22 243.97  z " clip-path="url(#p91feb46b0d)" style="fill: #fff0e1; stroke: #fff0e1; stroke-width: 0.35"/> <path d="M 135.47 241.61  L 137.26 242.14  L 139.22 242.73  L 141.37 243.38  L 143.74 244.09  L 142.45 245.24  L 141.16 246.37  L 139.87 247.47  L 138.58 248.55  L 137.28 249.62  L 134.91 248.95  L 132.75 248.35  L 130.79 247.80  L 129.00 247.29  L 130.30 246.22  L 131.60 245.13  L 132.89 244.00  L 134.19 242.82  z " clip-path="url(#p91feb46b0d)" style="fill: #fff0e1; stroke: #fff0e1; stroke-width: 0.35"/> <path d="M 114.82 243.33  L 115.22 243.44  L 115.66 243.56  L 116.15 243.70  L 116.68 243.84  L 115.37 244.86  L 114.06 245.85  L 112.75 246.82  L 111.43 247.79  L 110.11 248.76  L 109.58 248.61  L 109.09 248.46  L 108.65 248.33  L 108.24 248.21  L 109.56 247.24  L 110.88 246.28  L 112.20 245.31  L 113.51 244.33  z " clip-path="url(#p91feb46b0d)" style="fill: #fff0e2; stroke: #fff0e2; stroke-width: 0.35"/> <path d="M 223.81 240.06  L 231.81 242.74  L 240.61 245.37  L 250.30 248.03  L 260.97 250.79  L 259.76 251.78  L 258.54 252.73  L 257.33 253.68  L 256.11 254.62  L 254.89 255.55  L 244.19 252.94  L 234.48 250.51  L 225.66 248.20  L 217.64 245.98  L 218.88 244.93  L 220.12 243.85  L 221.35 242.68  L 222.58 241.42  z " clip-path="url(#p91feb46b0d)" style="fill: #fff3e6; stroke: #fff3e6; stroke-width: 0.35"/> <path d="M 116.68 243.84  L 117.27 244.01  L 117.91 244.18  L 118.61 244.38  L 119.38 244.60  L 118.08 245.62  L 116.77 246.62  L 115.46 247.61  L 114.14 248.58  L 112.82 249.56  L 112.05 249.33  L 111.34 249.12  L 110.70 248.94  L 110.11 248.76  L 111.43 247.79  L 112.75 246.82  L 114.06 245.85  L 115.37 244.86  z " clip-path="url(#p91feb46b0d)" style="fill: #fff0e2; stroke: #fff0e2; stroke-width: 0.35"/> <path d="M 119.38 244.60  L 120.23 244.83  L 121.16 245.09  L 122.19 245.38  L 123.31 245.69  L 122.00 246.73  L 120.69 247.74  L 119.38 248.74  L 118.07 249.72  L 116.76 250.70  L 115.63 250.38  L 114.61 250.08  L 113.67 249.81  L 112.82 249.56  L 114.14 248.58  L 115.46 247.61  L 116.77 246.62  L 118.08 245.62  z " clip-path="url(#p91feb46b0d)" style="fill: #fff1e3; stroke: #fff1e3; stroke-width: 0.35"/> <path d="M 162.14 241.78  L 165.92 243.07  L 170.07 244.46  L 174.62 245.97  L 179.63 247.61  L 178.37 248.70  L 177.10 249.77  L 175.82 250.81  L 174.55 251.82  L 173.27 252.81  L 168.26 251.36  L 163.69 250.03  L 159.54 248.81  L 155.76 247.69  L 157.04 246.60  L 158.32 245.47  L 159.60 244.28  L 160.87 243.06  z " clip-path="url(#p91feb46b0d)" style="fill: #fff0e2; stroke: #fff0e2; stroke-width: 0.35"/> <path d="M 185.94 241.67  L 191.44 243.87  L 197.48 246.30  L 204.13 248.71  L 211.43 250.89  L 210.18 251.81  L 208.93 252.72  L 207.68 253.63  L 206.42 254.54  L 205.16 255.45  L 197.85 253.47  L 191.19 251.43  L 185.14 249.43  L 179.63 247.61  L 180.90 246.49  L 182.16 245.33  L 183.42 244.15  L 184.68 242.93  z " clip-path="url(#p91feb46b0d)" style="fill: #fff2e5; stroke: #fff2e5; stroke-width: 0.35"/> <path d="M 143.74 244.09  L 146.33 244.87  L 149.19 245.72  L 152.32 246.66  L 155.76 247.69  L 154.47 248.77  L 153.19 249.83  L 151.90 250.88  L 150.61 251.93  L 149.32 252.96  L 145.87 252.01  L 142.73 251.14  L 139.88 250.34  L 137.28 249.62  L 138.58 248.55  L 139.87 247.47  L 141.16 246.37  L 142.45 245.24  z " clip-path="url(#p91feb46b0d)" style="fill: #fff1e3; stroke: #fff1e3; stroke-width: 0.35"/> <path d="M 123.31 245.69  L 124.54 246.04  L 125.89 246.42  L 127.37 246.84  L 129.00 247.29  L 127.70 248.34  L 126.40 249.36  L 125.09 250.37  L 123.78 251.36  L 122.47 252.34  L 120.83 251.88  L 119.35 251.45  L 117.99 251.06  L 116.76 250.70  L 118.07 249.72  L 119.38 248.74  L 120.69 247.74  L 122.00 246.73  z " clip-path="url(#p91feb46b0d)" style="fill: #fff1e4; stroke: #fff1e4; stroke-width: 0.35"/> <path d="M 273.04 238.79  L 284.75 242.42  L 297.65 246.07  L 311.88 249.92  L 327.59 254.04  L 326.42 255.19  L 325.24 256.35  L 324.06 257.49  L 322.88 258.57  L 321.71 259.54  L 305.96 255.64  L 291.69 252.00  L 278.75 248.58  L 267.02 245.22  L 268.23 243.95  L 269.43 242.63  L 270.64 241.30  L 271.84 240.02  z " clip-path="url(#p91feb46b0d)" style="fill: #fff1e4; stroke: #fff1e4; stroke-width: 0.35"/> <path d="M 104.09 246.99  L 104.14 247.01  L 104.20 247.02  L 104.25 247.04  L 104.30 247.05  L 102.98 248.03  L 101.66 249.03  L 100.33 250.03  L 99.01 251.05  L 97.68 252.07  L 97.62 252.05  L 97.57 252.04  L 97.52 252.02  L 97.46 252.01  L 98.79 250.99  L 100.12 249.97  L 101.44 248.97  L 102.77 247.97  z " clip-path="url(#p91feb46b0d)" style="fill: #fff1e3; stroke: #fff1e3; stroke-width: 0.35"/> <path d="M 104.30 247.05  L 104.32 247.06  L 104.35 247.07  L 104.37 247.07  L 104.40 247.08  L 103.08 248.06  L 101.75 249.06  L 100.43 250.06  L 99.10 251.07  L 97.77 252.10  L 97.75 252.09  L 97.72 252.08  L 97.70 252.07  L 97.68 252.07  L 99.01 251.05  L 100.33 250.03  L 101.66 249.03  L 102.98 248.03  z " clip-path="url(#p91feb46b0d)" style="fill: #fff1e3; stroke: #fff1e3; stroke-width: 0.35"/> <path d="M 339.26 242.74  L 343.56 243.91  L 347.97 245.14  L 352.50 246.43  L 357.14 247.79  L 356.00 248.83  L 354.85 249.90  L 353.69 250.99  L 352.54 252.09  L 351.38 253.18  L 346.72 251.87  L 342.19 250.60  L 337.76 249.38  L 333.45 248.20  L 334.61 247.08  L 335.78 245.96  L 336.94 244.87  L 338.10 243.79  z " clip-path="url(#p91feb46b0d)" style="fill: #ffeede; stroke: #ffeede; stroke-width: 0.35"/> <path d="M 104.40 247.08  L 104.43 247.09  L 104.46 247.10  L 104.50 247.11  L 104.54 247.12  L 103.21 248.10  L 101.89 249.10  L 100.57 250.10  L 99.24 251.11  L 97.91 252.13  L 97.87 252.12  L 97.84 252.11  L 97.80 252.10  L 97.77 252.10  L 99.10 251.07  L 100.43 250.06  L 101.75 249.06  L 103.08 248.06  z " clip-path="url(#p91feb46b0d)" style="fill: #fff1e3; stroke: #fff1e3; stroke-width: 0.35"/> <path d="M 104.54 247.12  L 104.58 247.14  L 104.63 247.15  L 104.68 247.16  L 104.74 247.18  L 103.42 248.16  L 102.09 249.15  L 100.77 250.16  L 99.44 251.17  L 98.11 252.19  L 98.06 252.18  L 98.00 252.16  L 97.96 252.15  L 97.91 252.13  L 99.24 251.11  L 100.57 250.10  L 101.89 249.10  L 103.21 248.10  z " clip-path="url(#p91feb46b0d)" style="fill: #fff1e3; stroke: #fff1e3; stroke-width: 0.35"/> <path d="M 104.74 247.18  L 104.80 247.20  L 104.87 247.22  L 104.95 247.24  L 105.03 247.27  L 103.71 248.25  L 102.39 249.24  L 101.06 250.24  L 99.73 251.26  L 98.41 252.27  L 98.32 252.25  L 98.25 252.23  L 98.18 252.21  L 98.11 252.19  L 99.44 251.17  L 100.77 250.16  L 102.09 249.15  L 103.42 248.16  z " clip-path="url(#p91feb46b0d)" style="fill: #fff1e4; stroke: #fff1e4; stroke-width: 0.35"/> <path d="M 105.03 247.27  L 105.12 247.29  L 105.22 247.32  L 105.33 247.36  L 105.45 247.39  L 104.13 248.37  L 102.81 249.36  L 101.48 250.37  L 100.16 251.38  L 98.83 252.39  L 98.71 252.36  L 98.60 252.33  L 98.50 252.30  L 98.41 252.27  L 99.73 251.26  L 101.06 250.24  L 102.39 249.24  L 103.71 248.25  z " clip-path="url(#p91feb46b0d)" style="fill: #fff1e4; stroke: #fff1e4; stroke-width: 0.35"/> <path d="M 105.45 247.39  L 105.59 247.43  L 105.73 247.47  L 105.89 247.52  L 106.07 247.57  L 104.75 248.55  L 103.42 249.54  L 102.10 250.54  L 100.77 251.55  L 99.44 252.57  L 99.27 252.52  L 99.11 252.47  L 98.96 252.43  L 98.83 252.39  L 100.16 251.38  L 101.48 250.37  L 102.81 249.36  L 104.13 248.37  z " clip-path="url(#p91feb46b0d)" style="fill: #fff1e4; stroke: #fff1e4; stroke-width: 0.35"/> <path d="M 106.07 247.57  L 106.26 247.63  L 106.47 247.69  L 106.70 247.76  L 106.96 247.83  L 105.63 248.81  L 104.31 249.80  L 102.99 250.80  L 101.66 251.81  L 100.33 252.82  L 100.08 252.75  L 99.85 252.68  L 99.64 252.62  L 99.44 252.57  L 100.77 251.55  L 102.10 250.54  L 103.42 249.54  L 104.75 248.55  z " clip-path="url(#p91feb46b0d)" style="fill: #fff1e4; stroke: #fff1e4; stroke-width: 0.35"/> <path d="M 106.96 247.83  L 107.23 247.92  L 107.54 248.01  L 107.88 248.11  L 108.24 248.21  L 106.92 249.19  L 105.60 250.18  L 104.28 251.17  L 102.95 252.18  L 101.63 253.18  L 101.26 253.08  L 100.92 252.99  L 100.61 252.90  L 100.33 252.82  L 101.66 251.81  L 102.99 250.80  L 104.31 249.80  L 105.63 248.81  z " clip-path="url(#p91feb46b0d)" style="fill: #fff1e4; stroke: #fff1e4; stroke-width: 0.35"/> <path d="M 129.00 247.29  L 130.79 247.80  L 132.75 248.35  L 134.91 248.95  L 137.28 249.62  L 135.98 250.66  L 134.68 251.68  L 133.37 252.69  L 132.07 253.68  L 130.76 254.66  L 128.39 254.00  L 126.23 253.40  L 124.26 252.85  L 122.47 252.34  L 123.78 251.36  L 125.09 250.37  L 126.40 249.36  L 127.70 248.34  z " clip-path="url(#p91feb46b0d)" style="fill: #fff2e5; stroke: #fff2e5; stroke-width: 0.35"/> <path d="M 108.24 248.21  L 108.65 248.33  L 109.09 248.46  L 109.58 248.61  L 110.11 248.76  L 108.79 249.74  L 107.47 250.72  L 106.15 251.71  L 104.82 252.71  L 103.50 253.71  L 102.96 253.56  L 102.48 253.42  L 102.03 253.30  L 101.63 253.18  L 102.95 252.18  L 104.28 251.17  L 105.60 250.18  L 106.92 249.19  z " clip-path="url(#p91feb46b0d)" style="fill: #fff2e5; stroke: #fff2e5; stroke-width: 0.35"/> <path d="M 217.64 245.98  L 225.66 248.20  L 234.48 250.51  L 244.19 252.94  L 254.89 255.55  L 253.67 256.47  L 252.44 257.38  L 251.22 258.27  L 249.99 259.15  L 248.76 260.03  L 238.04 257.47  L 228.30 255.11  L 219.46 252.93  L 211.43 250.89  L 212.67 249.95  L 213.92 248.99  L 215.16 248.00  L 216.40 247.00  z " clip-path="url(#p91feb46b0d)" style="fill: #fff4e9; stroke: #fff4e9; stroke-width: 0.35"/> <path d="M 110.11 248.76  L 110.70 248.94  L 111.34 249.12  L 112.05 249.33  L 112.82 249.56  L 111.51 250.53  L 110.18 251.51  L 108.86 252.50  L 107.54 253.48  L 106.21 254.48  L 105.44 254.26  L 104.73 254.06  L 104.09 253.88  L 103.50 253.71  L 104.82 252.71  L 106.15 251.71  L 107.47 250.72  L 108.79 249.74  z " clip-path="url(#p91feb46b0d)" style="fill: #fff2e5; stroke: #fff2e5; stroke-width: 0.35"/> <path d="M 112.82 249.56  L 113.67 249.81  L 114.61 250.08  L 115.63 250.38  L 116.76 250.70  L 115.44 251.68  L 114.12 252.64  L 112.80 253.62  L 111.48 254.60  L 110.15 255.58  L 109.03 255.26  L 108.00 254.98  L 107.07 254.71  L 106.21 254.48  L 107.54 253.48  L 108.86 252.50  L 110.18 251.51  L 111.51 250.53  z " clip-path="url(#p91feb46b0d)" style="fill: #fff2e6; stroke: #fff2e6; stroke-width: 0.35"/> <path d="M 155.76 247.69  L 159.54 248.81  L 163.69 250.03  L 168.26 251.36  L 173.27 252.81  L 171.99 253.79  L 170.71 254.77  L 169.43 255.74  L 168.15 256.71  L 166.86 257.67  L 161.84 256.33  L 157.26 255.11  L 153.10 253.99  L 149.32 252.96  L 150.61 251.93  L 151.90 250.88  L 153.19 249.83  L 154.47 248.77  z " clip-path="url(#p91feb46b0d)" style="fill: #fff2e6; stroke: #fff2e6; stroke-width: 0.35"/> <path d="M 179.63 247.61  L 185.14 249.43  L 191.19 251.43  L 197.85 253.47  L 205.16 255.45  L 203.91 256.35  L 202.65 257.25  L 201.38 258.14  L 200.12 259.03  L 198.85 259.91  L 191.52 258.03  L 184.85 256.18  L 178.79 254.42  L 173.27 252.81  L 174.55 251.82  L 175.82 250.81  L 177.10 249.77  L 178.37 248.70  z " clip-path="url(#p91feb46b0d)" style="fill: #fff3e7; stroke: #fff3e7; stroke-width: 0.35"/> <path d="M 137.28 249.62  L 139.88 250.34  L 142.73 251.14  L 145.87 252.01  L 149.32 252.96  L 148.02 253.97  L 146.73 254.97  L 145.43 255.96  L 144.13 256.93  L 142.82 257.88  L 139.37 256.98  L 136.23 256.14  L 133.36 255.37  L 130.76 254.66  L 132.07 253.68  L 133.37 252.69  L 134.68 251.68  L 135.98 250.66  z " clip-path="url(#p91feb46b0d)" style="fill: #fff3e6; stroke: #fff3e6; stroke-width: 0.35"/> <path d="M 116.76 250.70  L 117.99 251.06  L 119.35 251.45  L 120.83 251.88  L 122.47 252.34  L 121.15 253.31  L 119.83 254.27  L 118.52 255.23  L 117.19 256.19  L 115.87 257.15  L 114.24 256.70  L 112.75 256.29  L 111.39 255.92  L 110.15 255.58  L 111.48 254.60  L 112.80 253.62  L 114.12 252.64  L 115.44 251.68  z " clip-path="url(#p91feb46b0d)" style="fill: #fff3e6; stroke: #fff3e6; stroke-width: 0.35"/> <path d="M 267.02 245.22  L 278.75 248.58  L 291.69 252.00  L 305.96 255.64  L 321.71 259.54  L 320.53 260.47  L 319.35 261.40  L 318.17 262.31  L 316.99 263.22  L 315.80 264.13  L 300.01 260.36  L 285.71 256.90  L 272.74 253.72  L 260.97 250.79  L 262.19 249.76  L 263.40 248.70  L 264.61 247.57  L 265.82 246.40  z " clip-path="url(#p91feb46b0d)" style="fill: #fff4e8; stroke: #fff4e8; stroke-width: 0.35"/> <path d="M 333.45 248.20  L 337.76 249.38  L 342.19 250.60  L 346.72 251.87  L 351.38 253.18  L 350.22 254.28  L 349.06 255.39  L 347.90 256.50  L 346.74 257.61  L 345.57 258.69  L 340.90 257.49  L 336.35 256.31  L 331.92 255.16  L 327.59 254.04  L 328.77 252.87  L 329.94 251.68  L 331.11 250.50  L 332.28 249.34  z " clip-path="url(#p91feb46b0d)" style="fill: #fff1e4; stroke: #fff1e4; stroke-width: 0.35"/> <path d="M 97.46 252.01  L 97.52 252.02  L 97.57 252.04  L 97.62 252.05  L 97.68 252.07  L 96.35 253.09  L 95.02 254.12  L 93.68 255.15  L 92.35 256.17  L 91.01 257.19  L 90.96 257.18  L 90.90 257.16  L 90.85 257.15  L 90.80 257.13  L 92.13 256.11  L 93.47 255.09  L 94.80 254.06  L 96.13 253.03  z " clip-path="url(#p91feb46b0d)" style="fill: #fff3e6; stroke: #fff3e6; stroke-width: 0.35"/> <path d="M 97.68 252.07  L 97.70 252.07  L 97.72 252.08  L 97.75 252.09  L 97.77 252.10  L 96.44 253.12  L 95.11 254.15  L 93.78 255.17  L 92.44 256.20  L 91.11 257.21  L 91.08 257.21  L 91.05 257.20  L 91.03 257.20  L 91.01 257.19  L 92.35 256.17  L 93.68 255.15  L 95.02 254.12  L 96.35 253.09  z " clip-path="url(#p91feb46b0d)" style="fill: #fff3e6; stroke: #fff3e6; stroke-width: 0.35"/> <path d="M 97.77 252.10  L 97.80 252.10  L 97.84 252.11  L 97.87 252.12  L 97.91 252.13  L 96.58 253.16  L 95.25 254.19  L 93.92 255.21  L 92.58 256.23  L 91.24 257.25  L 91.20 257.24  L 91.17 257.23  L 91.14 257.22  L 91.11 257.21  L 92.44 256.20  L 93.78 255.17  L 95.11 254.15  L 96.44 253.12  z " clip-path="url(#p91feb46b0d)" style="fill: #fff3e6; stroke: #fff3e6; stroke-width: 0.35"/> <path d="M 97.91 252.13  L 97.96 252.15  L 98.00 252.16  L 98.06 252.18  L 98.11 252.19  L 96.78 253.22  L 95.45 254.24  L 94.12 255.27  L 92.78 256.29  L 91.45 257.30  L 91.39 257.29  L 91.34 257.28  L 91.29 257.26  L 91.24 257.25  L 92.58 256.23  L 93.92 255.21  L 95.25 254.19  L 96.58 253.16  z " clip-path="url(#p91feb46b0d)" style="fill: #fff3e6; stroke: #fff3e6; stroke-width: 0.35"/> <path d="M 98.11 252.19  L 98.18 252.21  L 98.25 252.23  L 98.32 252.25  L 98.41 252.27  L 97.08 253.30  L 95.75 254.32  L 94.41 255.35  L 93.08 256.37  L 91.74 257.38  L 91.66 257.36  L 91.58 257.34  L 91.51 257.32  L 91.45 257.30  L 92.78 256.29  L 94.12 255.27  L 95.45 254.24  L 96.78 253.22  z " clip-path="url(#p91feb46b0d)" style="fill: #fff3e6; stroke: #fff3e6; stroke-width: 0.35"/> <path d="M 98.41 252.27  L 98.50 252.30  L 98.60 252.33  L 98.71 252.36  L 98.83 252.39  L 97.50 253.42  L 96.17 254.44  L 94.84 255.46  L 93.50 256.48  L 92.16 257.49  L 92.04 257.46  L 91.93 257.43  L 91.83 257.41  L 91.74 257.38  L 93.08 256.37  L 94.41 255.35  L 95.75 254.32  L 97.08 253.30  z " clip-path="url(#p91feb46b0d)" style="fill: #fff3e6; stroke: #fff3e6; stroke-width: 0.35"/> <path d="M 98.83 252.39  L 98.96 252.43  L 99.11 252.47  L 99.27 252.52  L 99.44 252.57  L 98.12 253.59  L 96.78 254.61  L 95.45 255.63  L 94.12 256.64  L 92.78 257.65  L 92.60 257.61  L 92.44 257.57  L 92.30 257.53  L 92.16 257.49  L 93.50 256.48  L 94.84 255.46  L 96.17 254.44  L 97.50 253.42  z " clip-path="url(#p91feb46b0d)" style="fill: #fff3e6; stroke: #fff3e6; stroke-width: 0.35"/> <path d="M 99.44 252.57  L 99.64 252.62  L 99.85 252.68  L 100.08 252.75  L 100.33 252.82  L 99.01 253.84  L 97.68 254.85  L 96.34 255.87  L 95.01 256.88  L 93.67 257.89  L 93.42 257.82  L 93.18 257.76  L 92.97 257.70  L 92.78 257.65  L 94.12 256.64  L 95.45 255.63  L 96.78 254.61  L 98.12 253.59  z " clip-path="url(#p91feb46b0d)" style="fill: #fff3e6; stroke: #fff3e6; stroke-width: 0.35"/> <path d="M 100.33 252.82  L 100.61 252.90  L 100.92 252.99  L 101.26 253.08  L 101.63 253.18  L 100.30 254.20  L 98.97 255.21  L 97.63 256.22  L 96.30 257.22  L 94.96 258.23  L 94.59 258.13  L 94.26 258.04  L 93.95 257.96  L 93.67 257.89  L 95.01 256.88  L 96.34 255.87  L 97.68 254.85  L 99.01 253.84  z " clip-path="url(#p91feb46b0d)" style="fill: #fff3e7; stroke: #fff3e7; stroke-width: 0.35"/> <path d="M 122.47 252.34  L 124.26 252.85  L 126.23 253.40  L 128.39 254.00  L 130.76 254.66  L 129.45 255.61  L 128.13 256.56  L 126.82 257.50  L 125.50 258.44  L 124.18 259.39  L 121.80 258.75  L 119.64 258.17  L 117.67 257.64  L 115.87 257.15  L 117.19 256.19  L 118.52 255.23  L 119.83 254.27  L 121.15 253.31  z " clip-path="url(#p91feb46b0d)" style="fill: #fff3e7; stroke: #fff3e7; stroke-width: 0.35"/> <path d="M 101.63 253.18  L 102.03 253.30  L 102.48 253.42  L 102.96 253.56  L 103.50 253.71  L 102.17 254.72  L 100.84 255.72  L 99.51 256.72  L 98.17 257.72  L 96.84 258.72  L 96.30 258.58  L 95.81 258.45  L 95.37 258.33  L 94.96 258.23  L 96.30 257.22  L 97.63 256.22  L 98.97 255.21  L 100.30 254.20  z " clip-path="url(#p91feb46b0d)" style="fill: #fff3e7; stroke: #fff3e7; stroke-width: 0.35"/> <path d="M 103.50 253.71  L 104.09 253.88  L 104.73 254.06  L 105.44 254.26  L 106.21 254.48  L 104.89 255.47  L 103.56 256.46  L 102.22 257.46  L 100.89 258.44  L 99.56 259.43  L 98.78 259.22  L 98.07 259.04  L 97.42 258.87  L 96.84 258.72  L 98.17 257.72  L 99.51 256.72  L 100.84 255.72  L 102.17 254.72  z " clip-path="url(#p91feb46b0d)" style="fill: #fff3e7; stroke: #fff3e7; stroke-width: 0.35"/> <path d="M 211.43 250.89  L 219.46 252.93  L 228.30 255.11  L 238.04 257.47  L 248.76 260.03  L 247.53 260.92  L 246.30 261.80  L 245.07 262.68  L 243.83 263.57  L 242.59 264.45  L 231.84 261.89  L 222.08 259.56  L 213.22 257.42  L 205.16 255.45  L 206.42 254.54  L 207.68 253.63  L 208.93 252.72  L 210.18 251.81  z " clip-path="url(#p91feb46b0d)" style="fill: #fff5ea; stroke: #fff5ea; stroke-width: 0.35"/> <path d="M 106.21 254.48  L 107.07 254.71  L 108.00 254.98  L 109.03 255.26  L 110.15 255.58  L 108.83 256.56  L 107.50 257.54  L 106.17 258.51  L 104.84 259.49  L 103.50 260.45  L 102.37 260.16  L 101.35 259.89  L 100.41 259.65  L 99.56 259.43  L 100.89 258.44  L 102.22 257.46  L 103.56 256.46  L 104.89 255.47  z " clip-path="url(#p91feb46b0d)" style="fill: #fff4e8; stroke: #fff4e8; stroke-width: 0.35"/> <path d="M 149.32 252.96  L 153.10 253.99  L 157.26 255.11  L 161.84 256.33  L 166.86 257.67  L 165.57 258.62  L 164.28 259.57  L 162.99 260.50  L 161.69 261.43  L 160.40 262.36  L 155.36 261.08  L 150.78 259.92  L 146.61 258.86  L 142.82 257.88  L 144.13 256.93  L 145.43 255.96  L 146.73 254.97  L 148.02 253.97  z " clip-path="url(#p91feb46b0d)" style="fill: #fff4e8; stroke: #fff4e8; stroke-width: 0.35"/> <path d="M 173.27 252.81  L 178.79 254.42  L 184.85 256.18  L 191.52 258.03  L 198.85 259.91  L 197.59 260.79  L 196.32 261.68  L 195.04 262.56  L 193.77 263.45  L 192.50 264.34  L 185.14 262.51  L 178.46 260.77  L 172.39 259.15  L 166.86 257.67  L 168.15 256.71  L 169.43 255.74  L 170.71 254.77  L 171.99 253.79  z " clip-path="url(#p91feb46b0d)" style="fill: #fff4e9; stroke: #fff4e9; stroke-width: 0.35"/> <path d="M 130.76 254.66  L 133.36 255.37  L 136.23 256.14  L 139.37 256.98  L 142.82 257.88  L 141.51 258.82  L 140.21 259.74  L 138.90 260.66  L 137.58 261.59  L 136.27 262.51  L 132.81 261.63  L 129.66 260.82  L 126.79 260.07  L 124.18 259.39  L 125.50 258.44  L 126.82 257.50  L 128.13 256.56  L 129.45 255.61  z " clip-path="url(#p91feb46b0d)" style="fill: #fff4e8; stroke: #fff4e8; stroke-width: 0.35"/> <path d="M 110.15 255.58  L 111.39 255.92  L 112.75 256.29  L 114.24 256.70  L 115.87 257.15  L 114.55 258.11  L 113.22 259.07  L 111.89 260.03  L 110.56 260.99  L 109.23 261.94  L 107.59 261.51  L 106.10 261.13  L 104.74 260.78  L 103.50 260.45  L 104.84 259.49  L 106.17 258.51  L 107.50 257.54  L 108.83 256.56  z " clip-path="url(#p91feb46b0d)" style="fill: #fff4e8; stroke: #fff4e8; stroke-width: 0.35"/> <path d="M 260.97 250.79  L 272.74 253.72  L 285.71 256.90  L 300.01 260.36  L 315.80 264.13  L 314.62 265.03  L 313.43 265.92  L 312.24 266.81  L 311.05 267.71  L 309.86 268.60  L 294.03 264.87  L 279.68 261.47  L 266.68 258.38  L 254.89 255.55  L 256.11 254.62  L 257.33 253.68  L 258.54 252.73  L 259.76 251.78  z " clip-path="url(#p91feb46b0d)" style="fill: #fff5ea; stroke: #fff5ea; stroke-width: 0.35"/> <path d="M 327.59 254.04  L 331.92 255.16  L 336.35 256.31  L 340.90 257.49  L 345.57 258.69  L 344.41 259.76  L 343.24 260.84  L 342.08 261.90  L 340.91 262.91  L 339.74 263.84  L 335.06 262.74  L 330.49 261.66  L 326.04 260.59  L 321.71 259.54  L 322.88 258.57  L 324.06 257.49  L 325.24 256.35  L 326.42 255.19  z " clip-path="url(#p91feb46b0d)" style="fill: #fff4e8; stroke: #fff4e8; stroke-width: 0.35"/> <path d="M 90.80 257.13  L 90.85 257.15  L 90.90 257.16  L 90.96 257.18  L 91.01 257.19  L 89.67 258.20  L 88.33 259.20  L 86.98 260.19  L 85.63 261.16  L 84.28 262.12  L 84.23 262.10  L 84.18 262.09  L 84.12 262.08  L 84.07 262.06  L 85.42 261.11  L 86.77 260.14  L 88.11 259.15  L 89.45 258.15  z " clip-path="url(#p91feb46b0d)" style="fill: #fff4e9; stroke: #fff4e9; stroke-width: 0.35"/> <path d="M 91.01 257.19  L 91.03 257.20  L 91.05 257.20  L 91.08 257.21  L 91.11 257.21  L 89.77 258.23  L 88.42 259.23  L 87.08 260.21  L 85.73 261.19  L 84.38 262.14  L 84.35 262.13  L 84.33 262.13  L 84.30 262.12  L 84.28 262.12  L 85.63 261.16  L 86.98 260.19  L 88.33 259.20  L 89.67 258.20  z " clip-path="url(#p91feb46b0d)" style="fill: #fff4e9; stroke: #fff4e9; stroke-width: 0.35"/> <path d="M 91.11 257.21  L 91.14 257.22  L 91.17 257.23  L 91.20 257.24  L 91.24 257.25  L 89.90 258.26  L 88.56 259.26  L 87.22 260.25  L 85.87 261.22  L 84.52 262.17  L 84.48 262.16  L 84.44 262.16  L 84.41 262.15  L 84.38 262.14  L 85.73 261.19  L 87.08 260.21  L 88.42 259.23  L 89.77 258.23  z " clip-path="url(#p91feb46b0d)" style="fill: #fff4e9; stroke: #fff4e9; stroke-width: 0.35"/> <path d="M 91.24 257.25  L 91.29 257.26  L 91.34 257.28  L 91.39 257.29  L 91.45 257.30  L 90.11 258.31  L 88.76 259.31  L 87.42 260.30  L 86.07 261.27  L 84.72 262.22  L 84.66 262.21  L 84.61 262.20  L 84.56 262.19  L 84.52 262.17  L 85.87 261.22  L 87.22 260.25  L 88.56 259.26  L 89.90 258.26  z " clip-path="url(#p91feb46b0d)" style="fill: #fff4e9; stroke: #fff4e9; stroke-width: 0.35"/> <path d="M 91.45 257.30  L 91.51 257.32  L 91.58 257.34  L 91.66 257.36  L 91.74 257.38  L 90.40 258.39  L 89.06 259.39  L 87.71 260.37  L 86.36 261.34  L 85.01 262.30  L 84.93 262.27  L 84.85 262.26  L 84.78 262.24  L 84.72 262.22  L 86.07 261.27  L 87.42 260.30  L 88.76 259.31  L 90.11 258.31  z " clip-path="url(#p91feb46b0d)" style="fill: #fff4e9; stroke: #fff4e9; stroke-width: 0.35"/> <path d="M 91.74 257.38  L 91.83 257.41  L 91.93 257.43  L 92.04 257.46  L 92.16 257.49  L 90.82 258.50  L 89.48 259.49  L 88.14 260.48  L 86.79 261.45  L 85.44 262.40  L 85.32 262.37  L 85.21 262.34  L 85.11 262.32  L 85.01 262.30  L 86.36 261.34  L 87.71 260.37  L 89.06 259.39  L 90.40 258.39  z " clip-path="url(#p91feb46b0d)" style="fill: #fff4e9; stroke: #fff4e9; stroke-width: 0.35"/> <path d="M 92.16 257.49  L 92.30 257.53  L 92.44 257.57  L 92.60 257.61  L 92.78 257.65  L 91.44 258.66  L 90.10 259.65  L 88.75 260.63  L 87.40 261.60  L 86.05 262.55  L 85.88 262.51  L 85.72 262.47  L 85.57 262.43  L 85.44 262.40  L 86.79 261.45  L 88.14 260.48  L 89.48 259.49  L 90.82 258.50  z " clip-path="url(#p91feb46b0d)" style="fill: #fff4e9; stroke: #fff4e9; stroke-width: 0.35"/> <path d="M 92.78 257.65  L 92.97 257.70  L 93.18 257.76  L 93.42 257.82  L 93.67 257.89  L 92.33 258.89  L 90.99 259.88  L 89.64 260.85  L 88.30 261.82  L 86.95 262.77  L 86.69 262.70  L 86.46 262.65  L 86.25 262.60  L 86.05 262.55  L 87.40 261.60  L 88.75 260.63  L 90.10 259.65  L 91.44 258.66  z " clip-path="url(#p91feb46b0d)" style="fill: #fff4e9; stroke: #fff4e9; stroke-width: 0.35"/> <path d="M 93.67 257.89  L 93.95 257.96  L 94.26 258.04  L 94.59 258.13  L 94.96 258.23  L 93.62 259.22  L 92.28 260.20  L 90.94 261.18  L 89.59 262.14  L 88.24 263.08  L 87.87 262.99  L 87.53 262.91  L 87.23 262.83  L 86.95 262.77  L 88.30 261.82  L 89.64 260.85  L 90.99 259.88  L 92.33 258.89  z " clip-path="url(#p91feb46b0d)" style="fill: #fff4e9; stroke: #fff4e9; stroke-width: 0.35"/> <path d="M 115.87 257.15  L 117.67 257.64  L 119.64 258.17  L 121.80 258.75  L 124.18 259.39  L 122.86 260.33  L 121.54 261.27  L 120.21 262.20  L 118.88 263.13  L 117.55 264.06  L 115.17 263.46  L 113.00 262.90  L 111.03 262.40  L 109.23 261.94  L 110.56 260.99  L 111.89 260.03  L 113.22 259.07  L 114.55 258.11  z " clip-path="url(#p91feb46b0d)" style="fill: #fff4e9; stroke: #fff4e9; stroke-width: 0.35"/> <path d="M 94.96 258.23  L 95.37 258.33  L 95.81 258.45  L 96.30 258.58  L 96.84 258.72  L 95.50 259.70  L 94.16 260.68  L 92.81 261.65  L 91.47 262.60  L 90.12 263.54  L 89.58 263.41  L 89.09 263.29  L 88.65 263.18  L 88.24 263.08  L 89.59 262.14  L 90.94 261.18  L 92.28 260.20  L 93.62 259.22  z " clip-path="url(#p91feb46b0d)" style="fill: #fff5ea; stroke: #fff5ea; stroke-width: 0.35"/> <path d="M 96.84 258.72  L 97.42 258.87  L 98.07 259.04  L 98.78 259.22  L 99.56 259.43  L 98.22 260.40  L 96.88 261.37  L 95.53 262.33  L 94.19 263.27  L 92.84 264.20  L 92.06 264.01  L 91.35 263.84  L 90.71 263.68  L 90.12 263.54  L 91.47 262.60  L 92.81 261.65  L 94.16 260.68  L 95.50 259.70  z " clip-path="url(#p91feb46b0d)" style="fill: #fff5ea; stroke: #fff5ea; stroke-width: 0.35"/> <path d="M 205.16 255.45  L 213.22 257.42  L 222.08 259.56  L 231.84 261.89  L 242.59 264.45  L 241.35 265.34  L 240.11 266.23  L 238.87 267.12  L 237.62 268.01  L 236.37 268.90  L 225.59 266.33  L 215.81 263.99  L 206.92 261.86  L 198.85 259.91  L 200.12 259.03  L 201.38 258.14  L 202.65 257.25  L 203.91 256.35  z " clip-path="url(#p91feb46b0d)" style="fill: #fff5eb; stroke: #fff5eb; stroke-width: 0.35"/> <path d="M 99.56 259.43  L 100.41 259.65  L 101.35 259.89  L 102.37 260.16  L 103.50 260.45  L 102.16 261.42  L 100.82 262.37  L 99.48 263.31  L 98.14 264.25  L 96.79 265.17  L 95.66 264.89  L 94.63 264.64  L 93.70 264.41  L 92.84 264.20  L 94.19 263.27  L 95.53 262.33  L 96.88 261.37  L 98.22 260.40  z " clip-path="url(#p91feb46b0d)" style="fill: #fff5ea; stroke: #fff5ea; stroke-width: 0.35"/> <path d="M 142.82 257.88  L 146.61 258.86  L 150.78 259.92  L 155.36 261.08  L 160.40 262.36  L 159.10 263.27  L 157.80 264.18  L 156.49 265.08  L 155.19 265.99  L 153.88 266.90  L 148.84 265.64  L 144.25 264.50  L 140.07 263.46  L 136.27 262.51  L 137.58 261.59  L 138.90 260.66  L 140.21 259.74  L 141.51 258.82  z " clip-path="url(#p91feb46b0d)" style="fill: #fff5ea; stroke: #fff5ea; stroke-width: 0.35"/> <path d="M 166.86 257.67  L 172.39 259.15  L 178.46 260.77  L 185.14 262.51  L 192.50 264.34  L 191.22 265.23  L 189.94 266.12  L 188.66 267.01  L 187.37 267.90  L 186.09 268.79  L 178.72 266.98  L 172.02 265.31  L 165.93 263.76  L 160.40 262.36  L 161.69 261.43  L 162.99 260.50  L 164.28 259.57  L 165.57 258.62  z " clip-path="url(#p91feb46b0d)" style="fill: #fff5ea; stroke: #fff5ea; stroke-width: 0.35"/> <path d="M 124.18 259.39  L 126.79 260.07  L 129.66 260.82  L 132.81 261.63  L 136.27 262.51  L 134.95 263.43  L 133.63 264.35  L 132.31 265.26  L 130.99 266.18  L 129.66 267.09  L 126.20 266.23  L 123.04 265.44  L 120.17 264.72  L 117.55 264.06  L 118.88 263.13  L 120.21 262.20  L 121.54 261.27  L 122.86 260.33  z " clip-path="url(#p91feb46b0d)" style="fill: #fff5ea; stroke: #fff5ea; stroke-width: 0.35"/> <path d="M 103.50 260.45  L 104.74 260.78  L 106.10 261.13  L 107.59 261.51  L 109.23 261.94  L 107.89 262.88  L 106.56 263.82  L 105.22 264.74  L 103.87 265.66  L 102.53 266.57  L 100.89 266.17  L 99.39 265.81  L 98.03 265.47  L 96.79 265.17  L 98.14 264.25  L 99.48 263.31  L 100.82 262.37  L 102.16 261.42  z " clip-path="url(#p91feb46b0d)" style="fill: #fff5ea; stroke: #fff5ea; stroke-width: 0.35"/> <path d="M 321.71 259.54  L 326.04 260.59  L 330.49 261.66  L 335.06 262.74  L 339.74 263.84  L 338.57 264.76  L 337.41 265.67  L 336.23 266.58  L 335.06 267.49  L 333.89 268.39  L 329.19 267.29  L 324.61 266.21  L 320.15 265.16  L 315.80 264.13  L 316.99 263.22  L 318.17 262.31  L 319.35 261.40  L 320.53 260.47  z " clip-path="url(#p91feb46b0d)" style="fill: #fff5eb; stroke: #fff5eb; stroke-width: 0.35"/> <path d="M 254.89 255.55  L 266.68 258.38  L 279.68 261.47  L 294.03 264.87  L 309.86 268.60  L 308.67 269.49  L 307.47 270.39  L 306.28 271.28  L 305.08 272.17  L 303.88 273.07  L 288.00 269.33  L 273.62 265.93  L 260.59 262.84  L 248.76 260.03  L 249.99 259.15  L 251.22 258.27  L 252.44 257.38  L 253.67 256.47  z " clip-path="url(#p91feb46b0d)" style="fill: #fff5eb; stroke: #fff5eb; stroke-width: 0.35"/> <path d="M 109.23 261.94  L 111.03 262.40  L 113.00 262.90  L 115.17 263.46  L 117.55 264.06  L 116.22 264.98  L 114.89 265.90  L 113.55 266.81  L 112.21 267.72  L 110.87 268.62  L 108.48 268.03  L 106.31 267.50  L 104.33 267.01  L 102.53 266.57  L 103.87 265.66  L 105.22 264.74  L 106.56 263.82  L 107.89 262.88  z " clip-path="url(#p91feb46b0d)" style="fill: #fff5ea; stroke: #fff5ea; stroke-width: 0.35"/> <path d="M 198.85 259.91  L 206.92 261.86  L 215.81 263.99  L 225.59 266.33  L 236.37 268.90  L 235.12 269.79  L 233.87 270.68  L 232.62 271.58  L 231.36 272.47  L 230.11 273.37  L 219.30 270.78  L 209.49 268.43  L 200.59 266.29  L 192.50 264.34  L 193.77 263.45  L 195.04 262.56  L 196.32 261.68  L 197.59 260.79  z " clip-path="url(#p91feb46b0d)" style="fill: #fff5eb; stroke: #fff5eb; stroke-width: 0.35"/> <path d="M 136.27 262.51  L 140.07 263.46  L 144.25 264.50  L 148.84 265.64  L 153.88 266.90  L 152.57 267.81  L 151.26 268.71  L 149.95 269.62  L 148.64 270.53  L 147.32 271.43  L 142.26 270.19  L 137.66 269.06  L 133.47 268.03  L 129.66 267.09  L 130.99 266.18  L 132.31 265.26  L 133.63 264.35  L 134.95 263.43  z " clip-path="url(#p91feb46b0d)" style="fill: #fff5ea; stroke: #fff5ea; stroke-width: 0.35"/> <path d="M 160.40 262.36  L 165.93 263.76  L 172.02 265.31  L 178.72 266.98  L 186.09 268.79  L 184.80 269.68  L 183.51 270.58  L 182.22 271.47  L 180.93 272.37  L 179.63 273.27  L 172.25 271.46  L 165.54 269.80  L 159.43 268.28  L 153.88 266.90  L 155.19 265.99  L 156.49 265.08  L 157.80 264.18  L 159.10 263.27  z " clip-path="url(#p91feb46b0d)" style="fill: #fff5eb; stroke: #fff5eb; stroke-width: 0.35"/> <path d="M 117.55 264.06  L 120.17 264.72  L 123.04 265.44  L 126.20 266.23  L 129.66 267.09  L 128.34 268.00  L 127.01 268.90  L 125.68 269.80  L 124.34 270.70  L 123.01 271.60  L 119.53 270.74  L 116.37 269.97  L 113.49 269.26  L 110.87 268.62  L 112.21 267.72  L 113.55 266.81  L 114.89 265.90  L 116.22 264.98  z " clip-path="url(#p91feb46b0d)" style="fill: #fff5eb; stroke: #fff5eb; stroke-width: 0.35"/> <path d="M 315.80 264.13  L 320.15 265.16  L 324.61 266.21  L 329.19 267.29  L 333.89 268.39  L 332.71 269.28  L 331.54 270.17  L 330.36 271.07  L 329.18 271.96  L 327.99 272.85  L 323.28 271.75  L 318.69 270.67  L 314.22 269.63  L 309.86 268.60  L 311.05 267.71  L 312.24 266.81  L 313.43 265.92  L 314.62 265.03  z " clip-path="url(#p91feb46b0d)" style="fill: #fff5eb; stroke: #fff5eb; stroke-width: 0.35"/> <path d="M 248.76 260.03  L 260.59 262.84  L 273.62 265.93  L 288.00 269.33  L 303.88 273.07  L 302.67 273.96  L 301.47 274.86  L 300.26 275.76  L 299.06 276.66  L 297.85 277.56  L 281.93 273.79  L 267.51 270.37  L 254.44 267.27  L 242.59 264.45  L 243.83 263.57  L 245.07 262.68  L 246.30 261.80  L 247.53 260.92  z " clip-path="url(#p91feb46b0d)" style="fill: #fff5eb; stroke: #fff5eb; stroke-width: 0.35"/> <path d="M 192.50 264.34  L 200.59 266.29  L 209.49 268.43  L 219.30 270.78  L 230.11 273.37  L 228.85 274.27  L 227.59 275.17  L 226.33 276.07  L 225.06 276.97  L 223.79 277.87  L 212.96 275.27  L 203.13 272.90  L 194.20 270.75  L 186.09 268.79  L 187.37 267.90  L 188.66 267.01  L 189.94 266.12  L 191.22 265.23  z " clip-path="url(#p91feb46b0d)" style="fill: #fff5eb; stroke: #fff5eb; stroke-width: 0.35"/> <path d="M 129.66 267.09  L 133.47 268.03  L 137.66 269.06  L 142.26 270.19  L 147.32 271.43  L 146.00 272.34  L 144.68 273.24  L 143.35 274.14  L 142.03 275.04  L 140.70 275.94  L 135.63 274.70  L 131.02 273.56  L 126.82 272.53  L 123.01 271.60  L 124.34 270.70  L 125.68 269.80  L 127.01 268.90  L 128.34 268.00  z " clip-path="url(#p91feb46b0d)" style="fill: #fff5eb; stroke: #fff5eb; stroke-width: 0.35"/> <path d="M 153.88 266.90  L 159.43 268.28  L 165.54 269.80  L 172.25 271.46  L 179.63 273.27  L 178.34 274.17  L 177.04 275.07  L 175.74 275.97  L 174.44 276.87  L 173.13 277.77  L 165.73 275.96  L 159.00 274.31  L 152.88 272.80  L 147.32 271.43  L 148.64 270.53  L 149.95 269.62  L 151.26 268.71  L 152.57 267.81  z " clip-path="url(#p91feb46b0d)" style="fill: #fff5eb; stroke: #fff5eb; stroke-width: 0.35"/> <path d="M 309.86 268.60  L 314.22 269.63  L 318.69 270.67  L 323.28 271.75  L 327.99 272.85  L 326.81 273.75  L 325.62 274.65  L 324.44 275.55  L 323.25 276.45  L 322.06 277.35  L 317.33 276.24  L 312.73 275.15  L 308.25 274.10  L 303.88 273.07  L 305.08 272.17  L 306.28 271.28  L 307.47 270.39  L 308.67 269.49  z " clip-path="url(#p91feb46b0d)" style="fill: #fff5eb; stroke: #fff5eb; stroke-width: 0.35"/> <path d="M 242.59 264.45  L 254.44 267.27  L 267.51 270.37  L 281.93 273.79  L 297.85 277.56  L 296.63 278.46  L 295.42 279.36  L 294.20 280.27  L 292.99 281.17  L 291.77 282.08  L 275.81 278.29  L 261.36 274.85  L 248.25 271.73  L 236.37 268.90  L 237.62 268.01  L 238.87 267.12  L 240.11 266.23  L 241.35 265.34  z " clip-path="url(#p91feb46b0d)" style="fill: #fff5eb; stroke: #fff5eb; stroke-width: 0.35"/> <path d="M 186.09 268.79  L 194.20 270.75  L 203.13 272.90  L 212.96 275.27  L 223.79 277.87  L 222.53 278.78  L 221.26 279.68  L 219.98 280.59  L 218.71 281.49  L 217.43 282.40  L 206.57 279.78  L 196.71 277.40  L 187.76 275.24  L 179.63 273.27  L 180.93 272.37  L 182.22 271.47  L 183.51 270.58  L 184.80 269.68  z " clip-path="url(#p91feb46b0d)" style="fill: #fff5eb; stroke: #fff5eb; stroke-width: 0.35"/> <path d="M 147.32 271.43  L 152.88 272.80  L 159.00 274.31  L 165.73 275.96  L 173.13 277.77  L 171.82 278.67  L 170.52 279.58  L 169.20 280.49  L 167.89 281.39  L 166.58 282.30  L 159.15 280.48  L 152.41 278.82  L 146.28 277.31  L 140.70 275.94  L 142.03 275.04  L 143.35 274.14  L 144.68 273.24  L 146.00 272.34  z " clip-path="url(#p91feb46b0d)" style="fill: #fff5eb; stroke: #fff5eb; stroke-width: 0.35"/> <path d="M 303.88 273.07  L 308.25 274.10  L 312.73 275.15  L 317.33 276.24  L 322.06 277.35  L 320.86 278.25  L 319.67 279.15  L 318.47 280.06  L 317.27 280.96  L 316.07 281.87  L 311.34 280.75  L 306.72 279.66  L 302.23 278.60  L 297.85 277.56  L 299.06 276.66  L 300.26 275.76  L 301.47 274.86  L 302.67 273.96  z " clip-path="url(#p91feb46b0d)" style="fill: #fff5eb; stroke: #fff5eb; stroke-width: 0.35"/> <path d="M 236.37 268.90  L 248.25 271.73  L 261.36 274.85  L 275.81 278.29  L 291.77 282.08  L 290.55 282.99  L 289.32 283.90  L 288.10 284.81  L 286.87 285.73  L 285.64 286.64  L 269.65 282.82  L 255.15 279.36  L 242.02 276.22  L 230.11 273.37  L 231.36 272.47  L 232.62 271.58  L 233.87 270.68  L 235.12 269.79  z " clip-path="url(#p91feb46b0d)" style="fill: #fff5eb; stroke: #fff5eb; stroke-width: 0.35"/> <path d="M 179.63 273.27  L 187.76 275.24  L 196.71 277.40  L 206.57 279.78  L 217.43 282.40  L 216.16 283.31  L 214.88 284.22  L 213.59 285.14  L 212.31 286.05  L 211.02 286.97  L 200.14 284.33  L 190.25 281.93  L 181.28 279.75  L 173.13 277.77  L 174.44 276.87  L 175.74 275.97  L 177.04 275.07  L 178.34 274.17  z " clip-path="url(#p91feb46b0d)" style="fill: #fff5eb; stroke: #fff5eb; stroke-width: 0.35"/> <path d="M 297.85 277.56  L 302.23 278.60  L 306.72 279.66  L 311.34 280.75  L 316.07 281.87  L 314.87 282.78  L 313.67 283.69  L 312.46 284.60  L 311.25 285.51  L 310.04 286.43  L 305.30 285.30  L 300.67 284.20  L 296.16 283.13  L 291.77 282.08  L 292.99 281.17  L 294.20 280.27  L 295.42 279.36  L 296.63 278.46  z " clip-path="url(#p91feb46b0d)" style="fill: #fff5eb; stroke: #fff5eb; stroke-width: 0.35"/> <path d="M 230.11 273.37  L 242.02 276.22  L 255.15 279.36  L 269.65 282.82  L 285.64 286.64  L 284.41 287.56  L 283.18 288.47  L 281.95 289.39  L 280.71 290.31  L 279.47 291.23  L 263.43 287.39  L 248.91 283.90  L 235.74 280.74  L 223.79 277.87  L 225.06 276.97  L 226.33 276.07  L 227.59 275.17  L 228.85 274.27  z " clip-path="url(#p91feb46b0d)" style="fill: #fff5eb; stroke: #fff5eb; stroke-width: 0.35"/> <path d="M 173.13 277.77  L 181.28 279.75  L 190.25 281.93  L 200.14 284.33  L 211.02 286.97  L 209.74 287.88  L 208.45 288.80  L 207.15 289.72  L 205.86 290.64  L 204.57 291.56  L 193.65 288.90  L 183.74 286.49  L 174.75 284.29  L 166.58 282.30  L 167.89 281.39  L 169.20 280.49  L 170.52 279.58  L 171.82 278.67  z " clip-path="url(#p91feb46b0d)" style="fill: #fff5eb; stroke: #fff5eb; stroke-width: 0.35"/> <path d="M 291.77 282.08  L 296.16 283.13  L 300.67 284.20  L 305.30 285.30  L 310.04 286.43  L 308.83 287.34  L 307.62 288.26  L 306.40 289.18  L 305.19 290.10  L 303.97 291.02  L 299.21 289.88  L 294.57 288.77  L 290.05 287.69  L 285.64 286.64  L 286.87 285.73  L 288.10 284.81  L 289.32 283.90  L 290.55 282.99  z " clip-path="url(#p91feb46b0d)" style="fill: #fff5eb; stroke: #fff5eb; stroke-width: 0.35"/> <path d="M 223.79 277.87  L 235.74 280.74  L 248.91 283.90  L 263.43 287.39  L 279.47 291.23  L 278.23 292.16  L 276.99 293.08  L 275.75 294.01  L 274.50 294.93  L 273.26 295.86  L 257.18 291.99  L 242.61 288.47  L 229.41 285.29  L 217.43 282.40  L 218.71 281.49  L 219.98 280.59  L 221.26 279.68  L 222.53 278.78  z " clip-path="url(#p91feb46b0d)" style="fill: #fff5eb; stroke: #fff5eb; stroke-width: 0.35"/> <path d="M 285.64 286.64  L 290.05 287.69  L 294.57 288.77  L 299.21 289.88  L 303.97 291.02  L 302.75 291.94  L 301.52 292.86  L 300.30 293.79  L 299.07 294.71  L 297.85 295.64  L 293.07 294.50  L 288.42 293.38  L 283.89 292.29  L 279.47 291.23  L 280.71 290.31  L 281.95 289.39  L 283.18 288.47  L 284.41 287.56  z " clip-path="url(#p91feb46b0d)" style="fill: #fff5eb; stroke: #fff5eb; stroke-width: 0.35"/> <path d="M 217.43 282.40  L 229.41 285.29  L 242.61 288.47  L 257.18 291.99  L 273.26 295.86  L 272.01 296.79  L 270.76 297.72  L 269.50 298.66  L 268.25 299.59  L 266.99 300.53  L 250.87 296.62  L 236.26 293.08  L 223.03 289.88  L 211.02 286.97  L 212.31 286.05  L 213.59 285.14  L 214.88 284.22  L 216.16 283.31  z " clip-path="url(#p91feb46b0d)" style="fill: #fff5eb; stroke: #fff5eb; stroke-width: 0.35"/> <path d="M 279.47 291.23  L 283.89 292.29  L 288.42 293.38  L 293.07 294.50  L 297.85 295.64  L 296.62 296.57  L 295.38 297.50  L 294.15 298.43  L 292.91 299.37  L 291.68 300.30  L 286.89 299.15  L 282.23 298.03  L 277.68 296.93  L 273.26 295.86  L 274.50 294.93  L 275.75 294.01  L 276.99 293.08  L 278.23 292.16  z " clip-path="url(#p91feb46b0d)" style="fill: #fff5eb; stroke: #fff5eb; stroke-width: 0.35"/> <path d="M 211.02 286.97  L 223.03 289.88  L 236.26 293.08  L 250.87 296.62  L 266.99 300.53  L 265.73 301.46  L 264.47 302.40  L 263.21 303.34  L 261.94 304.28  L 260.68 305.23  L 244.51 301.29  L 229.87 297.72  L 216.60 294.49  L 204.57 291.56  L 205.86 290.64  L 207.15 289.72  L 208.45 288.80  L 209.74 287.88  z " clip-path="url(#p91feb46b0d)" style="fill: #fff5eb; stroke: #fff5eb; stroke-width: 0.35"/> <path d="M 273.26 295.86  L 277.68 296.93  L 282.23 298.03  L 286.89 299.15  L 291.68 300.30  L 290.44 301.24  L 289.19 302.18  L 287.95 303.12  L 286.71 304.06  L 285.46 305.00  L 280.66 303.84  L 275.99 302.71  L 271.43 301.60  L 266.99 300.53  L 268.25 299.59  L 269.50 298.66  L 270.76 297.72  L 272.01 296.79  z " clip-path="url(#p91feb46b0d)" style="fill: #fff5eb; stroke: #fff5eb; stroke-width: 0.35"/> <path d="M 266.99 300.53  L 271.43 301.60  L 275.99 302.71  L 280.66 303.84  L 285.46 305.00  L 284.21 305.95  L 282.96 306.89  L 281.70 307.84  L 280.45 308.79  L 279.19 309.74  L 274.38 308.56  L 269.69 307.42  L 265.13 306.31  L 260.68 305.23  L 261.94 304.28  L 263.21 303.34  L 264.47 302.40  L 265.73 301.46  z " clip-path="url(#p91feb46b0d)" style="fill: #fff5eb; stroke: #fff5eb; stroke-width: 0.35"/> </g> <g id="legend_1"> <g id="patch_6"> <path d="M 9.51 47.28  L 167.91 47.28  Q 169.91 47.28 169.91 45.28  L 169.91 8.28  Q 169.91 6.28 167.91 6.28  L 9.51 6.28  Q 7.51 6.28 7.51 8.28  L 7.51 45.28  Q 7.51 47.28 9.51 47.28  z " style="fill: #4c4c4c; stroke: #4c4c4c; stroke-linejoin: miter"/> </g> <g id="patch_7"> <path d="M 7.51 45.28  L 165.91 45.28  Q 167.91 45.28 167.91 43.28  L 167.91 6.28  Q 167.91 4.28 165.91 4.28  L 7.51 4.28  Q 5.51 4.28 5.51 6.28  L 5.51 43.28  Q 5.51 45.28 7.51 45.28  z " style="fill: #ffffff; stroke: #cccccc; stroke-linejoin: miter"/> </g> <g id="line2d_24"> <path d="M 9.51 15.68  L 19.51 15.68  L 29.51 15.68  " style="fill: none; stroke: #008000; stroke-width: 1.5; stroke-linecap: square"/> </g> <g id="text_22"> <!-- $\int d\vec{b}\alpha_s$xG($b$, $k_t$, Y=2.0)/12 --> <g transform="translate(37.51 19.18) translate(0 -7.29) scale(1 1.09) translate(0 7.29)"> <text><tspan x="0" y="-0.15" style="font-size: 14.14px; font-family: 'DejaVu Sans', 'Liberation Sans', sans-serif, 'Liberation Sans', sans-serif">∫</tspan><tspan x="7.36" y="-0.15" style="font-style: oblique; font-size: 10px; font-family: 'DejaVu Sans', 'Liberation Sans', sans-serif">d</tspan><tspan x="13.71" y="-0.15" style="font-style: oblique; font-size: 10px; font-family: 'DejaVu Sans', 'Liberation Sans', sans-serif">b</tspan><tspan x="20.00" y="-3.40" style="font-size: 10px; font-family: 'DejaVu Sans', 'Liberation Sans', sans-serif">⃗</tspan><tspan x="20.05" y="-0.15" style="font-style: oblique; font-size: 10px; font-family: 'DejaVu Sans', 'Liberation Sans', sans-serif">α</tspan><tspan x="26.65" y="1.48" style="font-style: oblique; font-size: 7px; font-family: 'DejaVu Sans', 'Liberation Sans', sans-serif">s</tspan><tspan x="30.57" y="-0.15" style="font-size: 10px; font-family: 'DejaVu Sans', 'Liberation Sans', sans-serif">x</tspan><tspan x="36.48" y="-0.15" style="font-size: 10px; font-family: 'DejaVu Sans', 'Liberation Sans', sans-serif">G</tspan><tspan x="44.23" y="-0.15" style="font-size: 10px; font-family: 'DejaVu Sans', 'Liberation Sans', sans-serif">(</tspan><tspan x="48.13" y="-0.15" style="font-style: oblique; font-size: 10px; font-family: 'DejaVu Sans', 'Liberation Sans', sans-serif">b</tspan><tspan x="54.48" y="-0.15" style="font-size: 10px; font-family: 'DejaVu Sans', 'Liberation Sans', sans-serif">,</tspan><tspan x="57.66" y="-0.15" style="font-size: 10px; font-family: 'DejaVu Sans', 'Liberation Sans', sans-serif"> </tspan><tspan x="60.84" y="-0.15" style="font-style: oblique; font-size: 10px; font-family: 'DejaVu Sans', 'Liberation Sans', sans-serif">k</tspan><tspan x="66.63" y="1.48" style="font-style: oblique; font-size: 7px; font-family: 'DejaVu Sans', 'Liberation Sans', sans-serif">t</tspan><tspan x="69.65" y="-0.15" style="font-size: 10px; font-family: 'DejaVu Sans', 'Liberation Sans', sans-serif">,</tspan><tspan x="72.83" y="-0.15" style="font-size: 10px; font-family: 'DejaVu Sans', 'Liberation Sans', sans-serif"> </tspan><tspan x="76.01" y="-0.15" style="font-size: 10px; font-family: 'DejaVu Sans', 'Liberation Sans', sans-serif">Y</tspan><tspan x="82.11" y="-0.15" style="font-size: 10px; font-family: 'DejaVu Sans', 'Liberation Sans', sans-serif">=</tspan><tspan x="90.49" y="-0.15" style="font-size: 10px; font-family: 'DejaVu Sans', 'Liberation Sans', sans-serif">2</tspan><tspan x="96.86" y="-0.15" style="font-size: 10px; font-family: 'DejaVu Sans', 'Liberation Sans', sans-serif">.</tspan><tspan x="100.03" y="-0.15" style="font-size: 10px; font-family: 'DejaVu Sans', 'Liberation Sans', sans-serif">0</tspan><tspan x="106.40" y="-0.15" style="font-size: 10px; font-family: 'DejaVu Sans', 'Liberation Sans', sans-serif">)</tspan><tspan x="110.30" y="-0.15" style="font-size: 10px; font-family: 'DejaVu Sans', 'Liberation Sans', sans-serif">/</tspan><tspan x="113.67" y="-0.15" style="font-size: 10px; font-family: 'DejaVu Sans', 'Liberation Sans', sans-serif">1</tspan><tspan x="120.03" y="-0.15" style="font-size: 10px; font-family: 'DejaVu Sans', 'Liberation Sans', sans-serif">2</tspan></text> </g> </g> <g id="line2d_25"> <path d="M 9.51 34.68  L 19.51 34.68  L 29.51 34.68  " style="fill: none; stroke: #ff0000; stroke-width: 1.5; stroke-linecap: square"/> </g> <g id="text_23"> <!-- $\int d\vec{k_t}\alpha_s$xG($b$, $k_t$, Y=2.0) --> <g transform="translate(37.51 38.18) translate(0 -7.29) scale(1 1.09) translate(0 7.29)"> <text><tspan x="0" y="-0.15" style="font-size: 14.14px; font-family: 'DejaVu Sans', 'Liberation Sans', sans-serif, 'Liberation Sans', sans-serif">∫</tspan><tspan x="7.36" y="-0.15" style="font-style: oblique; font-size: 10px; font-family: 'DejaVu Sans', 'Liberation Sans', sans-serif">d</tspan><tspan x="13.71" y="-0.15" style="font-style: oblique; font-size: 10px; font-family: 'DejaVu Sans', 'Liberation Sans', sans-serif">k</tspan><tspan x="19.50" y="1.48" style="font-style: oblique; font-size: 7px; font-family: 'DejaVu Sans', 'Liberation Sans', sans-serif">t</tspan><tspan x="21.61" y="-3.40" style="font-size: 10px; font-family: 'DejaVu Sans', 'Liberation Sans', sans-serif">⃗</tspan><tspan x="22.52" y="-0.15" style="font-style: oblique; font-size: 10px; font-family: 'DejaVu Sans', 'Liberation Sans', sans-serif">α</tspan><tspan x="29.11" y="1.48" style="font-style: oblique; font-size: 7px; font-family: 'DejaVu Sans', 'Liberation Sans', sans-serif">s</tspan><tspan x="33.03" y="-0.15" style="font-size: 10px; font-family: 'DejaVu Sans', 'Liberation Sans', sans-serif">x</tspan><tspan x="38.95" y="-0.15" style="font-size: 10px; font-family: 'DejaVu Sans', 'Liberation Sans', sans-serif">G</tspan><tspan x="46.69" y="-0.15" style="font-size: 10px; font-family: 'DejaVu Sans', 'Liberation Sans', sans-serif">(</tspan><tspan x="50.60" y="-0.15" style="font-style: oblique; font-size: 10px; font-family: 'DejaVu Sans', 'Liberation Sans', sans-serif">b</tspan><tspan x="56.94" y="-0.15" style="font-size: 10px; font-family: 'DejaVu Sans', 'Liberation Sans', sans-serif">,</tspan><tspan x="60.12" y="-0.15" style="font-size: 10px; font-family: 'DejaVu Sans', 'Liberation Sans', sans-serif"> </tspan><tspan x="63.30" y="-0.15" style="font-style: oblique; font-size: 10px; font-family: 'DejaVu Sans', 'Liberation Sans', sans-serif">k</tspan><tspan x="69.09" y="1.48" style="font-style: oblique; font-size: 7px; font-family: 'DejaVu Sans', 'Liberation Sans', sans-serif">t</tspan><tspan x="72.11" y="-0.15" style="font-size: 10px; font-family: 'DejaVu Sans', 'Liberation Sans', sans-serif">,</tspan><tspan x="75.29" y="-0.15" style="font-size: 10px; font-family: 'DejaVu Sans', 'Liberation Sans', sans-serif"> </tspan><tspan x="78.47" y="-0.15" style="font-size: 10px; font-family: 'DejaVu Sans', 'Liberation Sans', sans-serif">Y</tspan><tspan x="84.58" y="-0.15" style="font-size: 10px; font-family: 'DejaVu Sans', 'Liberation Sans', sans-serif">=</tspan><tspan x="92.95" y="-0.15" style="font-size: 10px; font-family: 'DejaVu Sans', 'Liberation Sans', sans-serif">2</tspan><tspan x="99.32" y="-0.15" style="font-size: 10px; font-family: 'DejaVu Sans', 'Liberation Sans', sans-serif">.</tspan><tspan x="102.50" y="-0.15" style="font-size: 10px; font-family: 'DejaVu Sans', 'Liberation Sans', sans-serif">0</tspan><tspan x="108.86" y="-0.15" style="font-size: 10px; font-family: 'DejaVu Sans', 'Liberation Sans', sans-serif">)</tspan></text> </g> </g> </g> </g> </g> <defs> <clipPath id="p91feb46b0d"> <rect x="0.74" y="-0.69" width="459.40" height="344.76"/> </clipPath> </defs> </svg> 
</body></html>
